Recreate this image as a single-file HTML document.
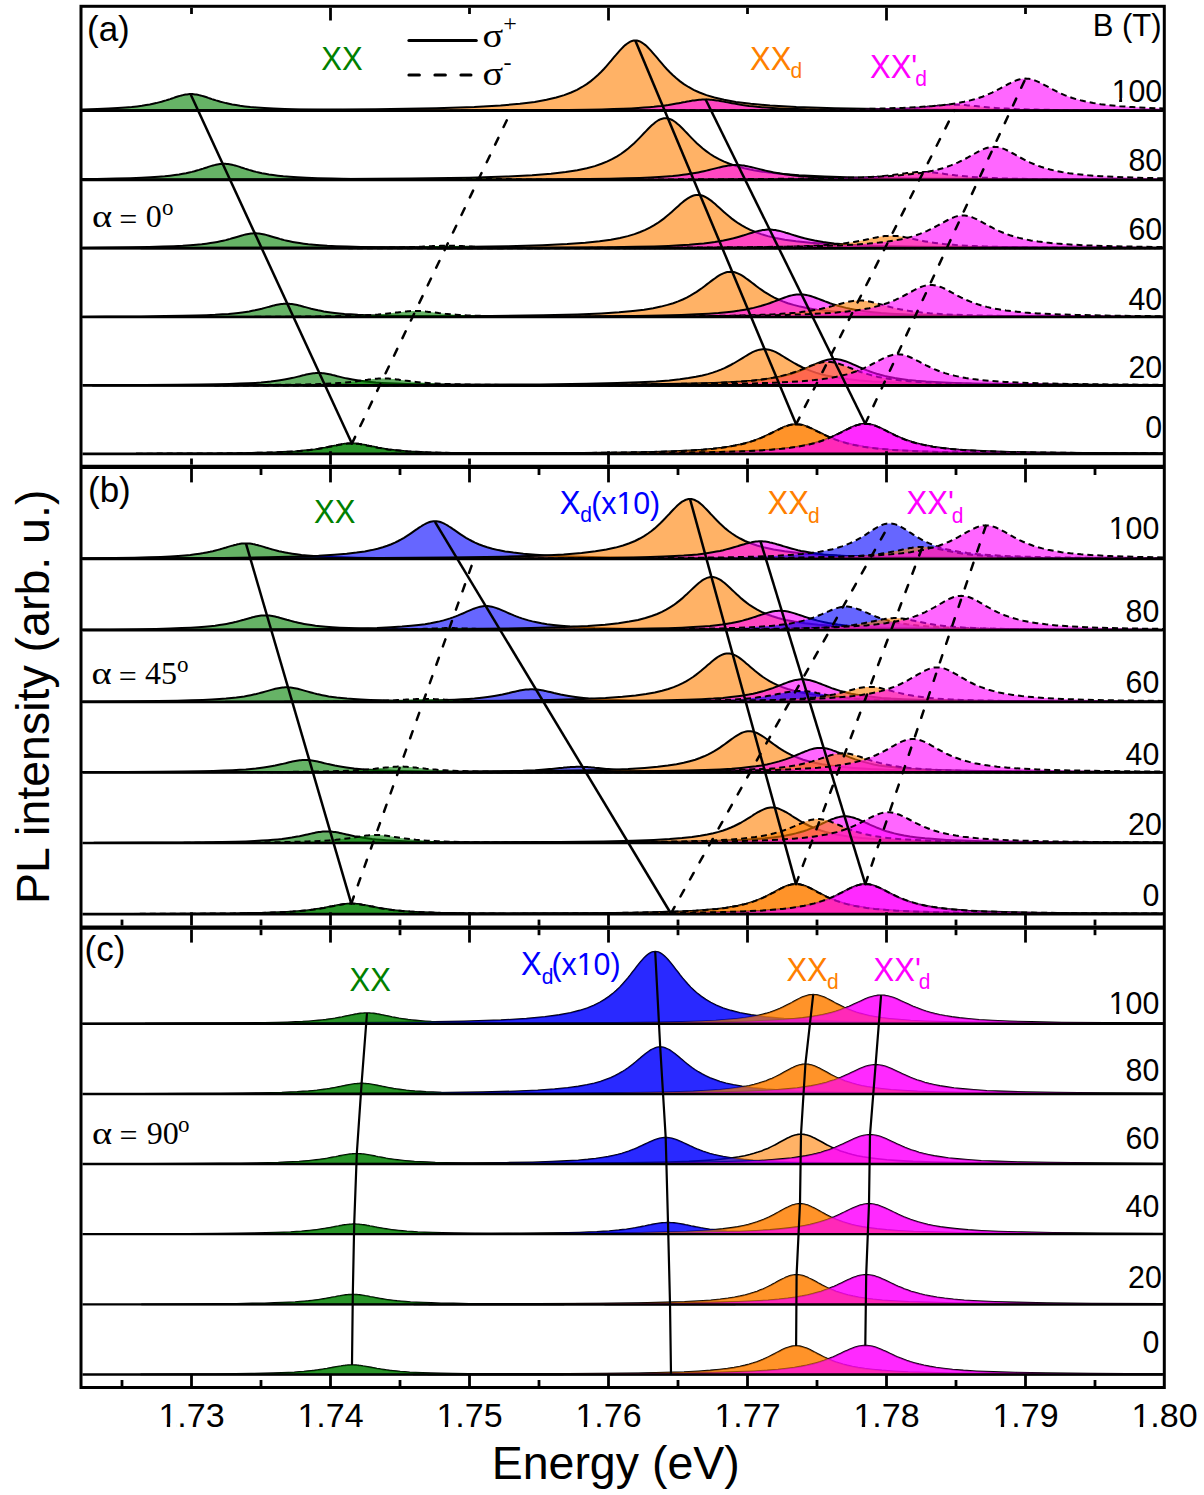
<!DOCTYPE html>
<html><head><meta charset="utf-8"><style>html,body{margin:0;padding:0;background:#fff;width:1204px;height:1495px;overflow:hidden}</style></head><body>
<svg width="1204" height="1495" viewBox="0 0 1204 1495" style="position:absolute;left:0;top:0">
<rect width="1204" height="1495" fill="#fff"/>
<path d="M82.5,110.7L82.5,109.4 82.8,109.4 97.3,109.0 108.6,108.5 117.7,108.0 125.3,107.5 131.7,107.0 137.1,106.4 141.9,105.8 146.1,105.1 149.8,104.5 153.1,103.8 156.2,103.1 158.9,102.4 161.5,101.7 163.8,101.0 166.0,100.4 168.1,99.7 170.1,99.1 171.9,98.5 173.7,97.9 175.3,97.3 176.9,96.8 178.5,96.3 180.0,95.9 181.5,95.5 182.9,95.1 184.3,94.8 185.7,94.6 187.0,94.4 188.3,94.2 189.7,94.1 191.0,94.1 192.3,94.1 193.7,94.2 195.0,94.4 196.3,94.6 197.7,94.8 199.1,95.1 200.5,95.5 202.0,95.9 203.5,96.3 205.1,96.8 206.7,97.3 208.3,97.9 210.1,98.5 211.9,99.1 213.9,99.7 216.0,100.4 218.2,101.0 220.5,101.7 223.1,102.4 225.8,103.1 228.9,103.8 232.2,104.5 235.9,105.1 240.1,105.8 244.9,106.4 250.3,107.0 256.7,107.5 264.3,108.0 273.4,108.5 284.7,109.0 299.2,109.4 318.3,109.7 345.0,110.0 385.0,110.3 451.8,110.5 451.8,110.7Z" fill="#008000" fill-opacity="0.6" stroke="#000" stroke-width="2.0"/>
<path d="M82.5,110.7L82.5,110.4 264.6,110.0 375.7,109.2 436.1,108.2 474.3,107.0 500.6,105.5 519.9,103.8 534.7,101.9 546.5,99.8 556.2,97.5 564.2,95.1 571.1,92.5 577.0,89.8 582.1,87.0 586.7,84.1 590.8,81.1 594.5,78.1 597.9,75.0 601.0,72.0 603.9,69.0 606.5,66.1 609.0,63.2 611.4,60.4 613.6,57.7 615.8,55.2 617.8,52.8 619.7,50.6 621.6,48.6 623.4,46.7 625.2,45.1 627.0,43.7 628.7,42.6 630.3,41.7 632.0,41.0 633.7,40.6 635.3,40.5 636.9,40.6 638.6,41.0 640.3,41.7 641.9,42.6 643.6,43.7 645.4,45.1 647.2,46.7 649.0,48.6 650.9,50.6 652.8,52.8 654.8,55.2 657.0,57.7 659.2,60.4 661.6,63.2 664.1,66.1 666.7,69.0 669.6,72.0 672.7,75.0 676.1,78.1 679.8,81.1 683.9,84.1 688.5,87.0 693.6,89.8 699.5,92.5 706.4,95.1 714.4,97.5 724.1,99.8 735.9,101.9 750.7,103.8 770.0,105.5 796.3,107.0 834.5,108.2 894.9,109.2 1006.0,110.0 1162.8,110.3 1162.8,110.7Z" fill="#ff7f00" fill-opacity="0.6" stroke="#000" stroke-width="2.0"/>
<path d="M450.6,110.7L450.6,110.5 506.4,110.3 542.6,110.1 568.1,109.9 587.0,109.7 601.7,109.4 613.5,109.1 623.1,108.7 631.2,108.4 638.1,108.0 644.0,107.6 649.3,107.2 653.9,106.8 658.1,106.3 661.8,105.9 665.2,105.4 668.4,105.0 671.3,104.5 674.0,104.0 676.5,103.6 678.9,103.2 681.1,102.8 683.2,102.3 685.2,102.0 687.2,101.6 689.0,101.3 690.8,100.9 692.6,100.6 694.3,100.4 695.9,100.2 697.6,100.0 699.2,99.8 700.7,99.7 702.3,99.6 703.9,99.5 705.4,99.5 706.9,99.5 708.5,99.6 710.1,99.7 711.6,99.8 713.2,100.0 714.9,100.2 716.5,100.4 718.2,100.6 720.0,100.9 721.8,101.3 723.6,101.6 725.6,102.0 727.6,102.3 729.7,102.8 731.9,103.2 734.3,103.6 736.8,104.0 739.5,104.5 742.4,105.0 745.6,105.4 749.0,105.9 752.7,106.3 756.9,106.8 761.5,107.2 766.8,107.6 772.7,108.0 779.6,108.4 787.7,108.7 797.3,109.1 809.1,109.4 823.8,109.7 842.7,109.9 868.2,110.1 904.4,110.3 960.2,110.5 960.2,110.7Z" fill="#ff00ff" fill-opacity="0.6" stroke="#000" stroke-width="2.0"/>
<path d="M461.9,110.7L461.9,110.5 464.8,110.4 467.6,110.4 470.1,110.4 472.5,110.4 474.7,110.4 476.7,110.3 478.6,110.3 480.5,110.3 482.2,110.3 483.8,110.2 485.4,110.2 486.9,110.2 488.3,110.2 489.7,110.2 491.0,110.1 492.2,110.1 493.5,110.1 494.6,110.1 495.8,110.1 496.9,110.0 498.0,110.0 499.1,110.0 500.1,110.0 501.1,110.0 502.1,110.0 503.1,110.0 504.1,109.9 505.0,109.9 506.0,109.9 506.9,109.9 507.8,109.9 508.8,109.9 509.7,109.9 510.6,109.9 511.5,109.9 512.4,109.9 513.3,109.9 514.2,109.9 515.2,109.9 516.1,109.9 517.0,109.9 518.0,109.9 518.9,109.9 519.9,110.0 520.9,110.0 521.9,110.0 522.9,110.0 523.9,110.0 525.0,110.0 526.1,110.0 527.2,110.1 528.4,110.1 529.5,110.1 530.8,110.1 532.0,110.1 533.3,110.2 534.7,110.2 536.1,110.2 537.6,110.2 539.2,110.2 540.8,110.3 542.5,110.3 544.4,110.3 546.3,110.3 548.3,110.4 550.5,110.4 552.9,110.4 555.4,110.4 558.2,110.4 561.1,110.5 561.1,110.7Z" fill="#008000" fill-opacity="0.6" stroke="#000" stroke-width="2.0" stroke-dasharray="6 4"/>
<path d="M764.3,110.7L764.3,110.5 796.7,110.4 820.1,110.3 837.8,110.1 851.7,110.0 862.9,109.8 872.1,109.6 880.0,109.5 886.7,109.3 892.5,109.1 897.6,108.8 902.2,108.6 906.3,108.4 910.0,108.2 913.3,107.9 916.4,107.7 919.3,107.5 922.0,107.2 924.5,107.0 926.8,106.8 929.0,106.5 931.1,106.3 933.1,106.1 935.1,105.9 936.9,105.8 938.7,105.6 940.4,105.4 942.1,105.3 943.7,105.1 945.3,105.0 946.8,104.9 948.4,104.8 949.9,104.8 951.4,104.7 952.9,104.7 954.4,104.7 955.9,104.7 957.4,104.7 958.9,104.8 960.4,104.8 962.0,104.9 963.5,105.0 965.1,105.1 966.7,105.3 968.4,105.4 970.1,105.6 971.9,105.8 973.7,105.9 975.7,106.1 977.7,106.3 979.8,106.5 982.0,106.8 984.3,107.0 986.8,107.2 989.5,107.5 992.4,107.7 995.5,107.9 998.8,108.2 1002.5,108.4 1006.6,108.6 1011.2,108.8 1016.3,109.1 1022.1,109.3 1028.8,109.5 1036.7,109.6 1045.9,109.8 1057.1,110.0 1071.0,110.1 1088.7,110.3 1112.1,110.4 1144.5,110.5 1144.5,110.7Z" fill="#ff7f00" fill-opacity="0.6" stroke="#000" stroke-width="2.0" stroke-dasharray="6 4"/>
<path d="M589.7,110.7L589.7,110.5 733.4,110.2 806.5,109.8 850.8,109.3 880.7,108.6 902.2,107.9 918.5,107.1 931.4,106.2 941.8,105.2 950.4,104.2 957.7,103.0 964.0,101.8 969.4,100.6 974.3,99.3 978.6,98.0 982.4,96.7 985.9,95.3 989.2,93.9 992.1,92.6 994.9,91.2 997.4,89.9 999.9,88.6 1002.1,87.4 1004.3,86.2 1006.4,85.1 1008.4,84.0 1010.3,83.1 1012.1,82.2 1013.9,81.3 1015.6,80.6 1017.3,80.0 1019.0,79.5 1020.6,79.1 1022.3,78.8 1023.9,78.7 1025.5,78.6 1027.1,78.7 1028.7,78.8 1030.4,79.1 1032.0,79.5 1033.7,80.0 1035.4,80.6 1037.1,81.3 1038.9,82.2 1040.7,83.1 1042.6,84.0 1044.6,85.1 1046.7,86.2 1048.9,87.4 1051.1,88.6 1053.6,89.9 1056.1,91.2 1058.9,92.6 1061.8,93.9 1065.1,95.3 1068.6,96.7 1072.4,98.0 1076.7,99.3 1081.6,100.6 1087.0,101.8 1093.3,103.0 1100.6,104.2 1109.2,105.2 1119.6,106.2 1132.5,107.1 1148.8,107.9 1162.8,108.4 1162.8,110.7Z" fill="#ff00ff" fill-opacity="0.6" stroke="#000" stroke-width="2.0" stroke-dasharray="6 4"/>
<line x1="82.5" y1="110.7" x2="1162.8" y2="110.7" stroke="#000" stroke-width="2.7"/>
<path d="M82.5,179.9L82.5,179.1 96.7,178.9 115.8,178.6 130.3,178.2 141.6,177.8 150.7,177.3 158.3,176.8 164.7,176.3 170.1,175.7 174.9,175.1 179.1,174.5 182.8,173.8 186.1,173.2 189.2,172.5 191.9,171.9 194.5,171.2 196.8,170.5 199.0,169.9 201.1,169.2 203.1,168.6 204.9,168.0 206.7,167.5 208.3,166.9 209.9,166.4 211.5,165.9 213.0,165.5 214.5,165.1 215.9,164.8 217.3,164.5 218.7,164.2 220.0,164.0 221.3,163.9 222.7,163.8 224.0,163.8 225.3,163.8 226.7,163.9 228.0,164.0 229.3,164.2 230.7,164.5 232.1,164.8 233.5,165.1 235.0,165.5 236.5,165.9 238.1,166.4 239.7,166.9 241.3,167.5 243.1,168.0 244.9,168.6 246.9,169.2 249.0,169.9 251.2,170.5 253.5,171.2 256.1,171.9 258.8,172.5 261.9,173.2 265.2,173.8 268.9,174.5 273.1,175.1 277.9,175.7 283.3,176.3 289.7,176.8 297.3,177.3 306.4,177.8 317.7,178.2 332.2,178.6 351.3,178.9 378.0,179.2 418.0,179.5 484.8,179.7 484.8,179.9Z" fill="#008000" fill-opacity="0.6" stroke="#000" stroke-width="2.0"/>
<path d="M82.5,179.9L82.5,179.6 304.9,179.2 410.8,178.6 469.2,177.7 506.3,176.6 532.1,175.3 551.0,173.8 565.7,172.1 577.3,170.2 586.8,168.2 594.8,166.1 601.5,163.8 607.4,161.4 612.5,158.9 617.1,156.4 621.2,153.8 624.8,151.1 628.2,148.5 631.3,145.8 634.2,143.2 636.8,140.6 639.3,138.1 641.7,135.6 643.9,133.3 646.0,131.1 648.0,129.0 650.0,127.0 651.8,125.3 653.7,123.7 655.4,122.2 657.2,121.0 658.9,120.0 660.6,119.2 662.2,118.7 663.9,118.3 665.5,118.2 667.1,118.3 668.8,118.7 670.4,119.2 672.1,120.0 673.8,121.0 675.6,122.2 677.3,123.7 679.2,125.3 681.0,127.0 683.0,129.0 685.0,131.1 687.1,133.3 689.3,135.6 691.7,138.1 694.2,140.6 696.8,143.2 699.7,145.8 702.8,148.5 706.2,151.1 709.8,153.8 713.9,156.4 718.5,158.9 723.6,161.4 729.5,163.8 736.2,166.1 744.2,168.2 753.7,170.2 765.3,172.1 780.0,173.8 798.9,175.3 824.7,176.6 861.8,177.7 920.2,178.6 1026.1,179.2 1162.8,179.5 1162.8,179.9Z" fill="#ff7f00" fill-opacity="0.6" stroke="#000" stroke-width="2.0"/>
<path d="M441.1,179.9L441.1,179.7 513.8,179.5 558.2,179.2 588.3,179.0 610.0,178.7 626.6,178.3 639.6,177.9 650.1,177.5 658.9,177.0 666.3,176.5 672.7,176.0 678.2,175.4 683.1,174.8 687.4,174.2 691.4,173.6 694.9,173.0 698.2,172.4 701.2,171.8 703.9,171.2 706.5,170.6 709.0,170.0 711.3,169.4 713.4,168.9 715.5,168.4 717.5,167.9 719.4,167.4 721.2,167.0 723.0,166.6 724.7,166.2 726.4,165.9 728.1,165.6 729.7,165.4 731.3,165.2 732.9,165.1 734.4,165.0 736.0,165.0 737.6,165.0 739.1,165.1 740.7,165.2 742.3,165.4 743.9,165.6 745.6,165.9 747.3,166.2 749.0,166.6 750.8,167.0 752.6,167.4 754.5,167.9 756.5,168.4 758.6,168.9 760.7,169.4 763.0,170.0 765.5,170.6 768.1,171.2 770.8,171.8 773.8,172.4 777.1,173.0 780.6,173.6 784.6,174.2 788.9,174.8 793.8,175.4 799.3,176.0 805.7,176.5 813.1,177.0 821.9,177.5 832.4,177.9 845.4,178.3 862.0,178.7 883.7,179.0 913.8,179.2 958.2,179.5 1030.9,179.7 1030.9,179.9Z" fill="#ff00ff" fill-opacity="0.6" stroke="#000" stroke-width="2.0"/>
<path d="M406.2,179.9L406.2,179.7 412.3,179.6 417.7,179.6 422.4,179.5 426.6,179.5 430.3,179.5 433.7,179.4 436.8,179.4 439.6,179.3 442.2,179.3 444.6,179.2 446.9,179.2 449.0,179.1 450.9,179.1 452.8,179.0 454.5,179.0 456.2,178.9 457.8,178.9 459.3,178.8 460.8,178.8 462.1,178.7 463.5,178.7 464.8,178.7 466.1,178.6 467.3,178.6 468.5,178.6 469.7,178.5 470.8,178.5 471.9,178.5 473.1,178.5 474.2,178.4 475.2,178.4 476.3,178.4 477.4,178.4 478.4,178.4 479.5,178.4 480.6,178.4 481.6,178.4 482.7,178.4 483.8,178.4 484.8,178.4 485.9,178.5 487.1,178.5 488.2,178.5 489.3,178.5 490.5,178.6 491.7,178.6 492.9,178.6 494.2,178.7 495.5,178.7 496.9,178.7 498.2,178.8 499.7,178.8 501.2,178.9 502.8,178.9 504.5,179.0 506.2,179.0 508.1,179.1 510.0,179.1 512.1,179.2 514.4,179.2 516.8,179.3 519.4,179.3 522.2,179.4 525.3,179.4 528.7,179.5 532.4,179.5 536.6,179.5 541.3,179.6 546.7,179.6 552.8,179.7 552.8,179.9Z" fill="#008000" fill-opacity="0.6" stroke="#000" stroke-width="2.0" stroke-dasharray="6 4"/>
<path d="M702.7,179.9L702.7,179.7 745.3,179.5 774.5,179.4 795.8,179.2 812.1,179.1 825.0,178.8 835.5,178.6 844.3,178.4 851.7,178.1 858.0,177.8 863.6,177.6 868.5,177.3 872.8,177.0 876.8,176.7 880.4,176.3 883.6,176.0 886.6,175.7 889.4,175.4 892.0,175.1 894.5,174.8 896.7,174.5 898.9,174.2 901.0,173.9 903.0,173.6 904.9,173.4 906.7,173.1 908.4,172.9 910.1,172.7 911.8,172.5 913.4,172.4 915.0,172.2 916.6,172.1 918.2,172.0 919.7,172.0 921.2,171.9 922.7,171.9 924.3,171.9 925.8,172.0 927.3,172.0 928.9,172.1 930.4,172.2 932.0,172.4 933.7,172.5 935.3,172.7 937.0,172.9 938.8,173.1 940.6,173.4 942.5,173.6 944.5,173.9 946.6,174.2 948.7,174.5 951.0,174.8 953.5,175.1 956.1,175.4 958.9,175.7 961.9,176.0 965.1,176.3 968.7,176.7 972.6,177.0 977.0,177.3 981.9,177.6 987.5,177.8 993.8,178.1 1001.2,178.4 1009.9,178.6 1020.4,178.8 1033.3,179.1 1049.6,179.2 1071.0,179.4 1100.2,179.5 1142.8,179.7 1142.8,179.9Z" fill="#ff7f00" fill-opacity="0.6" stroke="#000" stroke-width="2.0" stroke-dasharray="6 4"/>
<path d="M558.2,179.9L558.2,179.7 701.9,179.3 775.0,178.9 819.3,178.4 849.2,177.8 870.7,177.0 887.0,176.2 899.9,175.3 910.3,174.2 918.9,173.2 926.2,172.0 932.5,170.8 937.9,169.5 942.8,168.2 947.1,166.8 950.9,165.4 954.4,164.0 957.7,162.6 960.6,161.2 963.4,159.8 965.9,158.5 968.4,157.2 970.6,155.9 972.8,154.7 974.9,153.5 976.9,152.4 978.8,151.4 980.6,150.5 982.4,149.6 984.1,148.9 985.8,148.3 987.5,147.7 989.1,147.3 990.8,147.0 992.4,146.9 994.0,146.8 995.6,146.9 997.2,147.0 998.9,147.3 1000.5,147.7 1002.2,148.3 1003.9,148.9 1005.6,149.6 1007.4,150.5 1009.2,151.4 1011.1,152.4 1013.1,153.5 1015.2,154.7 1017.4,155.9 1019.6,157.2 1022.1,158.5 1024.6,159.8 1027.4,161.2 1030.3,162.6 1033.6,164.0 1037.1,165.4 1040.9,166.8 1045.2,168.2 1050.1,169.5 1055.5,170.8 1061.8,172.0 1069.1,173.2 1077.7,174.2 1088.1,175.3 1101.0,176.2 1117.3,177.0 1138.8,177.8 1162.8,178.3 1162.8,179.9Z" fill="#ff00ff" fill-opacity="0.6" stroke="#000" stroke-width="2.0" stroke-dasharray="6 4"/>
<line x1="82.5" y1="179.9" x2="1162.8" y2="179.9" stroke="#000" stroke-width="2.7"/>
<path d="M82.5,248.2L82.5,247.7 105.3,247.5 130.6,247.3 148.9,247.0 162.8,246.6 173.8,246.2 182.7,245.8 190.1,245.3 196.3,244.8 201.7,244.3 206.3,243.7 210.4,243.1 214.1,242.5 217.4,241.9 220.4,241.3 223.1,240.7 225.7,240.1 228.0,239.5 230.2,238.9 232.2,238.3 234.2,237.7 236.0,237.2 237.7,236.7 239.4,236.2 241.0,235.7 242.6,235.3 244.0,234.9 245.5,234.5 246.9,234.2 248.3,233.9 249.7,233.7 251.0,233.5 252.4,233.4 253.7,233.3 255.0,233.3 256.3,233.3 257.6,233.4 259.0,233.5 260.3,233.7 261.7,233.9 263.1,234.2 264.5,234.5 266.0,234.9 267.4,235.3 269.0,235.7 270.6,236.2 272.3,236.7 274.0,237.2 275.8,237.7 277.8,238.3 279.8,238.9 282.0,239.5 284.3,240.1 286.9,240.7 289.6,241.3 292.6,241.9 295.9,242.5 299.6,243.1 303.7,243.7 308.3,244.3 313.7,244.8 319.9,245.3 327.3,245.8 336.2,246.2 347.2,246.6 361.1,247.0 379.4,247.3 404.7,247.5 442.1,247.8 503.4,248.0 503.4,248.2Z" fill="#008000" fill-opacity="0.6" stroke="#000" stroke-width="2.0"/>
<path d="M141.6,248.2L141.6,248.0 357.3,247.5 453.1,246.9 507.4,246.2 542.5,245.2 567.1,244.0 585.3,242.7 599.5,241.3 610.8,239.7 620.0,237.9 627.8,236.1 634.5,234.1 640.2,232.0 645.3,229.9 649.8,227.7 653.8,225.4 657.4,223.2 660.7,220.9 663.8,218.6 666.6,216.3 669.3,214.1 671.7,211.9 674.1,209.8 676.3,207.8 678.4,205.9 680.4,204.1 682.3,202.5 684.2,200.9 686.0,199.6 687.8,198.4 689.5,197.3 691.2,196.5 692.9,195.8 694.5,195.3 696.2,195.0 697.8,194.9 699.4,195.0 701.1,195.3 702.7,195.8 704.4,196.5 706.1,197.3 707.8,198.4 709.6,199.6 711.4,200.9 713.3,202.5 715.2,204.1 717.2,205.9 719.3,207.8 721.5,209.8 723.9,211.9 726.3,214.1 729.0,216.3 731.8,218.6 734.9,220.9 738.2,223.2 741.8,225.4 745.8,227.7 750.3,229.9 755.4,232.0 761.1,234.1 767.8,236.1 775.6,237.9 784.8,239.7 796.1,241.3 810.3,242.7 828.5,244.0 853.1,245.2 888.2,246.2 942.5,246.9 1038.3,247.5 1162.8,247.8 1162.8,248.2Z" fill="#ff7f00" fill-opacity="0.6" stroke="#000" stroke-width="2.0"/>
<path d="M427.6,248.2L427.6,248.0 521.8,247.8 575.9,247.5 611.0,247.2 635.7,246.8 654.1,246.4 668.4,245.9 679.8,245.3 689.2,244.8 697.1,244.1 703.8,243.5 709.7,242.8 714.8,242.1 719.3,241.3 723.4,240.6 727.1,239.8 730.5,239.0 733.5,238.3 736.4,237.5 739.1,236.7 741.5,236.0 743.9,235.3 746.1,234.6 748.2,233.9 750.2,233.2 752.2,232.7 754.0,232.1 755.8,231.6 757.6,231.1 759.3,230.7 761.0,230.4 762.6,230.1 764.2,229.9 765.8,229.7 767.4,229.6 769.0,229.6 770.6,229.6 772.2,229.7 773.8,229.9 775.4,230.1 777.0,230.4 778.7,230.7 780.4,231.1 782.2,231.6 784.0,232.1 785.8,232.7 787.8,233.2 789.8,233.9 791.9,234.6 794.1,235.3 796.5,236.0 798.9,236.7 801.6,237.5 804.5,238.3 807.5,239.0 810.9,239.8 814.6,240.6 818.7,241.3 823.2,242.1 828.3,242.8 834.2,243.5 840.9,244.1 848.8,244.8 858.2,245.3 869.6,245.9 883.9,246.4 902.3,246.8 927.0,247.2 962.1,247.5 1016.2,247.8 1110.4,248.0 1110.4,248.2Z" fill="#ff00ff" fill-opacity="0.6" stroke="#000" stroke-width="2.0"/>
<path d="M349.2,248.2L349.2,248.0 360.0,247.9 368.9,247.8 376.3,247.8 382.6,247.7 388.1,247.6 392.9,247.6 397.1,247.5 400.9,247.4 404.3,247.3 407.4,247.2 410.2,247.1 412.8,247.0 415.2,247.0 417.5,246.9 419.6,246.8 421.5,246.7 423.4,246.6 425.1,246.5 426.8,246.4 428.4,246.4 429.9,246.3 431.4,246.2 432.8,246.1 434.2,246.1 435.5,246.0 436.8,246.0 438.1,245.9 439.3,245.9 440.5,245.8 441.7,245.8 442.9,245.8 444.0,245.7 445.2,245.7 446.4,245.7 447.5,245.7 448.6,245.7 449.8,245.7 451.0,245.7 452.1,245.8 453.3,245.8 454.5,245.8 455.7,245.9 456.9,245.9 458.2,246.0 459.5,246.0 460.8,246.1 462.2,246.1 463.6,246.2 465.1,246.3 466.6,246.4 468.2,246.4 469.9,246.5 471.6,246.6 473.5,246.7 475.4,246.8 477.5,246.9 479.8,247.0 482.2,247.0 484.8,247.1 487.6,247.2 490.7,247.3 494.1,247.4 497.9,247.5 502.1,247.6 506.9,247.6 512.4,247.7 518.7,247.8 526.1,247.8 535.0,247.9 545.8,248.0 545.8,248.2Z" fill="#008000" fill-opacity="0.6" stroke="#000" stroke-width="2.0" stroke-dasharray="6 4"/>
<path d="M623.6,248.2L623.6,248.0 684.5,247.8 723.4,247.6 750.3,247.4 770.2,247.1 785.5,246.8 797.6,246.4 807.6,246.1 815.9,245.7 822.9,245.3 829.0,244.8 834.4,244.4 839.1,243.9 843.3,243.4 847.1,242.9 850.6,242.4 853.8,241.9 856.7,241.4 859.4,240.9 862.0,240.4 864.4,239.9 866.6,239.4 868.8,239.0 870.8,238.5 872.8,238.1 874.6,237.8 876.4,237.4 878.2,237.1 879.9,236.8 881.6,236.5 883.2,236.3 884.8,236.1 886.4,236.0 888.0,235.9 889.5,235.8 891.1,235.8 892.6,235.8 894.2,235.9 895.8,236.0 897.3,236.1 899.0,236.3 900.6,236.5 902.3,236.8 904.0,237.1 905.7,237.4 907.5,237.8 909.4,238.1 911.4,238.5 913.4,239.0 915.5,239.4 917.8,239.9 920.2,240.4 922.7,240.9 925.4,241.4 928.4,241.9 931.6,242.4 935.0,242.9 938.8,243.4 943.1,243.9 947.8,244.4 953.1,244.8 959.2,245.3 966.3,245.7 974.6,246.1 984.5,246.4 996.7,246.8 1012.0,247.1 1031.9,247.4 1058.8,247.6 1097.6,247.8 1158.6,248.0 1158.6,248.2Z" fill="#ff7f00" fill-opacity="0.6" stroke="#000" stroke-width="2.0" stroke-dasharray="6 4"/>
<path d="M527.2,248.2L527.2,248.0 670.9,247.7 744.0,247.2 788.3,246.7 818.2,246.1 839.7,245.4 856.0,244.5 868.9,243.6 879.3,242.6 887.9,241.5 895.2,240.4 901.5,239.2 906.9,237.9 911.8,236.6 916.1,235.3 919.9,233.9 923.4,232.5 926.7,231.1 929.6,229.7 932.4,228.4 934.9,227.0 937.4,225.7 939.6,224.5 941.8,223.3 943.9,222.1 945.9,221.0 947.8,220.0 949.6,219.1 951.4,218.3 953.1,217.6 954.8,216.9 956.5,216.4 958.1,216.0 959.8,215.7 961.4,215.6 963.0,215.5 964.6,215.6 966.2,215.7 967.9,216.0 969.5,216.4 971.2,216.9 972.9,217.6 974.6,218.3 976.4,219.1 978.2,220.0 980.1,221.0 982.1,222.1 984.2,223.3 986.4,224.5 988.6,225.7 991.1,227.0 993.6,228.4 996.4,229.7 999.3,231.1 1002.6,232.5 1006.1,233.9 1009.9,235.3 1014.2,236.6 1019.1,237.9 1024.5,239.2 1030.8,240.4 1038.1,241.5 1046.7,242.6 1057.1,243.6 1070.0,244.5 1086.3,245.4 1107.8,246.1 1137.7,246.7 1162.8,247.1 1162.8,248.2Z" fill="#ff00ff" fill-opacity="0.6" stroke="#000" stroke-width="2.0" stroke-dasharray="6 4"/>
<line x1="82.5" y1="248.2" x2="1162.8" y2="248.2" stroke="#000" stroke-width="2.7"/>
<path d="M82.5,317.0L82.5,316.7 106.0,316.6 141.0,316.4 165.0,316.1 182.5,315.8 195.9,315.5 206.5,315.2 215.2,314.8 222.4,314.3 228.5,313.9 233.7,313.4 238.3,312.9 242.3,312.4 245.9,311.9 249.2,311.4 252.2,310.8 254.9,310.3 257.4,309.7 259.7,309.2 261.8,308.7 263.9,308.1 265.8,307.6 267.6,307.1 269.3,306.7 271.0,306.2 272.6,305.8 274.1,305.4 275.6,305.1 277.0,304.8 278.5,304.5 279.8,304.3 281.2,304.1 282.5,303.9 283.9,303.8 285.2,303.7 286.5,303.7 287.8,303.7 289.1,303.8 290.5,303.9 291.8,304.1 293.2,304.3 294.5,304.5 296.0,304.8 297.4,305.1 298.9,305.4 300.4,305.8 302.0,306.2 303.7,306.7 305.4,307.1 307.2,307.6 309.1,308.1 311.2,308.7 313.3,309.2 315.6,309.7 318.1,310.3 320.8,310.8 323.8,311.4 327.1,311.9 330.7,312.4 334.7,312.9 339.3,313.4 344.5,313.9 350.6,314.3 357.8,314.8 366.5,315.2 377.1,315.5 390.5,315.8 408.0,316.1 432.0,316.4 467.0,316.6 523.0,316.8 523.0,317.0Z" fill="#008000" fill-opacity="0.6" stroke="#000" stroke-width="2.0"/>
<path d="M200.8,317.0L200.8,316.8 399.9,316.4 490.9,315.9 543.2,315.2 577.2,314.4 601.2,313.4 619.1,312.3 632.9,311.0 644.1,309.7 653.2,308.2 660.9,306.6 667.5,304.9 673.2,303.2 678.2,301.4 682.7,299.5 686.7,297.6 690.3,295.7 693.6,293.7 696.6,291.8 699.4,289.9 702.1,288.0 704.5,286.2 706.8,284.4 709.0,282.7 711.1,281.1 713.1,279.6 715.1,278.2 716.9,276.9 718.8,275.7 720.5,274.7 722.2,273.8 723.9,273.1 725.6,272.5 727.2,272.1 728.9,271.9 730.5,271.8 732.1,271.9 733.8,272.1 735.4,272.5 737.1,273.1 738.8,273.8 740.5,274.7 742.2,275.7 744.1,276.9 745.9,278.2 747.9,279.6 749.9,281.1 752.0,282.7 754.2,284.4 756.5,286.2 758.9,288.0 761.6,289.9 764.4,291.8 767.4,293.7 770.7,295.7 774.3,297.6 778.3,299.5 782.8,301.4 787.8,303.2 793.5,304.9 800.1,306.6 807.8,308.2 816.9,309.7 828.1,311.0 841.9,312.3 859.8,313.4 883.8,314.4 917.8,315.2 970.1,315.9 1061.1,316.4 1162.8,316.7 1162.8,317.0Z" fill="#ff7f00" fill-opacity="0.6" stroke="#000" stroke-width="2.0"/>
<path d="M423.4,317.0L423.4,316.8 535.2,316.5 596.3,316.2 635.0,315.9 661.8,315.4 681.4,314.9 696.5,314.3 708.6,313.7 718.4,313.0 726.6,312.2 733.5,311.4 739.5,310.6 744.8,309.7 749.5,308.8 753.6,307.9 757.4,306.9 760.8,306.0 764.0,305.0 766.9,304.1 769.6,303.2 772.1,302.2 774.5,301.4 776.7,300.5 778.8,299.7 780.9,298.9 782.8,298.2 784.7,297.5 786.5,296.9 788.3,296.3 790.0,295.8 791.7,295.4 793.4,295.0 795.0,294.8 796.6,294.6 798.2,294.4 799.8,294.4 801.4,294.4 803.0,294.6 804.6,294.8 806.2,295.0 807.9,295.4 809.6,295.8 811.3,296.3 813.1,296.9 814.9,297.5 816.8,298.2 818.7,298.9 820.8,299.7 822.9,300.5 825.1,301.4 827.5,302.2 830.0,303.2 832.7,304.1 835.6,305.0 838.8,306.0 842.2,306.9 846.0,307.9 850.1,308.8 854.8,309.7 860.1,310.6 866.1,311.4 873.0,312.2 881.2,313.0 891.0,313.7 903.1,314.3 918.2,314.9 937.8,315.4 964.6,315.9 1003.3,316.2 1064.4,316.5 1162.8,316.8 1162.8,317.0Z" fill="#ff00ff" fill-opacity="0.6" stroke="#000" stroke-width="2.0"/>
<path d="M255.4,317.0L255.4,316.8 282.7,316.7 302.4,316.6 317.3,316.4 329.0,316.3 338.4,316.1 346.2,315.9 352.8,315.8 358.5,315.6 363.4,315.4 367.7,315.1 371.5,314.9 375.0,314.7 378.1,314.5 380.9,314.2 383.5,314.0 385.9,313.8 388.2,313.5 390.3,313.3 392.3,313.1 394.1,312.8 395.9,312.6 397.6,312.4 399.2,312.2 400.8,312.1 402.3,311.9 403.7,311.7 405.1,311.6 406.5,311.4 407.8,311.3 409.1,311.2 410.4,311.1 411.7,311.1 413.0,311.0 414.2,311.0 415.5,311.0 416.8,311.0 418.0,311.0 419.3,311.1 420.6,311.1 421.9,311.2 423.2,311.3 424.5,311.4 425.9,311.6 427.3,311.7 428.7,311.9 430.2,312.1 431.8,312.2 433.4,312.4 435.1,312.6 436.9,312.8 438.7,313.1 440.7,313.3 442.8,313.5 445.1,313.8 447.5,314.0 450.1,314.2 452.9,314.5 456.0,314.7 459.5,314.9 463.3,315.1 467.6,315.4 472.5,315.6 478.2,315.8 484.8,315.9 492.6,316.1 502.0,316.3 513.7,316.4 528.6,316.6 548.3,316.7 575.6,316.8 575.6,317.0Z" fill="#008000" fill-opacity="0.6" stroke="#000" stroke-width="2.0" stroke-dasharray="6 4"/>
<path d="M549.7,317.0L549.7,316.8 629.1,316.6 676.5,316.3 708.2,316.0 731.0,315.7 748.1,315.3 761.6,314.8 772.4,314.4 781.4,313.8 789.0,313.3 795.4,312.7 801.1,312.1 806.1,311.4 810.5,310.8 814.4,310.1 818.1,309.4 821.3,308.8 824.4,308.1 827.2,307.4 829.8,306.7 832.2,306.1 834.6,305.4 836.7,304.8 838.8,304.2 840.8,303.7 842.7,303.2 844.6,302.7 846.4,302.2 848.1,301.8 849.8,301.5 851.4,301.2 853.1,300.9 854.7,300.8 856.3,300.6 857.8,300.5 859.4,300.5 861.0,300.5 862.6,300.6 864.2,300.8 865.8,300.9 867.4,301.2 869.1,301.5 870.7,301.8 872.5,302.2 874.3,302.7 876.1,303.2 878.0,303.7 880.0,304.2 882.1,304.8 884.3,305.4 886.6,306.1 889.1,306.7 891.7,307.4 894.5,308.1 897.5,308.8 900.8,309.4 904.4,310.1 908.4,310.8 912.8,311.4 917.8,312.1 923.4,312.7 929.9,313.3 937.4,313.8 946.4,314.4 957.3,314.8 970.7,315.3 987.9,315.7 1010.6,316.0 1042.3,316.3 1089.8,316.6 1162.8,316.7 1162.8,317.0Z" fill="#ff7f00" fill-opacity="0.6" stroke="#000" stroke-width="2.0" stroke-dasharray="6 4"/>
<path d="M495.0,317.0L495.0,316.8 638.7,316.5 711.8,316.1 756.1,315.6 786.0,314.9 807.5,314.2 823.8,313.4 836.7,312.5 847.1,311.5 855.7,310.5 863.0,309.3 869.3,308.2 874.7,306.9 879.6,305.6 883.9,304.3 887.7,303.0 891.2,301.6 894.5,300.3 897.4,298.9 900.2,297.6 902.7,296.3 905.2,295.0 907.4,293.8 909.6,292.6 911.7,291.5 913.7,290.4 915.6,289.4 917.4,288.5 919.2,287.7 920.9,287.0 922.6,286.4 924.3,285.9 925.9,285.5 927.6,285.2 929.2,285.1 930.8,285.0 932.4,285.1 934.0,285.2 935.7,285.5 937.3,285.9 939.0,286.4 940.7,287.0 942.4,287.7 944.2,288.5 946.0,289.4 947.9,290.4 949.9,291.5 952.0,292.6 954.2,293.8 956.4,295.0 958.9,296.3 961.4,297.6 964.2,298.9 967.1,300.3 970.4,301.6 973.9,303.0 977.7,304.3 982.0,305.6 986.9,306.9 992.3,308.2 998.6,309.3 1005.9,310.5 1014.5,311.5 1024.9,312.5 1037.8,313.4 1054.1,314.2 1075.6,314.9 1105.5,315.6 1149.8,316.1 1162.8,316.2 1162.8,317.0Z" fill="#ff00ff" fill-opacity="0.6" stroke="#000" stroke-width="2.0" stroke-dasharray="6 4"/>
<line x1="82.5" y1="317.0" x2="1162.8" y2="317.0" stroke="#000" stroke-width="2.7"/>
<path d="M93.2,385.4L93.2,385.2 144.6,385.0 177.3,384.8 200.0,384.6 216.7,384.3 229.6,384.0 239.8,383.6 248.2,383.3 255.2,382.9 261.1,382.5 266.3,382.0 270.8,381.6 274.7,381.1 278.3,380.6 281.5,380.1 284.4,379.6 287.1,379.1 289.6,378.6 291.9,378.1 294.0,377.6 296.0,377.1 297.9,376.6 299.7,376.2 301.4,375.7 303.1,375.3 304.6,375.0 306.2,374.6 307.7,374.3 309.1,374.0 310.5,373.7 311.9,373.5 313.2,373.3 314.6,373.2 315.9,373.1 317.2,373.0 318.5,373.0 319.8,373.0 321.1,373.1 322.4,373.2 323.8,373.3 325.1,373.5 326.5,373.7 327.9,374.0 329.3,374.3 330.8,374.6 332.4,375.0 333.9,375.3 335.6,375.7 337.3,376.2 339.1,376.6 341.0,377.1 343.0,377.6 345.1,378.1 347.4,378.6 349.9,379.1 352.6,379.6 355.5,380.1 358.7,380.6 362.3,381.1 366.2,381.6 370.7,382.0 375.9,382.5 381.8,382.9 388.8,383.3 397.2,383.6 407.4,384.0 420.3,384.3 437.0,384.6 459.7,384.8 492.4,385.0 543.8,385.2 543.8,385.4Z" fill="#008000" fill-opacity="0.6" stroke="#000" stroke-width="2.0"/>
<path d="M306.7,385.4L306.7,385.2 462.7,384.8 540.0,384.4 586.3,383.8 617.2,383.1 639.3,382.3 656.1,381.4 669.2,380.4 679.8,379.3 688.5,378.1 695.9,376.8 702.3,375.5 707.8,374.1 712.7,372.6 717.0,371.1 720.9,369.6 724.5,368.1 727.7,366.5 730.7,365.0 733.5,363.5 736.0,362.0 738.5,360.5 740.8,359.1 742.9,357.8 745.0,356.5 747.0,355.3 748.9,354.2 750.8,353.1 752.5,352.2 754.3,351.4 756.0,350.7 757.7,350.1 759.3,349.7 761.0,349.4 762.6,349.2 764.2,349.1 765.8,349.2 767.4,349.4 769.1,349.7 770.7,350.1 772.4,350.7 774.1,351.4 775.9,352.2 777.6,353.1 779.5,354.2 781.4,355.3 783.4,356.5 785.5,357.8 787.6,359.1 789.9,360.5 792.4,362.0 794.9,363.5 797.7,365.0 800.7,366.5 803.9,368.1 807.5,369.6 811.4,371.1 815.7,372.6 820.6,374.1 826.1,375.5 832.5,376.8 839.9,378.1 848.6,379.3 859.2,380.4 872.3,381.4 889.1,382.3 911.2,383.1 942.1,383.8 988.4,384.4 1065.7,384.8 1162.8,385.1 1162.8,385.4Z" fill="#ff7f00" fill-opacity="0.6" stroke="#000" stroke-width="2.0"/>
<path d="M438.8,385.4L438.8,385.2 560.4,384.9 625.3,384.6 665.9,384.1 693.7,383.6 713.9,383.0 729.5,382.3 741.8,381.6 751.8,380.8 760.1,379.9 767.2,378.9 773.3,378.0 778.6,376.9 783.4,375.9 787.6,374.8 791.4,373.7 794.8,372.6 798.0,371.5 800.9,370.4 803.6,369.3 806.2,368.2 808.6,367.2 810.8,366.2 813.0,365.2 815.0,364.3 817.0,363.4 818.9,362.6 820.7,361.9 822.5,361.2 824.2,360.7 825.9,360.2 827.5,359.7 829.2,359.4 830.8,359.2 832.4,359.0 834.0,359.0 835.6,359.0 837.2,359.2 838.8,359.4 840.5,359.7 842.1,360.2 843.8,360.7 845.5,361.2 847.3,361.9 849.1,362.6 851.0,363.4 853.0,364.3 855.0,365.2 857.2,366.2 859.4,367.2 861.8,368.2 864.4,369.3 867.1,370.4 870.0,371.5 873.2,372.6 876.6,373.7 880.4,374.8 884.6,375.9 889.4,376.9 894.7,378.0 900.8,378.9 907.9,379.9 916.2,380.8 926.2,381.6 938.5,382.3 954.1,383.0 974.3,383.6 1002.1,384.1 1042.7,384.6 1107.6,384.9 1162.8,385.1 1162.8,385.4Z" fill="#ff00ff" fill-opacity="0.6" stroke="#000" stroke-width="2.0"/>
<path d="M215.4,385.4L215.4,385.2 245.3,385.0 266.6,384.9 282.4,384.8 294.8,384.6 304.7,384.4 312.8,384.2 319.7,384.0 325.5,383.8 330.6,383.5 335.0,383.3 338.9,383.0 342.5,382.8 345.6,382.5 348.5,382.2 351.2,381.9 353.7,381.7 355.9,381.4 358.1,381.1 360.1,380.8 362.0,380.6 363.7,380.3 365.5,380.1 367.1,379.9 368.6,379.6 370.2,379.4 371.6,379.2 373.0,379.1 374.4,378.9 375.8,378.8 377.1,378.7 378.4,378.6 379.7,378.5 381.0,378.4 382.2,378.4 383.5,378.4 384.8,378.4 386.0,378.4 387.3,378.5 388.6,378.6 389.9,378.7 391.2,378.8 392.6,378.9 394.0,379.1 395.4,379.2 396.8,379.4 398.4,379.6 399.9,379.9 401.5,380.1 403.3,380.3 405.0,380.6 406.9,380.8 408.9,381.1 411.1,381.4 413.3,381.7 415.8,381.9 418.5,382.2 421.4,382.5 424.5,382.8 428.1,383.0 432.0,383.3 436.4,383.5 441.5,383.8 447.3,384.0 454.2,384.2 462.3,384.4 472.2,384.6 484.6,384.8 500.4,384.9 521.7,385.0 551.6,385.2 551.6,385.4Z" fill="#008000" fill-opacity="0.6" stroke="#000" stroke-width="2.0" stroke-dasharray="6 4"/>
<path d="M451.3,385.4L451.3,385.2 563.1,384.9 624.3,384.6 663.0,384.2 689.7,383.7 709.4,383.2 724.5,382.6 736.5,381.9 746.3,381.2 754.5,380.4 761.5,379.6 767.5,378.7 772.8,377.8 777.4,376.9 781.6,375.9 785.4,374.9 788.8,373.9 791.9,373.0 794.8,372.0 797.5,371.0 800.0,370.1 802.4,369.1 804.7,368.2 806.8,367.4 808.8,366.6 810.8,365.8 812.7,365.1 814.5,364.5 816.3,363.9 818.0,363.4 819.7,362.9 821.3,362.6 822.9,362.3 824.6,362.1 826.2,361.9 827.8,361.9 829.4,361.9 831.0,362.1 832.6,362.3 834.2,362.6 835.9,362.9 837.5,363.4 839.3,363.9 841.0,364.5 842.9,365.1 844.7,365.8 846.7,366.6 848.7,367.4 850.9,368.2 853.1,369.1 855.5,370.1 858.0,371.0 860.7,372.0 863.6,373.0 866.7,373.9 870.2,374.9 873.9,375.9 878.1,376.9 882.8,377.8 888.0,378.7 894.0,379.6 901.0,380.4 909.2,381.2 919.0,381.9 931.0,382.6 946.1,383.2 965.8,383.7 992.6,384.2 1031.2,384.6 1092.4,384.9 1162.8,385.1 1162.8,385.4Z" fill="#ff7f00" fill-opacity="0.6" stroke="#000" stroke-width="2.0" stroke-dasharray="6 4"/>
<path d="M462.2,385.4L462.2,385.2 605.9,384.9 679.0,384.5 723.3,384.0 753.2,383.4 774.7,382.7 791.0,381.9 803.9,381.0 814.3,380.1 822.9,379.1 830.2,378.0 836.5,376.8 841.9,375.6 846.8,374.4 851.1,373.1 854.9,371.8 858.4,370.5 861.7,369.2 864.6,367.8 867.4,366.5 869.9,365.3 872.4,364.0 874.6,362.8 876.8,361.7 878.9,360.6 880.9,359.6 882.8,358.6 884.6,357.7 886.4,357.0 888.1,356.3 889.8,355.7 891.5,355.2 893.1,354.8 894.8,354.5 896.4,354.4 898.0,354.3 899.6,354.4 901.2,354.5 902.9,354.8 904.5,355.2 906.2,355.7 907.9,356.3 909.6,357.0 911.4,357.7 913.2,358.6 915.1,359.6 917.1,360.6 919.2,361.7 921.4,362.8 923.6,364.0 926.1,365.3 928.6,366.5 931.4,367.8 934.3,369.2 937.6,370.5 941.1,371.8 944.9,373.1 949.2,374.4 954.1,375.6 959.5,376.8 965.8,378.0 973.1,379.1 981.7,380.1 992.1,381.0 1005.0,381.9 1021.3,382.7 1042.8,383.4 1072.7,384.0 1117.0,384.5 1162.8,384.8 1162.8,385.4Z" fill="#ff00ff" fill-opacity="0.6" stroke="#000" stroke-width="2.0" stroke-dasharray="6 4"/>
<line x1="82.5" y1="385.4" x2="1162.8" y2="385.4" stroke="#000" stroke-width="2.7"/>
<path d="M136.9,453.9L136.9,453.7 183.9,453.5 214.4,453.4 235.9,453.2 251.8,452.9 264.2,452.7 274.1,452.4 282.2,452.1 289.0,451.7 294.8,451.4 299.8,451.0 304.2,450.6 308.1,450.2 311.6,449.8 314.8,449.4 317.7,448.9 320.3,448.5 322.8,448.1 325.0,447.7 327.2,447.2 329.1,446.8 331.0,446.4 332.8,446.1 334.5,445.7 336.2,445.4 337.7,445.0 339.2,444.7 340.7,444.5 342.1,444.2 343.5,444.0 344.9,443.8 346.3,443.7 347.6,443.6 348.9,443.5 350.2,443.4 351.5,443.4 352.8,443.4 354.1,443.5 355.4,443.6 356.7,443.7 358.1,443.8 359.5,444.0 360.9,444.2 362.3,444.5 363.8,444.7 365.3,445.0 366.8,445.4 368.5,445.7 370.2,446.1 372.0,446.4 373.9,446.8 375.8,447.2 378.0,447.7 380.2,448.1 382.7,448.5 385.3,448.9 388.2,449.4 391.4,449.8 394.9,450.2 398.8,450.6 403.2,451.0 408.2,451.4 414.0,451.7 420.8,452.1 428.9,452.4 438.8,452.7 451.2,452.9 467.1,453.2 488.6,453.4 519.1,453.5 566.1,453.7 566.1,453.9Z" fill="#008000" fill-opacity="0.6" stroke="#000" stroke-width="2.0"/>
<path d="M381.1,453.9L381.1,453.7 513.3,453.4 582.2,453.0 624.7,452.5 653.5,451.9 674.4,451.3 690.3,450.5 702.9,449.7 713.1,448.8 721.6,447.8 728.8,446.7 735.0,445.6 740.4,444.5 745.2,443.3 749.4,442.1 753.2,440.9 756.7,439.6 759.9,438.4 762.9,437.1 765.6,435.9 768.2,434.7 770.6,433.5 772.8,432.4 775.0,431.3 777.0,430.3 779.0,429.3 780.9,428.4 782.7,427.6 784.5,426.8 786.3,426.2 787.9,425.6 789.6,425.1 791.3,424.8 792.9,424.5 794.5,424.4 796.1,424.3 797.7,424.4 799.3,424.5 800.9,424.8 802.6,425.1 804.3,425.6 805.9,426.2 807.7,426.8 809.5,427.6 811.3,428.4 813.2,429.3 815.2,430.3 817.2,431.3 819.4,432.4 821.6,433.5 824.0,434.7 826.6,435.9 829.3,437.1 832.3,438.4 835.5,439.6 839.0,440.9 842.8,442.1 847.0,443.3 851.8,444.5 857.2,445.6 863.4,446.7 870.6,447.8 879.1,448.8 889.3,449.7 901.9,450.5 917.8,451.3 938.7,451.9 967.5,452.5 1010.0,453.0 1078.9,453.4 1162.8,453.6 1162.8,453.9Z" fill="#ff7f00" fill-opacity="0.6" stroke="#000" stroke-width="2.0"/>
<path d="M429.4,453.9L429.4,453.7 573.1,453.4 646.2,453.0 690.5,452.5 720.4,452.0 741.9,451.3 758.2,450.5 771.1,449.7 781.5,448.8 790.1,447.8 797.4,446.7 803.7,445.6 809.1,444.4 814.0,443.2 818.3,442.0 822.1,440.7 825.6,439.5 828.9,438.2 831.8,436.9 834.6,435.7 837.1,434.4 839.6,433.2 841.8,432.1 844.0,430.9 846.1,429.9 848.1,428.9 850.0,428.0 851.8,427.1 853.6,426.4 855.3,425.7 857.0,425.1 858.7,424.7 860.3,424.3 862.0,424.0 863.6,423.9 865.2,423.8 866.8,423.9 868.4,424.0 870.1,424.3 871.7,424.7 873.4,425.1 875.1,425.7 876.8,426.4 878.6,427.1 880.4,428.0 882.3,428.9 884.3,429.9 886.4,430.9 888.6,432.1 890.8,433.2 893.3,434.4 895.8,435.7 898.6,436.9 901.5,438.2 904.8,439.5 908.3,440.7 912.1,442.0 916.4,443.2 921.3,444.4 926.7,445.6 933.0,446.7 940.3,447.8 948.9,448.8 959.3,449.7 972.2,450.5 988.5,451.3 1010.0,452.0 1039.9,452.5 1084.2,453.0 1157.3,453.4 1162.8,453.4 1162.8,453.9Z" fill="#ff00ff" fill-opacity="0.6" stroke="#000" stroke-width="2.0"/>
<path d="M136.9,453.9L136.9,453.7 183.9,453.5 214.4,453.4 235.9,453.2 251.8,452.9 264.2,452.7 274.1,452.4 282.2,452.1 289.0,451.7 294.8,451.4 299.8,451.0 304.2,450.6 308.1,450.2 311.6,449.8 314.8,449.4 317.7,448.9 320.3,448.5 322.8,448.1 325.0,447.7 327.2,447.2 329.1,446.8 331.0,446.4 332.8,446.1 334.5,445.7 336.2,445.4 337.7,445.0 339.2,444.7 340.7,444.5 342.1,444.2 343.5,444.0 344.9,443.8 346.3,443.7 347.6,443.6 348.9,443.5 350.2,443.4 351.5,443.4 352.8,443.4 354.1,443.5 355.4,443.6 356.7,443.7 358.1,443.8 359.5,444.0 360.9,444.2 362.3,444.5 363.8,444.7 365.3,445.0 366.8,445.4 368.5,445.7 370.2,446.1 372.0,446.4 373.9,446.8 375.8,447.2 378.0,447.7 380.2,448.1 382.7,448.5 385.3,448.9 388.2,449.4 391.4,449.8 394.9,450.2 398.8,450.6 403.2,451.0 408.2,451.4 414.0,451.7 420.8,452.1 428.9,452.4 438.8,452.7 451.2,452.9 467.1,453.2 488.6,453.4 519.1,453.5 566.1,453.7 566.1,453.9Z" fill="#008000" fill-opacity="0.6" stroke="#000" stroke-width="2.0" stroke-dasharray="6 4"/>
<path d="M381.1,453.9L381.1,453.7 513.3,453.4 582.2,453.0 624.7,452.5 653.5,451.9 674.4,451.3 690.3,450.5 702.9,449.7 713.1,448.8 721.6,447.8 728.8,446.7 735.0,445.6 740.4,444.5 745.2,443.3 749.4,442.1 753.2,440.9 756.7,439.6 759.9,438.4 762.9,437.1 765.6,435.9 768.2,434.7 770.6,433.5 772.8,432.4 775.0,431.3 777.0,430.3 779.0,429.3 780.9,428.4 782.7,427.6 784.5,426.8 786.3,426.2 787.9,425.6 789.6,425.1 791.3,424.8 792.9,424.5 794.5,424.4 796.1,424.3 797.7,424.4 799.3,424.5 800.9,424.8 802.6,425.1 804.3,425.6 805.9,426.2 807.7,426.8 809.5,427.6 811.3,428.4 813.2,429.3 815.2,430.3 817.2,431.3 819.4,432.4 821.6,433.5 824.0,434.7 826.6,435.9 829.3,437.1 832.3,438.4 835.5,439.6 839.0,440.9 842.8,442.1 847.0,443.3 851.8,444.5 857.2,445.6 863.4,446.7 870.6,447.8 879.1,448.8 889.3,449.7 901.9,450.5 917.8,451.3 938.7,451.9 967.5,452.5 1010.0,453.0 1078.9,453.4 1162.8,453.6 1162.8,453.9Z" fill="#ff7f00" fill-opacity="0.6" stroke="#000" stroke-width="2.0" stroke-dasharray="6 4"/>
<path d="M429.4,453.9L429.4,453.7 573.1,453.4 646.2,453.0 690.5,452.5 720.4,452.0 741.9,451.3 758.2,450.5 771.1,449.7 781.5,448.8 790.1,447.8 797.4,446.7 803.7,445.6 809.1,444.4 814.0,443.2 818.3,442.0 822.1,440.7 825.6,439.5 828.9,438.2 831.8,436.9 834.6,435.7 837.1,434.4 839.6,433.2 841.8,432.1 844.0,430.9 846.1,429.9 848.1,428.9 850.0,428.0 851.8,427.1 853.6,426.4 855.3,425.7 857.0,425.1 858.7,424.7 860.3,424.3 862.0,424.0 863.6,423.9 865.2,423.8 866.8,423.9 868.4,424.0 870.1,424.3 871.7,424.7 873.4,425.1 875.1,425.7 876.8,426.4 878.6,427.1 880.4,428.0 882.3,428.9 884.3,429.9 886.4,430.9 888.6,432.1 890.8,433.2 893.3,434.4 895.8,435.7 898.6,436.9 901.5,438.2 904.8,439.5 908.3,440.7 912.1,442.0 916.4,443.2 921.3,444.4 926.7,445.6 933.0,446.7 940.3,447.8 948.9,448.8 959.3,449.7 972.2,450.5 988.5,451.3 1010.0,452.0 1039.9,452.5 1084.2,453.0 1157.3,453.4 1162.8,453.4 1162.8,453.9Z" fill="#ff00ff" fill-opacity="0.6" stroke="#000" stroke-width="2.0" stroke-dasharray="6 4"/>
<line x1="82.5" y1="453.9" x2="1162.8" y2="453.9" stroke="#000" stroke-width="2.7"/>
<path d="M82.5,558.9L82.5,558.3 87.1,558.3 114.6,558.0 134.4,557.7 149.3,557.3 160.9,556.9 170.4,556.4 178.1,555.9 184.7,555.4 190.3,554.9 195.2,554.3 199.6,553.7 203.4,553.1 206.8,552.4 210.0,551.8 212.8,551.2 215.5,550.5 217.9,549.9 220.2,549.3 222.3,548.6 224.3,548.0 226.2,547.5 228.0,546.9 229.7,546.4 231.4,545.9 233.0,545.5 234.6,545.0 236.1,544.7 237.5,544.3 239.0,544.1 240.4,543.8 241.8,543.6 243.2,543.5 244.5,543.4 245.9,543.4 247.3,543.4 248.6,543.5 250.0,543.6 251.4,543.8 252.8,544.1 254.3,544.3 255.7,544.7 257.2,545.0 258.8,545.5 260.4,545.9 262.1,546.4 263.8,546.9 265.6,547.5 267.5,548.0 269.5,548.6 271.6,549.3 273.9,549.9 276.3,550.5 279.0,551.2 281.8,551.8 285.0,552.4 288.4,553.1 292.2,553.7 296.6,554.3 301.5,554.9 307.1,555.4 313.7,555.9 321.4,556.4 330.9,556.9 342.5,557.3 357.4,557.7 377.2,558.0 404.7,558.3 446.0,558.5 514.8,558.7 514.8,558.9Z" fill="#008000" fill-opacity="0.6" stroke="#000" stroke-width="2.0"/>
<path d="M82.5,558.9L82.5,558.5 148.5,558.3 223.7,557.9 268.2,557.3 297.6,556.6 318.6,555.8 334.4,554.8 346.7,553.8 356.6,552.6 364.8,551.4 371.7,550.1 377.6,548.7 382.8,547.2 387.3,545.7 391.3,544.2 395.0,542.6 398.2,541.0 401.2,539.4 404.0,537.8 406.6,536.2 409.0,534.6 411.2,533.1 413.3,531.6 415.4,530.2 417.3,528.9 419.1,527.6 420.9,526.5 422.6,525.4 424.2,524.5 425.8,523.6 427.4,522.9 429.0,522.3 430.5,521.8 432.0,521.5 433.5,521.3 435.0,521.2 436.5,521.3 438.0,521.5 439.5,521.8 441.0,522.3 442.6,522.9 444.2,523.6 445.8,524.5 447.4,525.4 449.1,526.5 450.9,527.6 452.7,528.9 454.6,530.2 456.7,531.6 458.8,533.1 461.0,534.6 463.4,536.2 466.0,537.8 468.8,539.4 471.8,541.0 475.0,542.6 478.7,544.2 482.7,545.7 487.2,547.2 492.4,548.7 498.3,550.1 505.2,551.4 513.4,552.6 523.3,553.8 535.6,554.8 551.4,555.8 572.4,556.6 601.8,557.3 646.3,557.9 721.5,558.3 877.5,558.7 877.5,558.9Z" fill="#0000ff" fill-opacity="0.6" stroke="#000" stroke-width="2.0"/>
<path d="M109.1,558.9L109.1,558.7 348.4,558.2 448.7,557.6 504.0,556.7 539.2,555.7 563.6,554.4 581.6,553.0 595.4,551.3 606.4,549.5 615.5,547.6 623.0,545.5 629.4,543.3 635.0,541.0 639.8,538.5 644.1,536.1 648.0,533.5 651.5,531.0 654.7,528.4 657.6,525.8 660.3,523.3 662.8,520.7 665.2,518.3 667.4,515.9 669.5,513.7 671.5,511.5 673.4,509.5 675.3,507.6 677.1,505.8 678.8,504.3 680.5,502.9 682.1,501.7 683.7,500.8 685.3,500.0 686.9,499.4 688.4,499.1 690.0,499.0 691.6,499.1 693.1,499.4 694.7,500.0 696.3,500.8 697.9,501.7 699.5,502.9 701.2,504.3 702.9,505.8 704.7,507.6 706.6,509.5 708.5,511.5 710.5,513.7 712.6,515.9 714.8,518.3 717.2,520.7 719.7,523.3 722.4,525.8 725.3,528.4 728.5,531.0 732.0,533.5 735.9,536.1 740.2,538.5 745.0,541.0 750.6,543.3 757.0,545.5 764.5,547.6 773.6,549.5 784.6,551.3 798.4,553.0 816.4,554.4 840.8,555.7 876.0,556.7 931.3,557.6 1031.6,558.2 1162.8,558.6 1162.8,558.9Z" fill="#ff7f00" fill-opacity="0.6" stroke="#000" stroke-width="2.0"/>
<path d="M443.9,558.9L443.9,558.7 528.1,558.5 577.5,558.2 610.0,557.9 633.1,557.5 650.4,557.1 663.9,556.6 674.7,556.1 683.7,555.6 691.2,555.0 697.6,554.4 703.2,553.7 708.1,553.0 712.5,552.3 716.4,551.6 720.0,550.9 723.2,550.2 726.2,549.4 728.9,548.7 731.5,548.0 733.9,547.3 736.2,546.6 738.3,546.0 740.4,545.3 742.3,544.7 744.2,544.2 746.0,543.6 747.7,543.2 749.4,542.7 751.1,542.4 752.7,542.0 754.3,541.8 755.9,541.6 757.4,541.4 759.0,541.3 760.5,541.3 762.0,541.3 763.6,541.4 765.1,541.6 766.7,541.8 768.3,542.0 769.9,542.4 771.6,542.7 773.3,543.2 775.0,543.6 776.8,544.2 778.7,544.7 780.6,545.3 782.7,546.0 784.8,546.6 787.1,547.3 789.5,548.0 792.1,548.7 794.8,549.4 797.8,550.2 801.0,550.9 804.6,551.6 808.5,552.3 812.9,553.0 817.8,553.7 823.4,554.4 829.8,555.0 837.3,555.6 846.3,556.1 857.1,556.6 870.6,557.1 887.9,557.5 911.0,557.9 943.5,558.2 992.9,558.5 1077.1,558.7 1077.1,558.9Z" fill="#ff00ff" fill-opacity="0.6" stroke="#000" stroke-width="2.0"/>
<path d="M414.7,558.9L414.7,558.7 418.8,558.6 422.4,558.6 425.7,558.6 428.7,558.6 431.5,558.5 434.0,558.5 436.4,558.5 438.6,558.4 440.7,558.4 442.7,558.4 444.5,558.3 446.3,558.3 448.0,558.3 449.6,558.3 451.1,558.2 452.5,558.2 453.9,558.2 455.3,558.1 456.6,558.1 457.8,558.1 459.1,558.1 460.3,558.0 461.4,558.0 462.5,558.0 463.7,558.0 464.8,558.0 465.8,558.0 466.9,557.9 467.9,557.9 469.0,557.9 470.0,557.9 471.0,557.9 472.0,557.9 473.0,557.9 474.0,557.9 475.0,557.9 476.0,557.9 477.0,557.9 478.0,557.9 479.0,557.9 480.1,557.9 481.1,557.9 482.2,558.0 483.2,558.0 484.3,558.0 485.5,558.0 486.6,558.0 487.7,558.0 488.9,558.1 490.2,558.1 491.4,558.1 492.7,558.1 494.1,558.2 495.5,558.2 496.9,558.2 498.4,558.3 500.0,558.3 501.7,558.3 503.5,558.3 505.3,558.4 507.3,558.4 509.4,558.4 511.6,558.5 514.0,558.5 516.5,558.5 519.3,558.6 522.3,558.6 525.6,558.6 529.2,558.6 533.3,558.7 533.3,558.9Z" fill="#008000" fill-opacity="0.6" stroke="#000" stroke-width="2.0" stroke-dasharray="6 4"/>
<path d="M468.1,558.9L468.1,558.7 611.8,558.3 683.0,557.9 725.6,557.4 754.1,556.7 774.5,555.9 789.9,555.0 802.0,554.0 811.7,552.9 819.8,551.7 826.6,550.5 832.5,549.2 837.6,547.8 842.0,546.4 846.0,544.9 849.6,543.4 852.9,541.9 855.9,540.4 858.6,538.9 861.2,537.4 863.6,536.0 865.8,534.6 867.9,533.2 869.9,531.9 871.8,530.6 873.7,529.4 875.4,528.3 877.1,527.4 878.8,526.5 880.4,525.7 881.9,525.0 883.5,524.4 885.0,524.0 886.5,523.7 888.0,523.5 889.5,523.4 891.0,523.5 892.5,523.7 894.0,524.0 895.5,524.4 897.1,525.0 898.6,525.7 900.2,526.5 901.9,527.4 903.6,528.3 905.3,529.4 907.2,530.6 909.1,531.9 911.1,533.2 913.2,534.6 915.4,536.0 917.8,537.4 920.4,538.9 923.1,540.4 926.1,541.9 929.4,543.4 933.0,544.9 937.0,546.4 941.4,547.8 946.5,549.2 952.4,550.5 959.2,551.7 967.3,552.9 977.0,554.0 989.1,555.0 1004.5,555.9 1024.9,556.7 1053.4,557.4 1096.0,557.9 1162.8,558.3 1162.8,558.9Z" fill="#0000ff" fill-opacity="0.6" stroke="#000" stroke-width="2.0" stroke-dasharray="6 4"/>
<path d="M668.6,558.9L668.6,558.7 726.3,558.5 763.1,558.3 788.6,558.1 807.4,557.8 821.9,557.5 833.5,557.2 842.9,556.8 850.8,556.5 857.4,556.1 863.2,555.6 868.3,555.2 872.8,554.7 876.8,554.2 880.4,553.8 883.7,553.3 886.7,552.8 889.4,552.3 892.0,551.8 894.4,551.3 896.7,550.9 898.8,550.4 900.9,550.0 902.8,549.6 904.6,549.2 906.4,548.8 908.1,548.5 909.8,548.1 911.4,547.9 913.0,547.6 914.5,547.4 916.1,547.2 917.6,547.1 919.1,547.0 920.5,546.9 922.0,546.9 923.5,546.9 924.9,547.0 926.4,547.1 927.9,547.2 929.5,547.4 931.0,547.6 932.6,547.9 934.2,548.1 935.9,548.5 937.6,548.8 939.4,549.2 941.2,549.6 943.1,550.0 945.2,550.4 947.3,550.9 949.6,551.3 952.0,551.8 954.6,552.3 957.3,552.8 960.3,553.3 963.6,553.8 967.2,554.2 971.2,554.7 975.7,555.2 980.8,555.6 986.6,556.1 993.2,556.5 1001.1,556.8 1010.5,557.2 1022.1,557.5 1036.6,557.8 1055.4,558.1 1080.9,558.3 1117.7,558.5 1162.8,558.6 1162.8,558.9Z" fill="#ff7f00" fill-opacity="0.6" stroke="#000" stroke-width="2.0" stroke-dasharray="6 4"/>
<path d="M528.5,558.9L528.5,558.7 684.5,558.4 761.8,558.0 808.1,557.4 839.0,556.8 861.1,556.1 877.9,555.2 891.0,554.3 901.6,553.3 910.3,552.2 917.7,551.0 924.1,549.7 929.6,548.4 934.5,547.1 938.8,545.7 942.7,544.3 946.3,542.9 949.5,541.5 952.5,540.1 955.3,538.7 957.8,537.3 960.3,535.9 962.6,534.6 964.7,533.4 966.8,532.2 968.8,531.1 970.7,530.1 972.6,529.1 974.3,528.3 976.1,527.5 977.8,526.9 979.5,526.4 981.1,525.9 982.8,525.6 984.4,525.5 986.0,525.4 987.6,525.5 989.2,525.6 990.9,525.9 992.5,526.4 994.2,526.9 995.9,527.5 997.7,528.3 999.4,529.1 1001.3,530.1 1003.2,531.1 1005.2,532.2 1007.3,533.4 1009.4,534.6 1011.7,535.9 1014.2,537.3 1016.7,538.7 1019.5,540.1 1022.5,541.5 1025.7,542.9 1029.3,544.3 1033.2,545.7 1037.5,547.1 1042.4,548.4 1047.9,549.7 1054.3,551.0 1061.7,552.2 1070.4,553.3 1081.0,554.3 1094.1,555.2 1110.9,556.1 1133.0,556.8 1162.8,557.4 1162.8,558.9Z" fill="#ff00ff" fill-opacity="0.6" stroke="#000" stroke-width="2.0" stroke-dasharray="6 4"/>
<line x1="82.5" y1="558.9" x2="1162.8" y2="558.9" stroke="#000" stroke-width="2.7"/>
<path d="M82.5,630.1L82.5,629.6 110.9,629.5 137.0,629.2 155.9,628.9 170.3,628.5 181.6,628.1 190.7,627.7 198.3,627.2 204.8,626.7 210.3,626.2 215.1,625.7 219.3,625.1 223.1,624.5 226.5,623.9 229.6,623.3 232.4,622.7 235.1,622.1 237.5,621.5 239.7,620.9 241.8,620.3 243.8,619.8 245.7,619.2 247.5,618.7 249.2,618.2 250.9,617.8 252.5,617.3 254.0,616.9 255.5,616.6 257.0,616.3 258.4,616.0 259.8,615.8 261.2,615.6 262.6,615.5 263.9,615.4 265.3,615.4 266.7,615.4 268.0,615.5 269.4,615.6 270.8,615.8 272.2,616.0 273.6,616.3 275.1,616.6 276.6,616.9 278.1,617.3 279.7,617.8 281.4,618.2 283.1,618.7 284.9,619.2 286.8,619.8 288.8,620.3 290.9,620.9 293.1,621.5 295.5,622.1 298.2,622.7 301.0,623.3 304.1,623.9 307.5,624.5 311.3,625.1 315.5,625.7 320.3,626.2 325.8,626.7 332.3,627.2 339.9,627.7 349.0,628.1 360.3,628.5 374.7,628.9 393.6,629.2 419.7,629.5 458.3,629.7 521.4,629.9 521.4,630.1Z" fill="#008000" fill-opacity="0.6" stroke="#000" stroke-width="2.0"/>
<path d="M139.3,630.1L139.3,629.9 242.2,629.6 298.6,629.3 334.2,628.9 358.9,628.4 377.0,627.9 390.9,627.2 402.0,626.6 411.0,625.8 418.6,625.0 425.0,624.2 430.5,623.3 435.4,622.3 439.6,621.4 443.5,620.4 446.9,619.4 450.1,618.4 453.0,617.4 455.7,616.4 458.2,615.4 460.5,614.4 462.7,613.5 464.7,612.6 466.7,611.7 468.6,610.9 470.4,610.1 472.1,609.4 473.8,608.7 475.4,608.1 477.0,607.6 478.5,607.1 480.1,606.8 481.6,606.5 483.1,606.3 484.5,606.1 486.0,606.1 487.5,606.1 488.9,606.3 490.4,606.5 491.9,606.8 493.5,607.1 495.0,607.6 496.6,608.1 498.2,608.7 499.9,609.4 501.6,610.1 503.4,610.9 505.3,611.7 507.3,612.6 509.3,613.5 511.5,614.4 513.8,615.4 516.3,616.4 519.0,617.4 521.9,618.4 525.1,619.4 528.5,620.4 532.4,621.4 536.6,622.3 541.5,623.3 547.0,624.2 553.4,625.0 561.0,625.8 570.0,626.6 581.1,627.2 595.0,627.9 613.1,628.4 637.8,628.9 673.4,629.3 729.8,629.6 832.7,629.9 832.7,630.1Z" fill="#0000ff" fill-opacity="0.6" stroke="#000" stroke-width="2.0"/>
<path d="M184.8,630.1L184.8,629.9 389.2,629.4 479.9,628.8 531.3,628.1 564.6,627.1 587.8,626.0 605.1,624.7 618.5,623.2 629.2,621.6 638.0,619.9 645.4,618.0 651.7,616.0 657.2,614.0 661.9,611.9 666.2,609.7 670.0,607.4 673.5,605.2 676.6,602.9 679.5,600.6 682.2,598.4 684.7,596.1 687.0,594.0 689.2,591.9 691.3,589.9 693.3,588.0 695.2,586.2 697.1,584.5 698.8,583.0 700.5,581.7 702.2,580.4 703.9,579.4 705.5,578.6 707.0,577.9 708.6,577.4 710.2,577.1 711.7,577.0 713.2,577.1 714.8,577.4 716.4,577.9 717.9,578.6 719.5,579.4 721.2,580.4 722.9,581.7 724.6,583.0 726.3,584.5 728.2,586.2 730.1,588.0 732.1,589.9 734.2,591.9 736.4,594.0 738.7,596.1 741.2,598.4 743.9,600.6 746.8,602.9 749.9,605.2 753.4,607.4 757.2,609.7 761.5,611.9 766.2,614.0 771.7,616.0 778.0,618.0 785.4,619.9 794.2,621.6 804.9,623.2 818.3,624.7 835.6,626.0 858.8,627.1 892.1,628.1 943.5,628.8 1034.2,629.4 1162.8,629.8 1162.8,630.1Z" fill="#ff7f00" fill-opacity="0.6" stroke="#000" stroke-width="2.0"/>
<path d="M447.6,630.1L447.6,629.9 539.3,629.7 591.9,629.4 626.1,629.0 650.2,628.6 668.1,628.2 682.0,627.7 693.2,627.1 702.3,626.5 710.0,625.9 716.6,625.2 722.2,624.5 727.2,623.7 731.6,623.0 735.6,622.2 739.2,621.4 742.5,620.6 745.5,619.8 748.3,619.0 750.8,618.2 753.3,617.4 755.5,616.7 757.7,615.9 759.8,615.2 761.7,614.6 763.6,614.0 765.4,613.4 767.2,612.9 768.9,612.4 770.5,612.0 772.2,611.6 773.8,611.3 775.3,611.1 776.9,610.9 778.5,610.8 780.0,610.8 781.5,610.8 783.1,610.9 784.7,611.1 786.2,611.3 787.8,611.6 789.5,612.0 791.1,612.4 792.8,612.9 794.6,613.4 796.4,614.0 798.3,614.6 800.2,615.2 802.3,615.9 804.5,616.7 806.7,617.4 809.2,618.2 811.7,619.0 814.5,619.8 817.5,620.6 820.8,621.4 824.4,622.2 828.4,623.0 832.8,623.7 837.8,624.5 843.4,625.2 850.0,625.9 857.7,626.5 866.8,627.1 878.0,627.7 891.9,628.2 909.8,628.6 933.9,629.0 968.1,629.4 1020.7,629.7 1112.4,629.9 1112.4,630.1Z" fill="#ff00ff" fill-opacity="0.6" stroke="#000" stroke-width="2.0"/>
<path d="M361.9,630.1L361.9,629.9 370.3,629.8 377.4,629.8 383.5,629.7 388.9,629.6 393.6,629.6 397.7,629.5 401.5,629.5 404.9,629.4 407.9,629.3 410.8,629.3 413.4,629.2 415.8,629.1 418.0,629.1 420.2,629.0 422.1,628.9 424.0,628.8 425.8,628.8 427.5,628.7 429.1,628.7 430.6,628.6 432.1,628.5 433.5,628.5 434.9,628.4 436.3,628.4 437.6,628.3 438.8,628.3 440.1,628.2 441.3,628.2 442.5,628.2 443.7,628.2 444.9,628.1 446.0,628.1 447.2,628.1 448.3,628.1 449.5,628.1 450.6,628.1 451.7,628.1 452.9,628.1 454.1,628.1 455.2,628.2 456.4,628.2 457.6,628.2 458.8,628.2 460.1,628.3 461.3,628.3 462.7,628.4 464.0,628.4 465.4,628.5 466.8,628.5 468.3,628.6 469.8,628.7 471.5,628.7 473.1,628.8 474.9,628.8 476.8,628.9 478.8,629.0 480.9,629.1 483.1,629.1 485.5,629.2 488.1,629.3 491.0,629.3 494.1,629.4 497.4,629.5 501.2,629.5 505.4,629.6 510.0,629.6 515.4,629.7 521.5,629.8 528.6,629.8 537.0,629.9 537.0,630.1Z" fill="#008000" fill-opacity="0.6" stroke="#000" stroke-width="2.0" stroke-dasharray="6 4"/>
<path d="M499.3,630.1L499.3,629.9 602.2,629.6 658.6,629.3 694.2,628.9 718.9,628.4 737.0,627.9 750.9,627.3 762.0,626.6 771.0,625.9 778.6,625.1 785.0,624.3 790.5,623.4 795.4,622.5 799.6,621.6 803.5,620.6 806.9,619.6 810.1,618.6 813.0,617.7 815.7,616.7 818.2,615.7 820.5,614.8 822.7,613.8 824.7,612.9 826.7,612.1 828.6,611.3 830.4,610.5 832.1,609.8 833.8,609.2 835.4,608.6 837.0,608.1 838.5,607.6 840.1,607.3 841.6,607.0 843.1,606.8 844.5,606.6 846.0,606.6 847.5,606.6 848.9,606.8 850.4,607.0 851.9,607.3 853.5,607.6 855.0,608.1 856.6,608.6 858.2,609.2 859.9,609.8 861.6,610.5 863.4,611.3 865.3,612.1 867.3,612.9 869.3,613.8 871.5,614.8 873.8,615.7 876.3,616.7 879.0,617.7 881.9,618.6 885.1,619.6 888.5,620.6 892.4,621.6 896.6,622.5 901.5,623.4 907.0,624.3 913.4,625.1 921.0,625.9 930.0,626.6 941.1,627.3 955.0,627.9 973.1,628.4 997.8,628.9 1033.4,629.3 1089.8,629.6 1162.8,629.8 1162.8,630.1Z" fill="#0000ff" fill-opacity="0.6" stroke="#000" stroke-width="2.0" stroke-dasharray="6 4"/>
<path d="M641.6,630.1L641.6,629.9 699.3,629.7 736.1,629.5 761.6,629.3 780.4,629.0 794.9,628.7 806.5,628.4 815.9,628.0 823.8,627.7 830.4,627.3 836.2,626.8 841.3,626.4 845.8,625.9 849.8,625.4 853.4,625.0 856.7,624.5 859.7,624.0 862.4,623.5 865.0,623.0 867.4,622.5 869.7,622.1 871.8,621.6 873.9,621.2 875.8,620.8 877.6,620.4 879.4,620.0 881.1,619.7 882.8,619.3 884.4,619.1 886.0,618.8 887.5,618.6 889.1,618.4 890.6,618.3 892.1,618.2 893.5,618.1 895.0,618.1 896.5,618.1 897.9,618.2 899.4,618.3 900.9,618.4 902.5,618.6 904.0,618.8 905.6,619.1 907.2,619.3 908.9,619.7 910.6,620.0 912.4,620.4 914.2,620.8 916.1,621.2 918.2,621.6 920.3,622.1 922.6,622.5 925.0,623.0 927.6,623.5 930.3,624.0 933.3,624.5 936.6,625.0 940.2,625.4 944.2,625.9 948.7,626.4 953.8,626.8 959.6,627.3 966.2,627.7 974.1,628.0 983.5,628.4 995.1,628.7 1009.6,629.0 1028.4,629.3 1053.9,629.5 1090.7,629.7 1148.4,629.9 1148.4,630.1Z" fill="#ff7f00" fill-opacity="0.6" stroke="#000" stroke-width="2.0" stroke-dasharray="6 4"/>
<path d="M503.8,630.1L503.8,629.9 659.8,629.6 737.1,629.1 783.4,628.6 814.3,628.0 836.4,627.2 853.2,626.3 866.3,625.4 876.9,624.3 885.6,623.2 893.0,622.0 899.4,620.7 904.9,619.4 909.8,618.0 914.1,616.6 918.0,615.2 921.6,613.7 924.8,612.3 927.8,610.8 930.6,609.4 933.1,608.0 935.6,606.6 937.9,605.3 940.0,604.0 942.1,602.8 944.1,601.6 946.0,600.6 947.9,599.6 949.6,598.7 951.4,598.0 953.1,597.3 954.8,596.8 956.4,596.4 958.1,596.0 959.7,595.9 961.3,595.8 962.9,595.9 964.5,596.0 966.2,596.4 967.8,596.8 969.5,597.3 971.2,598.0 973.0,598.7 974.7,599.6 976.6,600.6 978.5,601.6 980.5,602.8 982.6,604.0 984.7,605.3 987.0,606.6 989.5,608.0 992.0,609.4 994.8,610.8 997.8,612.3 1001.0,613.7 1004.6,615.2 1008.5,616.6 1012.8,618.0 1017.7,619.4 1023.2,620.7 1029.6,622.0 1037.0,623.2 1045.7,624.3 1056.3,625.4 1069.4,626.3 1086.2,627.2 1108.3,628.0 1139.2,628.6 1162.8,628.9 1162.8,630.1Z" fill="#ff00ff" fill-opacity="0.6" stroke="#000" stroke-width="2.0" stroke-dasharray="6 4"/>
<line x1="82.5" y1="630.1" x2="1162.8" y2="630.1" stroke="#000" stroke-width="2.7"/>
<path d="M82.5,701.9L82.5,701.5 93.5,701.5 132.1,701.3 158.2,701.0 177.1,700.7 191.5,700.3 202.8,699.9 211.9,699.5 219.5,699.0 226.0,698.6 231.5,698.0 236.3,697.5 240.5,696.9 244.3,696.4 247.7,695.8 250.8,695.2 253.6,694.6 256.3,694.0 258.7,693.4 260.9,692.8 263.0,692.2 265.0,691.6 266.9,691.1 268.7,690.6 270.4,690.1 272.1,689.6 273.7,689.2 275.2,688.8 276.7,688.5 278.2,688.2 279.6,687.9 281.0,687.7 282.4,687.5 283.8,687.4 285.1,687.3 286.5,687.3 287.9,687.3 289.2,687.4 290.6,687.5 292.0,687.7 293.4,687.9 294.8,688.2 296.3,688.5 297.8,688.8 299.3,689.2 300.9,689.6 302.6,690.1 304.3,690.6 306.1,691.1 308.0,691.6 310.0,692.2 312.1,692.8 314.3,693.4 316.7,694.0 319.4,694.6 322.2,695.2 325.3,695.8 328.7,696.4 332.5,696.9 336.7,697.5 341.5,698.0 347.0,698.6 353.5,699.0 361.1,699.5 370.2,699.9 381.5,700.3 395.9,700.7 414.8,701.0 440.9,701.3 479.5,701.5 542.6,701.7 542.6,701.9Z" fill="#008000" fill-opacity="0.6" stroke="#000" stroke-width="2.0"/>
<path d="M285.1,701.9L285.1,701.7 341.3,701.5 377.0,701.3 401.8,701.0 420.1,700.8 434.2,700.5 445.4,700.1 454.6,699.7 462.2,699.3 468.7,698.9 474.4,698.5 479.3,698.0 483.6,697.5 487.5,697.0 491.0,696.5 494.2,696.0 497.1,695.5 499.8,695.0 502.4,694.5 504.7,694.0 506.9,693.5 509.0,693.0 510.9,692.5 512.8,692.1 514.6,691.7 516.4,691.3 518.0,690.9 519.6,690.6 521.2,690.3 522.7,690.0 524.3,689.8 525.7,689.6 527.2,689.5 528.6,689.4 530.1,689.3 531.5,689.3 532.9,689.3 534.4,689.4 535.8,689.5 537.3,689.6 538.7,689.8 540.3,690.0 541.8,690.3 543.4,690.6 545.0,690.9 546.6,691.3 548.4,691.7 550.2,692.1 552.1,692.5 554.0,693.0 556.1,693.5 558.3,694.0 560.6,694.5 563.2,695.0 565.9,695.5 568.8,696.0 572.0,696.5 575.5,697.0 579.4,697.5 583.7,698.0 588.6,698.5 594.3,698.9 600.8,699.3 608.4,699.7 617.6,700.1 628.8,700.5 642.9,700.8 661.2,701.0 686.0,701.3 721.7,701.5 777.9,701.7 777.9,701.9Z" fill="#0000ff" fill-opacity="0.6" stroke="#000" stroke-width="2.0"/>
<path d="M226.2,701.9L226.2,701.7 414.8,701.3 501.0,700.7 550.5,700.0 582.8,699.1 605.5,698.0 622.4,696.8 635.6,695.5 646.1,694.0 654.8,692.5 662.1,690.8 668.3,689.0 673.7,687.1 678.5,685.1 682.7,683.1 686.5,681.1 689.9,679.0 693.0,677.0 695.9,674.9 698.6,672.8 701.1,670.8 703.4,668.8 705.6,666.9 707.7,665.1 709.7,663.4 711.6,661.8 713.4,660.3 715.2,658.9 716.9,657.6 718.5,656.5 720.2,655.6 721.8,654.8 723.3,654.2 724.9,653.8 726.5,653.5 728.0,653.4 729.5,653.5 731.1,653.8 732.7,654.2 734.2,654.8 735.8,655.6 737.5,656.5 739.1,657.6 740.8,658.9 742.6,660.3 744.4,661.8 746.3,663.4 748.3,665.1 750.4,666.9 752.6,668.8 754.9,670.8 757.4,672.8 760.1,674.9 763.0,677.0 766.1,679.0 769.5,681.1 773.3,683.1 777.5,685.1 782.3,687.1 787.7,689.0 793.9,690.8 801.2,692.5 809.9,694.0 820.4,695.5 833.6,696.8 850.5,698.0 873.2,699.1 905.5,700.0 955.0,700.7 1041.2,701.3 1162.8,701.6 1162.8,701.9Z" fill="#ff7f00" fill-opacity="0.6" stroke="#000" stroke-width="2.0"/>
<path d="M435.7,701.9L435.7,701.7 544.5,701.4 604.1,701.1 641.7,700.8 667.8,700.3 686.9,699.8 701.7,699.2 713.4,698.6 722.9,697.9 730.9,697.1 737.7,696.3 743.5,695.5 748.7,694.6 753.2,693.7 757.2,692.8 760.9,691.8 764.2,690.9 767.3,689.9 770.1,689.0 772.8,688.1 775.2,687.1 777.5,686.3 779.7,685.4 781.8,684.6 783.8,683.8 785.7,683.1 787.5,682.4 789.3,681.8 791.0,681.2 792.7,680.7 794.3,680.3 795.9,679.9 797.5,679.7 799.1,679.5 800.6,679.3 802.2,679.3 803.8,679.3 805.3,679.5 806.9,679.7 808.5,679.9 810.1,680.3 811.7,680.7 813.4,681.2 815.1,681.8 816.9,682.4 818.7,683.1 820.6,683.8 822.6,684.6 824.7,685.4 826.9,686.3 829.2,687.1 831.6,688.1 834.3,689.0 837.1,689.9 840.2,690.9 843.5,691.8 847.2,692.8 851.2,693.7 855.7,694.6 860.9,695.5 866.7,696.3 873.5,697.1 881.5,697.9 891.0,698.6 902.7,699.2 917.5,699.8 936.6,700.3 962.7,700.8 1000.3,701.1 1059.9,701.4 1162.8,701.7 1162.8,701.9Z" fill="#ff00ff" fill-opacity="0.6" stroke="#000" stroke-width="2.0"/>
<path d="M313.2,701.9L313.2,701.7 326.6,701.6 337.4,701.5 346.2,701.5 353.7,701.4 360.0,701.3 365.5,701.2 370.3,701.1 374.6,701.0 378.4,700.9 381.9,700.8 385.0,700.7 387.8,700.6 390.5,700.5 392.9,700.4 395.2,700.2 397.3,700.1 399.3,700.0 401.2,699.9 403.0,699.8 404.7,699.7 406.3,699.6 407.9,699.5 409.4,699.4 410.8,699.4 412.2,699.3 413.6,699.2 414.9,699.2 416.3,699.1 417.5,699.0 418.8,699.0 420.0,699.0 421.3,698.9 422.5,698.9 423.7,698.9 424.9,698.9 426.1,698.9 427.3,698.9 428.6,698.9 429.8,699.0 431.0,699.0 432.3,699.0 433.6,699.1 434.9,699.2 436.2,699.2 437.6,699.3 439.0,699.4 440.5,699.4 442.0,699.5 443.5,699.6 445.2,699.7 446.9,699.8 448.7,699.9 450.5,700.0 452.5,700.1 454.7,700.2 456.9,700.4 459.4,700.5 462.0,700.6 464.9,700.7 468.0,700.8 471.4,700.9 475.2,701.0 479.5,701.1 484.3,701.2 489.8,701.3 496.2,701.4 503.6,701.5 512.5,701.5 523.2,701.6 536.7,701.7 536.7,701.9Z" fill="#008000" fill-opacity="0.6" stroke="#000" stroke-width="2.0" stroke-dasharray="6 4"/>
<path d="M565.3,701.9L565.3,701.7 616.7,701.5 650.1,701.3 673.5,701.1 691.0,700.9 704.5,700.6 715.3,700.3 724.2,700.0 731.6,699.6 738.0,699.2 743.5,698.9 748.3,698.4 752.6,698.0 756.4,697.6 759.9,697.1 763.0,696.7 765.9,696.3 768.6,695.8 771.1,695.4 773.4,694.9 775.6,694.5 777.6,694.1 779.6,693.7 781.4,693.3 783.2,693.0 784.9,692.6 786.6,692.3 788.2,692.0 789.8,691.8 791.3,691.5 792.8,691.3 794.3,691.2 795.7,691.1 797.1,691.0 798.6,690.9 800.0,690.9 801.4,690.9 802.9,691.0 804.3,691.1 805.7,691.2 807.2,691.3 808.7,691.5 810.2,691.8 811.8,692.0 813.4,692.3 815.1,692.6 816.8,693.0 818.6,693.3 820.4,693.7 822.4,694.1 824.4,694.5 826.6,694.9 828.9,695.4 831.4,695.8 834.1,696.3 837.0,696.7 840.1,697.1 843.6,697.6 847.4,698.0 851.7,698.4 856.5,698.9 862.0,699.2 868.4,699.6 875.8,700.0 884.7,700.3 895.5,700.6 909.0,700.9 926.5,701.1 949.9,701.3 983.3,701.5 1034.7,701.7 1034.7,701.9Z" fill="#0000ff" fill-opacity="0.6" stroke="#000" stroke-width="2.0" stroke-dasharray="6 4"/>
<path d="M590.3,701.9L590.3,701.7 659.2,701.5 701.3,701.2 729.8,701.0 750.4,700.6 766.0,700.3 778.4,699.9 788.4,699.4 796.7,699.0 803.7,698.5 809.7,697.9 814.9,697.4 819.6,696.8 823.7,696.2 827.4,695.6 830.8,695.0 833.9,694.4 836.7,693.7 839.3,693.1 841.8,692.5 844.1,691.9 846.3,691.4 848.3,690.8 850.3,690.3 852.2,689.8 854.0,689.3 855.7,688.9 857.4,688.5 859.0,688.1 860.6,687.8 862.2,687.5 863.7,687.3 865.2,687.1 866.7,687.0 868.2,686.9 869.7,686.9 871.2,686.9 872.7,687.0 874.2,687.1 875.7,687.3 877.2,687.5 878.8,687.8 880.4,688.1 882.0,688.5 883.7,688.9 885.4,689.3 887.2,689.8 889.1,690.3 891.1,690.8 893.1,691.4 895.3,691.9 897.6,692.5 900.1,693.1 902.7,693.7 905.5,694.4 908.6,695.0 912.0,695.6 915.7,696.2 919.8,696.8 924.5,697.4 929.7,697.9 935.7,698.5 942.7,699.0 951.0,699.4 961.0,699.9 973.4,700.3 989.0,700.6 1009.6,701.0 1038.1,701.2 1080.2,701.5 1149.1,701.7 1149.1,701.9Z" fill="#ff7f00" fill-opacity="0.6" stroke="#000" stroke-width="2.0" stroke-dasharray="6 4"/>
<path d="M479.7,701.9L479.7,701.7 635.7,701.4 713.0,700.9 759.3,700.4 790.2,699.7 812.3,699.0 829.1,698.1 842.2,697.1 852.8,696.1 861.5,694.9 868.9,693.7 875.3,692.5 880.8,691.1 885.7,689.7 890.0,688.3 893.9,686.9 897.5,685.4 900.7,684.0 903.7,682.5 906.5,681.0 909.0,679.6 911.5,678.2 913.8,676.9 915.9,675.6 918.0,674.4 920.0,673.3 921.9,672.2 923.8,671.2 925.5,670.4 927.3,669.6 929.0,668.9 930.7,668.4 932.3,668.0 934.0,667.6 935.6,667.5 937.2,667.4 938.8,667.5 940.4,667.6 942.1,668.0 943.7,668.4 945.4,668.9 947.1,669.6 948.9,670.4 950.6,671.2 952.5,672.2 954.4,673.3 956.4,674.4 958.5,675.6 960.6,676.9 962.9,678.2 965.4,679.6 967.9,681.0 970.7,682.5 973.7,684.0 976.9,685.4 980.5,686.9 984.4,688.3 988.7,689.7 993.6,691.1 999.1,692.5 1005.5,693.7 1012.9,694.9 1021.6,696.1 1032.2,697.1 1045.3,698.1 1062.1,699.0 1084.2,699.7 1115.1,700.4 1161.4,700.9 1162.8,700.9 1162.8,701.9Z" fill="#ff00ff" fill-opacity="0.6" stroke="#000" stroke-width="2.0" stroke-dasharray="6 4"/>
<line x1="82.5" y1="701.9" x2="1162.8" y2="701.9" stroke="#000" stroke-width="2.7"/>
<path d="M82.5,772.3L82.5,772.0 125.6,771.9 159.3,771.7 182.7,771.5 200.0,771.2 213.3,770.9 223.8,770.6 232.5,770.2 239.7,769.8 245.8,769.4 251.1,768.9 255.8,768.5 259.9,768.0 263.5,767.5 266.8,767.0 269.8,766.5 272.6,766.0 275.2,765.5 277.5,765.0 279.7,764.5 281.8,764.1 283.8,763.6 285.6,763.2 287.4,762.7 289.1,762.3 290.7,761.9 292.3,761.6 293.8,761.3 295.3,761.0 296.7,760.7 298.2,760.5 299.6,760.3 300.9,760.2 302.3,760.1 303.7,760.0 305.0,760.0 306.3,760.0 307.7,760.1 309.1,760.2 310.4,760.3 311.8,760.5 313.3,760.7 314.7,761.0 316.2,761.3 317.7,761.6 319.3,761.9 320.9,762.3 322.6,762.7 324.4,763.2 326.2,763.6 328.2,764.1 330.3,764.5 332.5,765.0 334.8,765.5 337.4,766.0 340.2,766.5 343.2,767.0 346.5,767.5 350.1,768.0 354.2,768.5 358.9,768.9 364.2,769.4 370.3,769.8 377.5,770.2 386.2,770.6 396.7,770.9 410.0,771.2 427.3,771.5 450.7,771.7 484.4,771.9 537.3,772.1 537.3,772.3Z" fill="#008000" fill-opacity="0.6" stroke="#000" stroke-width="2.0"/>
<path d="M412.2,772.3L412.2,772.1 439.5,772.0 459.4,771.9 474.7,771.7 486.8,771.6 496.6,771.5 504.8,771.3 511.7,771.1 517.7,770.9 522.9,770.8 527.5,770.6 531.5,770.4 535.2,770.2 538.6,769.9 541.6,769.7 544.4,769.5 547.0,769.3 549.4,769.1 551.7,768.9 553.8,768.7 555.8,768.5 557.8,768.3 559.6,768.1 561.3,767.9 563.0,767.8 564.6,767.6 566.2,767.4 567.7,767.3 569.2,767.2 570.7,767.1 572.1,767.0 573.5,766.9 574.9,766.9 576.3,766.8 577.6,766.8 579.0,766.8 580.4,766.8 581.7,766.8 583.1,766.9 584.5,766.9 585.9,767.0 587.3,767.1 588.8,767.2 590.3,767.3 591.8,767.4 593.4,767.6 595.0,767.8 596.7,767.9 598.4,768.1 600.2,768.3 602.2,768.5 604.2,768.7 606.3,768.9 608.6,769.1 611.0,769.3 613.6,769.5 616.4,769.7 619.4,769.9 622.8,770.2 626.5,770.4 630.5,770.6 635.1,770.8 640.3,770.9 646.3,771.1 653.2,771.3 661.4,771.5 671.2,771.6 683.3,771.7 698.6,771.9 718.5,772.0 745.8,772.1 745.8,772.3Z" fill="#0000ff" fill-opacity="0.6" stroke="#000" stroke-width="2.0"/>
<path d="M271.3,772.3L271.3,772.1 445.3,771.7 527.0,771.2 574.6,770.6 605.9,769.9 628.1,769.0 644.6,767.9 657.6,766.8 667.9,765.6 676.5,764.2 683.7,762.8 689.8,761.2 695.2,759.7 699.9,758.0 704.1,756.3 707.8,754.6 711.2,752.8 714.3,751.1 717.2,749.3 719.9,747.6 722.3,745.9 724.7,744.2 726.9,742.6 728.9,741.1 730.9,739.6 732.8,738.3 734.6,737.0 736.4,735.8 738.1,734.8 739.8,733.8 741.4,733.0 743.0,732.4 744.6,731.9 746.1,731.5 747.7,731.3 749.2,731.2 750.7,731.3 752.3,731.5 753.8,731.9 755.4,732.4 757.0,733.0 758.6,733.8 760.3,734.8 762.0,735.8 763.8,737.0 765.6,738.3 767.5,739.6 769.5,741.1 771.5,742.6 773.7,744.2 776.1,745.9 778.5,747.6 781.2,749.3 784.1,751.1 787.2,752.8 790.6,754.6 794.3,756.3 798.5,758.0 803.2,759.7 808.6,761.2 814.7,762.8 821.9,764.2 830.5,765.6 840.8,766.8 853.8,767.9 870.3,769.0 892.5,769.9 923.8,770.6 971.4,771.2 1053.1,771.7 1162.8,772.0 1162.8,772.3Z" fill="#ff7f00" fill-opacity="0.6" stroke="#000" stroke-width="2.0"/>
<path d="M453.9,772.3L453.9,772.1 562.7,771.8 622.3,771.5 659.9,771.1 686.0,770.6 705.1,770.0 719.9,769.4 731.6,768.7 741.1,767.9 749.1,767.1 755.9,766.3 761.7,765.4 766.9,764.4 771.4,763.4 775.4,762.4 779.1,761.4 782.4,760.4 785.5,759.4 788.3,758.4 791.0,757.4 793.4,756.4 795.7,755.4 797.9,754.5 800.0,753.6 802.0,752.7 803.9,752.0 805.7,751.2 807.5,750.6 809.2,749.9 810.9,749.4 812.5,749.0 814.1,748.6 815.7,748.3 817.3,748.1 818.8,747.9 820.4,747.9 822.0,747.9 823.5,748.1 825.1,748.3 826.7,748.6 828.3,749.0 829.9,749.4 831.6,749.9 833.3,750.6 835.1,751.2 836.9,752.0 838.8,752.7 840.8,753.6 842.9,754.5 845.1,755.4 847.4,756.4 849.8,757.4 852.5,758.4 855.3,759.4 858.4,760.4 861.7,761.4 865.4,762.4 869.4,763.4 873.9,764.4 879.1,765.4 884.9,766.3 891.7,767.1 899.7,767.9 909.2,768.7 920.9,769.4 935.7,770.0 954.8,770.6 980.9,771.1 1018.5,771.5 1078.1,771.8 1162.8,772.0 1162.8,772.3Z" fill="#ff00ff" fill-opacity="0.6" stroke="#000" stroke-width="2.0"/>
<path d="M243.1,772.3L243.1,772.1 268.9,772.0 287.7,771.9 302.0,771.7 313.4,771.6 322.7,771.4 330.4,771.3 336.9,771.1 342.6,770.9 347.5,770.7 351.8,770.5 355.6,770.3 359.1,770.1 362.3,769.9 365.1,769.6 367.8,769.4 370.2,769.2 372.5,769.0 374.6,768.8 376.6,768.5 378.5,768.3 380.3,768.1 382.1,767.9 383.7,767.8 385.3,767.6 386.8,767.4 388.3,767.3 389.7,767.1 391.1,767.0 392.5,766.9 393.9,766.8 395.2,766.7 396.5,766.7 397.8,766.6 399.1,766.6 400.4,766.6 401.7,766.6 403.0,766.6 404.3,766.7 405.6,766.7 406.9,766.8 408.2,766.9 409.6,767.0 411.0,767.1 412.5,767.3 413.9,767.4 415.5,767.6 417.0,767.8 418.7,767.9 420.4,768.1 422.2,768.3 424.1,768.5 426.1,768.8 428.3,769.0 430.5,769.2 433.0,769.4 435.6,769.6 438.5,769.9 441.7,770.1 445.1,770.3 449.0,770.5 453.3,770.7 458.2,770.9 463.8,771.1 470.4,771.3 478.1,771.4 487.3,771.6 498.7,771.7 513.1,771.9 531.9,772.0 557.6,772.1 557.6,772.3Z" fill="#008000" fill-opacity="0.6" stroke="#000" stroke-width="2.0" stroke-dasharray="6 4"/>
<path d="M639.5,772.3L639.5,772.1 653.7,772.0 665.2,771.9 674.6,771.9 682.5,771.8 689.2,771.7 695.0,771.6 700.1,771.5 704.6,771.4 708.7,771.3 712.3,771.2 715.6,771.1 718.7,771.0 721.5,770.9 724.0,770.8 726.5,770.6 728.7,770.5 730.8,770.4 732.8,770.3 734.7,770.2 736.5,770.1 738.3,770.0 739.9,769.9 741.5,769.8 743.1,769.8 744.6,769.7 746.0,769.6 747.4,769.6 748.8,769.5 750.2,769.4 751.5,769.4 752.8,769.4 754.1,769.3 755.4,769.3 756.7,769.3 758.0,769.3 759.3,769.3 760.6,769.3 761.9,769.3 763.2,769.4 764.5,769.4 765.8,769.4 767.2,769.5 768.6,769.6 770.0,769.6 771.4,769.7 772.9,769.8 774.5,769.8 776.1,769.9 777.7,770.0 779.5,770.1 781.3,770.2 783.2,770.3 785.2,770.4 787.3,770.5 789.5,770.6 792.0,770.8 794.5,770.9 797.3,771.0 800.4,771.1 803.7,771.2 807.3,771.3 811.4,771.4 815.9,771.5 821.0,771.6 826.8,771.7 833.5,771.8 841.4,771.9 850.8,771.9 862.3,772.0 876.5,772.1 876.5,772.3Z" fill="#0000ff" fill-opacity="0.6" stroke="#000" stroke-width="2.0" stroke-dasharray="6 4"/>
<path d="M519.5,772.3L519.5,772.1 608.9,771.9 660.0,771.6 693.3,771.3 716.7,770.9 734.1,770.4 747.7,769.9 758.5,769.4 767.4,768.8 774.9,768.2 781.3,767.5 786.8,766.8 791.6,766.0 795.9,765.3 799.8,764.5 803.3,763.7 806.5,762.9 809.4,762.1 812.1,761.4 814.6,760.6 817.0,759.8 819.2,759.1 821.3,758.4 823.3,757.7 825.2,757.0 827.0,756.4 828.8,755.9 830.5,755.3 832.2,754.9 833.8,754.5 835.4,754.1 836.9,753.8 838.5,753.6 840.0,753.4 841.5,753.3 843.0,753.3 844.5,753.3 846.0,753.4 847.5,753.6 849.1,753.8 850.6,754.1 852.2,754.5 853.8,754.9 855.5,755.3 857.2,755.9 859.0,756.4 860.8,757.0 862.7,757.7 864.7,758.4 866.8,759.1 869.0,759.8 871.4,760.6 873.9,761.4 876.6,762.1 879.5,762.9 882.7,763.7 886.2,764.5 890.1,765.3 894.4,766.0 899.2,766.8 904.7,767.5 911.1,768.2 918.6,768.8 927.5,769.4 938.3,769.9 951.9,770.4 969.3,770.9 992.7,771.3 1026.0,771.6 1077.1,771.9 1162.8,772.1 1162.8,772.3Z" fill="#ff7f00" fill-opacity="0.6" stroke="#000" stroke-width="2.0" stroke-dasharray="6 4"/>
<path d="M455.3,772.3L455.3,772.1 611.3,771.8 688.6,771.4 734.9,770.8 765.8,770.2 787.9,769.5 804.7,768.6 817.8,767.7 828.4,766.7 837.1,765.6 844.5,764.4 850.9,763.2 856.4,761.9 861.3,760.6 865.6,759.2 869.5,757.8 873.1,756.4 876.3,755.0 879.3,753.6 882.1,752.2 884.6,750.8 887.1,749.5 889.4,748.2 891.5,746.9 893.6,745.8 895.6,744.7 897.5,743.6 899.4,742.7 901.1,741.9 902.9,741.1 904.6,740.5 906.3,740.0 907.9,739.5 909.6,739.2 911.2,739.1 912.8,739.0 914.4,739.1 916.0,739.2 917.7,739.5 919.3,740.0 921.0,740.5 922.7,741.1 924.5,741.9 926.2,742.7 928.1,743.6 930.0,744.7 932.0,745.8 934.1,746.9 936.2,748.2 938.5,749.5 941.0,750.8 943.5,752.2 946.3,753.6 949.3,755.0 952.5,756.4 956.1,757.8 960.0,759.2 964.3,760.6 969.2,761.9 974.7,763.2 981.1,764.4 988.5,765.6 997.2,766.7 1007.8,767.7 1020.9,768.6 1037.7,769.5 1059.8,770.2 1090.7,770.8 1137.0,771.4 1162.8,771.5 1162.8,772.3Z" fill="#ff00ff" fill-opacity="0.6" stroke="#000" stroke-width="2.0" stroke-dasharray="6 4"/>
<line x1="82.5" y1="772.3" x2="1162.8" y2="772.3" stroke="#000" stroke-width="2.7"/>
<path d="M94.7,843.0L94.7,842.8 147.6,842.6 181.3,842.4 204.7,842.2 222.0,842.0 235.3,841.7 245.8,841.4 254.5,841.0 261.7,840.6 267.8,840.2 273.1,839.8 277.8,839.4 281.9,839.0 285.5,838.5 288.8,838.0 291.8,837.6 294.6,837.1 297.2,836.6 299.5,836.2 301.7,835.7 303.8,835.2 305.8,834.8 307.6,834.4 309.4,834.0 311.1,833.6 312.7,833.2 314.3,832.9 315.8,832.6 317.3,832.3 318.7,832.1 320.2,831.9 321.6,831.7 322.9,831.6 324.3,831.5 325.7,831.4 327.0,831.4 328.3,831.4 329.7,831.5 331.1,831.6 332.4,831.7 333.8,831.9 335.3,832.1 336.7,832.3 338.2,832.6 339.7,832.9 341.3,833.2 342.9,833.6 344.6,834.0 346.4,834.4 348.2,834.8 350.2,835.2 352.3,835.7 354.5,836.2 356.8,836.6 359.4,837.1 362.2,837.6 365.2,838.0 368.5,838.5 372.1,839.0 376.2,839.4 380.9,839.8 386.2,840.2 392.3,840.6 399.5,841.0 408.2,841.4 418.7,841.7 432.0,842.0 449.3,842.2 472.7,842.4 506.4,842.6 559.3,842.8 559.3,843.0Z" fill="#008000" fill-opacity="0.6" stroke="#000" stroke-width="2.0"/>
<path d="M561.1,843.0L561.1,842.8 565.4,842.7 569.3,842.7 572.7,842.7 575.9,842.7 578.9,842.6 581.6,842.6 584.1,842.6 586.5,842.5 588.7,842.5 590.8,842.5 592.8,842.4 594.6,842.4 596.4,842.4 598.1,842.4 599.7,842.3 601.2,842.3 602.7,842.3 604.1,842.2 605.5,842.2 606.9,842.2 608.2,842.2 609.4,842.1 610.7,842.1 611.9,842.1 613.0,842.1 614.2,842.1 615.3,842.1 616.4,842.0 617.6,842.0 618.6,842.0 619.7,842.0 620.8,842.0 621.9,842.0 622.9,842.0 624.0,842.0 625.1,842.0 626.1,842.0 627.2,842.0 628.3,842.0 629.4,842.0 630.4,842.0 631.6,842.0 632.7,842.1 633.8,842.1 635.0,842.1 636.1,842.1 637.3,842.1 638.6,842.1 639.8,842.2 641.1,842.2 642.5,842.2 643.9,842.2 645.3,842.3 646.8,842.3 648.3,842.3 649.9,842.4 651.6,842.4 653.4,842.4 655.2,842.4 657.2,842.5 659.3,842.5 661.5,842.5 663.9,842.6 666.4,842.6 669.1,842.6 672.1,842.7 675.3,842.7 678.7,842.7 682.6,842.7 686.9,842.8 686.9,843.0Z" fill="#0000ff" fill-opacity="0.6" stroke="#000" stroke-width="2.0"/>
<path d="M338.5,843.0L338.5,842.8 486.4,842.4 559.6,842.0 603.4,841.5 632.7,840.8 653.7,840.0 669.6,839.1 682.0,838.1 692.0,837.0 700.3,835.8 707.3,834.6 713.3,833.3 718.6,831.9 723.2,830.5 727.3,829.0 731.0,827.5 734.4,826.0 737.4,824.5 740.3,823.0 742.9,821.5 745.3,820.1 747.6,818.7 749.8,817.3 751.9,816.0 753.8,814.7 755.7,813.5 757.5,812.4 759.3,811.5 761.0,810.6 762.6,809.8 764.2,809.1 765.8,808.5 767.4,808.1 768.9,807.8 770.5,807.6 772.0,807.5 773.5,807.6 775.1,807.8 776.6,808.1 778.2,808.5 779.8,809.1 781.4,809.8 783.0,810.6 784.7,811.5 786.5,812.4 788.3,813.5 790.2,814.7 792.1,816.0 794.2,817.3 796.4,818.7 798.7,820.1 801.1,821.5 803.7,823.0 806.6,824.5 809.6,826.0 813.0,827.5 816.7,829.0 820.8,830.5 825.4,831.9 830.7,833.3 836.7,834.6 843.7,835.8 852.0,837.0 862.0,838.1 874.4,839.1 890.3,840.0 911.3,840.8 940.6,841.5 984.4,842.0 1057.6,842.4 1162.8,842.7 1162.8,843.0Z" fill="#ff7f00" fill-opacity="0.6" stroke="#000" stroke-width="2.0"/>
<path d="M460.2,843.0L460.2,842.8 578.6,842.5 641.8,842.1 681.3,841.7 708.3,841.2 728.1,840.6 743.2,839.9 755.2,839.1 765.0,838.3 773.1,837.4 780.0,836.5 785.9,835.5 791.1,834.4 795.7,833.4 799.8,832.3 803.5,831.2 806.9,830.1 809.9,828.9 812.8,827.8 815.4,826.7 817.9,825.6 820.2,824.6 822.4,823.5 824.5,822.6 826.5,821.6 828.4,820.8 830.3,820.0 832.0,819.2 833.8,818.6 835.4,818.0 837.1,817.5 838.7,817.1 840.3,816.7 841.9,816.5 843.4,816.3 845.0,816.3 846.6,816.3 848.1,816.5 849.7,816.7 851.3,817.1 852.9,817.5 854.6,818.0 856.2,818.6 858.0,819.2 859.7,820.0 861.6,820.8 863.5,821.6 865.5,822.6 867.6,823.5 869.8,824.6 872.1,825.6 874.6,826.7 877.2,827.8 880.1,828.9 883.1,830.1 886.5,831.2 890.2,832.3 894.3,833.4 898.9,834.4 904.1,835.5 910.0,836.5 916.9,837.4 925.0,838.3 934.8,839.1 946.8,839.9 961.9,840.6 981.7,841.2 1008.7,841.7 1048.2,842.1 1111.4,842.5 1162.8,842.6 1162.8,843.0Z" fill="#ff00ff" fill-opacity="0.6" stroke="#000" stroke-width="2.0"/>
<path d="M184.7,843.0L184.7,842.8 221.7,842.6 247.1,842.5 265.6,842.3 279.8,842.2 291.0,841.9 300.1,841.7 307.7,841.5 314.1,841.2 319.6,840.9 324.5,840.7 328.7,840.4 332.5,840.1 335.9,839.8 339.0,839.4 341.9,839.1 344.5,838.8 346.9,838.5 349.2,838.2 351.3,837.9 353.3,837.6 355.2,837.3 356.9,837.0 358.7,836.7 360.3,836.5 361.9,836.2 363.4,836.0 364.9,835.8 366.4,835.6 367.8,835.5 369.2,835.3 370.5,835.2 371.9,835.1 373.2,835.1 374.5,835.0 375.8,835.0 377.2,835.0 378.5,835.1 379.8,835.1 381.2,835.2 382.5,835.3 383.9,835.5 385.3,835.6 386.8,835.8 388.3,836.0 389.8,836.2 391.4,836.5 393.0,836.7 394.7,837.0 396.5,837.3 398.4,837.6 400.4,837.9 402.5,838.2 404.8,838.5 407.2,838.8 409.8,839.1 412.6,839.4 415.7,839.8 419.2,840.1 423.0,840.4 427.2,840.7 432.0,840.9 437.6,841.2 444.0,841.5 451.6,841.7 460.7,841.9 471.9,842.2 486.0,842.3 504.6,842.5 529.9,842.6 567.0,842.8 567.0,843.0Z" fill="#008000" fill-opacity="0.6" stroke="#000" stroke-width="2.0" stroke-dasharray="6 4"/>
<path d="M651.1,843.0L651.1,842.8 655.4,842.7 659.3,842.7 662.7,842.7 665.9,842.7 668.9,842.6 671.6,842.6 674.1,842.6 676.5,842.5 678.7,842.5 680.8,842.5 682.8,842.4 684.6,842.4 686.4,842.4 688.1,842.4 689.7,842.3 691.2,842.3 692.7,842.3 694.1,842.2 695.5,842.2 696.9,842.2 698.2,842.2 699.4,842.1 700.7,842.1 701.9,842.1 703.0,842.1 704.2,842.1 705.3,842.1 706.4,842.0 707.6,842.0 708.6,842.0 709.7,842.0 710.8,842.0 711.9,842.0 712.9,842.0 714.0,842.0 715.1,842.0 716.1,842.0 717.2,842.0 718.3,842.0 719.4,842.0 720.4,842.0 721.6,842.0 722.7,842.1 723.8,842.1 725.0,842.1 726.1,842.1 727.3,842.1 728.6,842.1 729.8,842.2 731.1,842.2 732.5,842.2 733.9,842.2 735.3,842.3 736.8,842.3 738.3,842.3 739.9,842.4 741.6,842.4 743.4,842.4 745.2,842.4 747.2,842.5 749.3,842.5 751.5,842.5 753.9,842.6 756.4,842.6 759.1,842.6 762.1,842.7 765.3,842.7 768.7,842.7 772.6,842.7 776.9,842.8 776.9,843.0Z" fill="#0000ff" fill-opacity="0.6" stroke="#000" stroke-width="2.0" stroke-dasharray="6 4"/>
<path d="M461.4,843.0L461.4,842.8 567.3,842.5 625.2,842.2 661.9,841.8 687.2,841.3 705.9,840.8 720.2,840.1 731.6,839.5 740.9,838.7 748.6,837.9 755.2,837.1 760.9,836.2 765.9,835.2 770.3,834.3 774.3,833.3 777.8,832.3 781.1,831.3 784.1,830.3 786.8,829.3 789.4,828.3 791.7,827.3 794.0,826.4 796.1,825.5 798.1,824.6 800.1,823.8 801.9,823.0 803.7,822.3 805.4,821.6 807.1,821.0 808.7,820.5 810.3,820.0 811.9,819.7 813.4,819.4 815.0,819.2 816.5,819.0 818.0,819.0 819.5,819.0 821.0,819.2 822.6,819.4 824.1,819.7 825.7,820.0 827.3,820.5 828.9,821.0 830.6,821.6 832.3,822.3 834.1,823.0 835.9,823.8 837.9,824.6 839.9,825.5 842.0,826.4 844.3,827.3 846.6,828.3 849.2,829.3 851.9,830.3 854.9,831.3 858.2,832.3 861.7,833.3 865.7,834.3 870.1,835.2 875.1,836.2 880.8,837.1 887.4,837.9 895.1,838.7 904.4,839.5 915.8,840.1 930.1,840.8 948.8,841.3 974.1,841.8 1010.8,842.2 1068.7,842.5 1162.8,842.7 1162.8,843.0Z" fill="#ff7f00" fill-opacity="0.6" stroke="#000" stroke-width="2.0" stroke-dasharray="6 4"/>
<path d="M452.2,843.0L452.2,842.8 595.9,842.5 669.0,842.1 713.3,841.6 743.2,841.0 764.7,840.3 781.0,839.5 793.9,838.7 804.3,837.7 812.9,836.7 820.2,835.6 826.5,834.5 831.9,833.3 836.8,832.1 841.1,830.8 844.9,829.5 848.4,828.2 851.7,826.9 854.6,825.6 857.4,824.3 859.9,823.1 862.4,821.8 864.6,820.6 866.8,819.5 868.9,818.4 870.9,817.4 872.8,816.5 874.6,815.6 876.4,814.8 878.1,814.2 879.8,813.6 881.5,813.1 883.1,812.7 884.8,812.4 886.4,812.3 888.0,812.2 889.6,812.3 891.2,812.4 892.9,812.7 894.5,813.1 896.2,813.6 897.9,814.2 899.6,814.8 901.4,815.6 903.2,816.5 905.1,817.4 907.1,818.4 909.2,819.5 911.4,820.6 913.6,821.8 916.1,823.1 918.6,824.3 921.4,825.6 924.3,826.9 927.6,828.2 931.1,829.5 934.9,830.8 939.2,832.1 944.1,833.3 949.5,834.5 955.8,835.6 963.1,836.7 971.7,837.7 982.1,838.7 995.0,839.5 1011.3,840.3 1032.8,841.0 1062.7,841.6 1107.0,842.1 1162.8,842.4 1162.8,843.0Z" fill="#ff00ff" fill-opacity="0.6" stroke="#000" stroke-width="2.0" stroke-dasharray="6 4"/>
<line x1="82.5" y1="843.0" x2="1162.8" y2="843.0" stroke="#000" stroke-width="2.7"/>
<path d="M130.0,914.1L130.0,913.9 178.5,913.7 210.0,913.6 232.1,913.4 248.5,913.1 261.3,912.9 271.5,912.6 279.8,912.3 286.9,911.9 292.8,911.6 298.0,911.2 302.6,910.8 306.6,910.4 310.2,910.0 313.5,909.6 316.4,909.1 319.2,908.7 321.7,908.3 324.0,907.9 326.2,907.4 328.2,907.0 330.2,906.6 332.0,906.3 333.8,905.9 335.5,905.6 337.1,905.2 338.7,904.9 340.2,904.7 341.6,904.4 343.1,904.2 344.5,904.0 345.9,903.9 347.3,903.8 348.6,903.7 350.0,903.6 351.3,903.6 352.6,903.6 354.0,903.7 355.3,903.8 356.7,903.9 358.1,904.0 359.5,904.2 361.0,904.4 362.4,904.7 363.9,904.9 365.5,905.2 367.1,905.6 368.8,905.9 370.6,906.3 372.4,906.6 374.4,907.0 376.4,907.4 378.6,907.9 380.9,908.3 383.4,908.7 386.2,909.1 389.1,909.6 392.4,910.0 396.0,910.4 400.0,910.8 404.6,911.2 409.8,911.6 415.7,911.9 422.8,912.3 431.1,912.6 441.3,912.9 454.1,913.1 470.5,913.4 492.6,913.6 524.1,913.7 572.6,913.9 572.6,914.1Z" fill="#008000" fill-opacity="0.6" stroke="#000" stroke-width="2.0"/>
<path d="M402.7,914.1L402.7,913.9 528.0,913.6 593.3,913.2 633.5,912.7 660.8,912.1 680.6,911.4 695.7,910.7 707.6,909.8 717.3,908.9 725.3,907.9 732.1,906.8 738.0,905.7 743.1,904.6 747.6,903.4 751.7,902.1 755.3,900.9 758.6,899.6 761.6,898.4 764.4,897.1 767.0,895.9 769.4,894.6 771.7,893.4 773.9,892.3 775.9,891.2 777.8,890.1 779.7,889.1 781.5,888.2 783.2,887.4 784.9,886.7 786.6,886.0 788.2,885.4 789.8,884.9 791.3,884.6 792.8,884.3 794.4,884.2 795.9,884.1 797.4,884.2 799.0,884.3 800.5,884.6 802.0,884.9 803.6,885.4 805.2,886.0 806.9,886.7 808.6,887.4 810.3,888.2 812.1,889.1 814.0,890.1 815.9,891.2 817.9,892.3 820.1,893.4 822.4,894.6 824.8,895.9 827.4,897.1 830.2,898.4 833.2,899.6 836.5,900.9 840.1,902.1 844.2,903.4 848.7,904.6 853.8,905.7 859.7,906.8 866.5,907.9 874.5,908.9 884.2,909.8 896.1,910.7 911.2,911.4 931.0,912.1 958.3,912.7 998.5,913.2 1063.8,913.6 1162.8,913.8 1162.8,914.1Z" fill="#ff7f00" fill-opacity="0.6" stroke="#000" stroke-width="2.0"/>
<path d="M461.2,914.1L461.2,913.9 590.0,913.6 657.1,913.2 698.4,912.7 726.4,912.1 746.8,911.4 762.3,910.7 774.6,909.8 784.5,908.9 792.8,907.9 799.8,906.8 805.8,905.7 811.1,904.6 815.7,903.4 819.8,902.1 823.6,900.9 827.0,899.6 830.1,898.4 832.9,897.1 835.6,895.9 838.1,894.6 840.4,893.4 842.6,892.3 844.7,891.2 846.7,890.1 848.7,889.1 850.5,888.2 852.3,887.4 854.0,886.7 855.7,886.0 857.4,885.4 859.0,884.9 860.6,884.6 862.2,884.3 863.7,884.2 865.3,884.1 866.9,884.2 868.4,884.3 870.0,884.6 871.6,884.9 873.2,885.4 874.9,886.0 876.6,886.7 878.3,887.4 880.1,888.2 881.9,889.1 883.9,890.1 885.9,891.2 888.0,892.3 890.2,893.4 892.5,894.6 895.0,895.9 897.7,897.1 900.5,898.4 903.6,899.6 907.0,900.9 910.8,902.1 914.9,903.4 919.5,904.6 924.8,905.7 930.8,906.8 937.8,907.9 946.1,908.9 956.0,909.8 968.3,910.7 983.8,911.4 1004.2,912.1 1032.2,912.7 1073.5,913.2 1140.6,913.6 1162.8,913.6 1162.8,914.1Z" fill="#ff00ff" fill-opacity="0.6" stroke="#000" stroke-width="2.0"/>
<path d="M130.0,914.1L130.0,913.9 178.5,913.7 210.0,913.6 232.1,913.4 248.5,913.1 261.3,912.9 271.5,912.6 279.8,912.3 286.9,911.9 292.8,911.6 298.0,911.2 302.6,910.8 306.6,910.4 310.2,910.0 313.5,909.6 316.4,909.1 319.2,908.7 321.7,908.3 324.0,907.9 326.2,907.4 328.2,907.0 330.2,906.6 332.0,906.3 333.8,905.9 335.5,905.6 337.1,905.2 338.7,904.9 340.2,904.7 341.6,904.4 343.1,904.2 344.5,904.0 345.9,903.9 347.3,903.8 348.6,903.7 350.0,903.6 351.3,903.6 352.6,903.6 354.0,903.7 355.3,903.8 356.7,903.9 358.1,904.0 359.5,904.2 361.0,904.4 362.4,904.7 363.9,904.9 365.5,905.2 367.1,905.6 368.8,905.9 370.6,906.3 372.4,906.6 374.4,907.0 376.4,907.4 378.6,907.9 380.9,908.3 383.4,908.7 386.2,909.1 389.1,909.6 392.4,910.0 396.0,910.4 400.0,910.8 404.6,911.2 409.8,911.6 415.7,911.9 422.8,912.3 431.1,912.6 441.3,912.9 454.1,913.1 470.5,913.4 492.6,913.6 524.1,913.7 572.6,913.9 572.6,914.1Z" fill="#008000" fill-opacity="0.6" stroke="#000" stroke-width="2.0" stroke-dasharray="6 4"/>
<path d="M402.7,914.1L402.7,913.9 528.0,913.6 593.3,913.2 633.5,912.7 660.8,912.1 680.6,911.4 695.7,910.7 707.6,909.8 717.3,908.9 725.3,907.9 732.1,906.8 738.0,905.7 743.1,904.6 747.6,903.4 751.7,902.1 755.3,900.9 758.6,899.6 761.6,898.4 764.4,897.1 767.0,895.9 769.4,894.6 771.7,893.4 773.9,892.3 775.9,891.2 777.8,890.1 779.7,889.1 781.5,888.2 783.2,887.4 784.9,886.7 786.6,886.0 788.2,885.4 789.8,884.9 791.3,884.6 792.8,884.3 794.4,884.2 795.9,884.1 797.4,884.2 799.0,884.3 800.5,884.6 802.0,884.9 803.6,885.4 805.2,886.0 806.9,886.7 808.6,887.4 810.3,888.2 812.1,889.1 814.0,890.1 815.9,891.2 817.9,892.3 820.1,893.4 822.4,894.6 824.8,895.9 827.4,897.1 830.2,898.4 833.2,899.6 836.5,900.9 840.1,902.1 844.2,903.4 848.7,904.6 853.8,905.7 859.7,906.8 866.5,907.9 874.5,908.9 884.2,909.8 896.1,910.7 911.2,911.4 931.0,912.1 958.3,912.7 998.5,913.2 1063.8,913.6 1162.8,913.8 1162.8,914.1Z" fill="#ff7f00" fill-opacity="0.6" stroke="#000" stroke-width="2.0" stroke-dasharray="6 4"/>
<path d="M450.3,914.1L450.3,913.9 582.5,913.6 651.4,913.2 693.9,912.7 722.7,912.1 743.6,911.4 759.5,910.7 772.1,909.8 782.3,908.9 790.8,907.9 798.0,906.8 804.2,905.7 809.6,904.6 814.4,903.4 818.6,902.1 822.4,900.9 825.9,899.6 829.1,898.4 832.1,897.1 834.8,895.9 837.4,894.6 839.8,893.4 842.0,892.3 844.2,891.2 846.2,890.1 848.2,889.1 850.1,888.2 851.9,887.4 853.7,886.7 855.5,886.0 857.1,885.4 858.8,884.9 860.5,884.6 862.1,884.3 863.7,884.2 865.3,884.1 866.9,884.2 868.5,884.3 870.1,884.6 871.8,884.9 873.5,885.4 875.1,886.0 876.9,886.7 878.7,887.4 880.5,888.2 882.4,889.1 884.4,890.1 886.4,891.2 888.6,892.3 890.8,893.4 893.2,894.6 895.8,895.9 898.5,897.1 901.5,898.4 904.7,899.6 908.2,900.9 912.0,902.1 916.2,903.4 921.0,904.6 926.4,905.7 932.6,906.8 939.8,907.9 948.3,908.9 958.5,909.8 971.1,910.7 987.0,911.4 1007.9,912.1 1036.7,912.7 1079.2,913.2 1148.1,913.6 1162.8,913.6 1162.8,914.1Z" fill="#ff00ff" fill-opacity="0.6" stroke="#000" stroke-width="2.0" stroke-dasharray="6 4"/>
<line x1="82.5" y1="914.1" x2="1162.8" y2="914.1" stroke="#000" stroke-width="2.7"/>
<path d="M145.7,1023.8L145.7,1023.6 194.2,1023.4 225.7,1023.2 247.8,1023.0 264.2,1022.8 277.0,1022.5 287.2,1022.2 295.5,1021.9 302.6,1021.6 308.5,1021.2 313.7,1020.8 318.3,1020.4 322.3,1020.0 325.9,1019.6 329.2,1019.1 332.1,1018.7 334.9,1018.3 337.4,1017.8 339.7,1017.4 341.9,1017.0 343.9,1016.5 345.9,1016.1 347.7,1015.7 349.5,1015.4 351.2,1015.0 352.8,1014.7 354.4,1014.4 355.9,1014.1 357.3,1013.9 358.8,1013.6 360.2,1013.4 361.6,1013.3 363.0,1013.2 364.3,1013.1 365.7,1013.0 367.0,1013.0 368.3,1013.0 369.7,1013.1 371.0,1013.2 372.4,1013.3 373.8,1013.4 375.2,1013.6 376.7,1013.9 378.1,1014.1 379.6,1014.4 381.2,1014.7 382.8,1015.0 384.5,1015.4 386.3,1015.7 388.1,1016.1 390.1,1016.5 392.1,1017.0 394.3,1017.4 396.6,1017.8 399.1,1018.3 401.9,1018.7 404.8,1019.1 408.1,1019.6 411.7,1020.0 415.7,1020.4 420.3,1020.8 425.5,1021.2 431.4,1021.6 438.5,1021.9 446.8,1022.2 457.0,1022.5 469.8,1022.8 486.2,1023.0 508.3,1023.2 539.8,1023.4 588.3,1023.6 588.3,1023.8Z" fill="#008000" fill-opacity="0.6" stroke="#000" stroke-width="1.6"/>
<path d="M82.5,1023.8L82.5,1023.5 294.3,1023.1 404.6,1022.3 463.9,1021.3 500.9,1020.1 526.4,1018.6 545.0,1016.8 559.3,1014.9 570.6,1012.7 579.8,1010.4 587.5,1007.9 594.1,1005.2 599.7,1002.4 604.6,999.5 609.0,996.5 612.9,993.5 616.4,990.4 619.7,987.2 622.6,984.1 625.3,981.0 627.9,978.0 630.3,975.0 632.5,972.1 634.6,969.4 636.6,966.8 638.6,964.3 640.4,962.0 642.2,959.9 643.9,958.0 645.6,956.4 647.3,954.9 648.9,953.7 650.5,952.8 652.1,952.1 653.6,951.7 655.2,951.6 656.8,951.7 658.3,952.1 659.9,952.8 661.5,953.7 663.1,954.9 664.8,956.4 666.5,958.0 668.2,959.9 670.0,962.0 671.8,964.3 673.8,966.8 675.8,969.4 677.9,972.1 680.1,975.0 682.5,978.0 685.1,981.0 687.8,984.1 690.7,987.2 694.0,990.4 697.5,993.5 701.4,996.5 705.8,999.5 710.7,1002.4 716.3,1005.2 722.9,1007.9 730.6,1010.4 739.8,1012.7 751.1,1014.9 765.4,1016.8 784.0,1018.6 809.5,1020.1 846.5,1021.3 905.8,1022.3 1016.1,1023.1 1162.8,1023.4 1162.8,1023.8Z" fill="#0000ff" fill-opacity="0.6" stroke="#000" stroke-width="1.6"/>
<path d="M431.0,1023.8L431.0,1023.6 552.7,1023.3 616.2,1022.9 655.3,1022.4 681.8,1021.9 701.1,1021.2 715.8,1020.5 727.4,1019.6 736.8,1018.7 744.6,1017.8 751.2,1016.7 756.9,1015.7 761.9,1014.5 766.3,1013.4 770.2,1012.2 773.7,1010.9 776.9,1009.7 779.9,1008.5 782.6,1007.3 785.1,1006.0 787.5,1004.8 789.7,1003.7 791.8,1002.6 793.7,1001.5 795.6,1000.5 797.5,999.5 799.2,998.6 800.9,997.8 802.5,997.1 804.1,996.4 805.7,995.9 807.2,995.4 808.7,995.1 810.2,994.8 811.7,994.7 813.2,994.6 814.7,994.7 816.2,994.8 817.7,995.1 819.2,995.4 820.7,995.9 822.3,996.4 823.9,997.1 825.5,997.8 827.2,998.6 828.9,999.5 830.8,1000.5 832.7,1001.5 834.6,1002.6 836.7,1003.7 838.9,1004.8 841.3,1006.0 843.8,1007.3 846.5,1008.5 849.5,1009.7 852.7,1010.9 856.2,1012.2 860.1,1013.4 864.5,1014.5 869.5,1015.7 875.2,1016.7 881.8,1017.8 889.6,1018.7 899.0,1019.6 910.6,1020.5 925.3,1021.2 944.6,1021.9 971.1,1022.4 1010.2,1022.9 1073.7,1023.3 1162.8,1023.5 1162.8,1023.8Z" fill="#ff7f00" fill-opacity="0.6" stroke="#000" stroke-width="1.6"/>
<path d="M444.2,1023.8L444.2,1023.6 583.4,1023.3 656.0,1022.9 700.6,1022.5 731.0,1021.9 753.0,1021.3 769.8,1020.5 783.0,1019.7 793.8,1018.8 802.7,1017.9 810.3,1016.9 816.8,1015.8 822.5,1014.7 827.5,1013.6 831.9,1012.4 836.0,1011.2 839.7,1010.0 843.0,1008.8 846.1,1007.6 849.0,1006.4 851.7,1005.2 854.2,1004.1 856.6,1003.0 858.9,1001.9 861.0,1001.0 863.1,1000.0 865.1,999.1 867.0,998.3 868.9,997.6 870.7,997.0 872.5,996.5 874.3,996.0 876.0,995.7 877.7,995.4 879.4,995.3 881.1,995.2 882.8,995.3 884.5,995.4 886.2,995.7 887.9,996.0 889.7,996.5 891.5,997.0 893.3,997.6 895.2,998.3 897.1,999.1 899.1,1000.0 901.2,1001.0 903.3,1001.9 905.6,1003.0 908.0,1004.1 910.5,1005.2 913.2,1006.4 916.1,1007.6 919.2,1008.8 922.5,1010.0 926.2,1011.2 930.3,1012.4 934.7,1013.6 939.7,1014.7 945.4,1015.8 951.9,1016.9 959.5,1017.9 968.4,1018.8 979.2,1019.7 992.4,1020.5 1009.2,1021.3 1031.2,1021.9 1061.6,1022.5 1106.2,1022.9 1162.8,1023.2 1162.8,1023.8Z" fill="#ff00ff" fill-opacity="0.6" stroke="#000" stroke-width="1.6"/>
<path d="M145.7,1023.8L145.7,1023.6 194.2,1023.4 225.7,1023.2 247.8,1023.0 264.2,1022.8 277.0,1022.5 287.2,1022.2 295.5,1021.9 302.6,1021.6 308.5,1021.2 313.7,1020.8 318.3,1020.4 322.3,1020.0 325.9,1019.6 329.2,1019.1 332.1,1018.7 334.9,1018.3 337.4,1017.8 339.7,1017.4 341.9,1017.0 343.9,1016.5 345.9,1016.1 347.7,1015.7 349.5,1015.4 351.2,1015.0 352.8,1014.7 354.4,1014.4 355.9,1014.1 357.3,1013.9 358.8,1013.6 360.2,1013.4 361.6,1013.3 363.0,1013.2 364.3,1013.1 365.7,1013.0 367.0,1013.0 368.3,1013.0 369.7,1013.1 371.0,1013.2 372.4,1013.3 373.8,1013.4 375.2,1013.6 376.7,1013.9 378.1,1014.1 379.6,1014.4 381.2,1014.7 382.8,1015.0 384.5,1015.4 386.3,1015.7 388.1,1016.1 390.1,1016.5 392.1,1017.0 394.3,1017.4 396.6,1017.8 399.1,1018.3 401.9,1018.7 404.8,1019.1 408.1,1019.6 411.7,1020.0 415.7,1020.4 420.3,1020.8 425.5,1021.2 431.4,1021.6 438.5,1021.9 446.8,1022.2 457.0,1022.5 469.8,1022.8 486.2,1023.0 508.3,1023.2 539.8,1023.4 588.3,1023.6 588.3,1023.8Z" fill="#008000" fill-opacity="0.6"/>
<path d="M82.5,1023.8L82.5,1023.5 294.3,1023.1 404.6,1022.3 463.9,1021.3 500.9,1020.1 526.4,1018.6 545.0,1016.8 559.3,1014.9 570.6,1012.7 579.8,1010.4 587.5,1007.9 594.1,1005.2 599.7,1002.4 604.6,999.5 609.0,996.5 612.9,993.5 616.4,990.4 619.7,987.2 622.6,984.1 625.3,981.0 627.9,978.0 630.3,975.0 632.5,972.1 634.6,969.4 636.6,966.8 638.6,964.3 640.4,962.0 642.2,959.9 643.9,958.0 645.6,956.4 647.3,954.9 648.9,953.7 650.5,952.8 652.1,952.1 653.6,951.7 655.2,951.6 656.8,951.7 658.3,952.1 659.9,952.8 661.5,953.7 663.1,954.9 664.8,956.4 666.5,958.0 668.2,959.9 670.0,962.0 671.8,964.3 673.8,966.8 675.8,969.4 677.9,972.1 680.1,975.0 682.5,978.0 685.1,981.0 687.8,984.1 690.7,987.2 694.0,990.4 697.5,993.5 701.4,996.5 705.8,999.5 710.7,1002.4 716.3,1005.2 722.9,1007.9 730.6,1010.4 739.8,1012.7 751.1,1014.9 765.4,1016.8 784.0,1018.6 809.5,1020.1 846.5,1021.3 905.8,1022.3 1016.1,1023.1 1162.8,1023.4 1162.8,1023.8Z" fill="#0000ff" fill-opacity="0.6"/>
<path d="M431.0,1023.8L431.0,1023.6 552.7,1023.3 616.2,1022.9 655.3,1022.4 681.8,1021.9 701.1,1021.2 715.8,1020.5 727.4,1019.6 736.8,1018.7 744.6,1017.8 751.2,1016.7 756.9,1015.7 761.9,1014.5 766.3,1013.4 770.2,1012.2 773.7,1010.9 776.9,1009.7 779.9,1008.5 782.6,1007.3 785.1,1006.0 787.5,1004.8 789.7,1003.7 791.8,1002.6 793.7,1001.5 795.6,1000.5 797.5,999.5 799.2,998.6 800.9,997.8 802.5,997.1 804.1,996.4 805.7,995.9 807.2,995.4 808.7,995.1 810.2,994.8 811.7,994.7 813.2,994.6 814.7,994.7 816.2,994.8 817.7,995.1 819.2,995.4 820.7,995.9 822.3,996.4 823.9,997.1 825.5,997.8 827.2,998.6 828.9,999.5 830.8,1000.5 832.7,1001.5 834.6,1002.6 836.7,1003.7 838.9,1004.8 841.3,1006.0 843.8,1007.3 846.5,1008.5 849.5,1009.7 852.7,1010.9 856.2,1012.2 860.1,1013.4 864.5,1014.5 869.5,1015.7 875.2,1016.7 881.8,1017.8 889.6,1018.7 899.0,1019.6 910.6,1020.5 925.3,1021.2 944.6,1021.9 971.1,1022.4 1010.2,1022.9 1073.7,1023.3 1162.8,1023.5 1162.8,1023.8Z" fill="#ff7f00" fill-opacity="0.6"/>
<path d="M444.2,1023.8L444.2,1023.6 583.4,1023.3 656.0,1022.9 700.6,1022.5 731.0,1021.9 753.0,1021.3 769.8,1020.5 783.0,1019.7 793.8,1018.8 802.7,1017.9 810.3,1016.9 816.8,1015.8 822.5,1014.7 827.5,1013.6 831.9,1012.4 836.0,1011.2 839.7,1010.0 843.0,1008.8 846.1,1007.6 849.0,1006.4 851.7,1005.2 854.2,1004.1 856.6,1003.0 858.9,1001.9 861.0,1001.0 863.1,1000.0 865.1,999.1 867.0,998.3 868.9,997.6 870.7,997.0 872.5,996.5 874.3,996.0 876.0,995.7 877.7,995.4 879.4,995.3 881.1,995.2 882.8,995.3 884.5,995.4 886.2,995.7 887.9,996.0 889.7,996.5 891.5,997.0 893.3,997.6 895.2,998.3 897.1,999.1 899.1,1000.0 901.2,1001.0 903.3,1001.9 905.6,1003.0 908.0,1004.1 910.5,1005.2 913.2,1006.4 916.1,1007.6 919.2,1008.8 922.5,1010.0 926.2,1011.2 930.3,1012.4 934.7,1013.6 939.7,1014.7 945.4,1015.8 951.9,1016.9 959.5,1017.9 968.4,1018.8 979.2,1019.7 992.4,1020.5 1009.2,1021.3 1031.2,1021.9 1061.6,1022.5 1106.2,1022.9 1162.8,1023.2 1162.8,1023.8Z" fill="#ff00ff" fill-opacity="0.6"/>
<line x1="82.5" y1="1023.8" x2="1162.8" y2="1023.8" stroke="#000" stroke-width="2.4"/>
<path d="M140.3,1094.0L140.3,1093.8 188.8,1093.6 220.3,1093.5 242.4,1093.2 258.8,1093.0 271.6,1092.7 281.8,1092.5 290.1,1092.1 297.2,1091.8 303.1,1091.4 308.3,1091.1 312.9,1090.7 316.9,1090.3 320.5,1089.8 323.8,1089.4 326.7,1089.0 329.5,1088.6 332.0,1088.1 334.3,1087.7 336.5,1087.3 338.5,1086.9 340.5,1086.5 342.3,1086.1 344.1,1085.7 345.8,1085.4 347.4,1085.1 349.0,1084.8 350.5,1084.5 351.9,1084.2 353.4,1084.0 354.8,1083.8 356.2,1083.7 357.6,1083.6 358.9,1083.5 360.3,1083.4 361.6,1083.4 362.9,1083.4 364.3,1083.5 365.6,1083.6 367.0,1083.7 368.4,1083.8 369.8,1084.0 371.3,1084.2 372.7,1084.5 374.2,1084.8 375.8,1085.1 377.4,1085.4 379.1,1085.7 380.9,1086.1 382.7,1086.5 384.7,1086.9 386.7,1087.3 388.9,1087.7 391.2,1088.1 393.7,1088.6 396.5,1089.0 399.4,1089.4 402.7,1089.8 406.3,1090.3 410.3,1090.7 414.9,1091.1 420.1,1091.4 426.0,1091.8 433.1,1092.1 441.4,1092.5 451.6,1092.7 464.4,1093.0 480.8,1093.2 502.9,1093.5 534.4,1093.6 582.9,1093.8 582.9,1094.0Z" fill="#008000" fill-opacity="0.6" stroke="#000" stroke-width="1.6"/>
<path d="M158.4,1094.0L158.4,1093.8 347.0,1093.4 433.2,1092.8 482.7,1092.1 515.0,1091.3 537.7,1090.3 554.6,1089.1 567.8,1087.8 578.3,1086.4 587.0,1084.8 594.3,1083.2 600.5,1081.5 605.9,1079.6 610.7,1077.8 614.9,1075.8 618.7,1073.8 622.1,1071.8 625.2,1069.8 628.1,1067.8 630.8,1065.8 633.3,1063.9 635.6,1062.0 637.8,1060.1 639.9,1058.4 641.9,1056.7 643.8,1055.1 645.6,1053.6 647.4,1052.3 649.1,1051.1 650.7,1050.0 652.4,1049.1 654.0,1048.4 655.5,1047.8 657.1,1047.3 658.7,1047.1 660.2,1047.0 661.7,1047.1 663.3,1047.3 664.9,1047.8 666.4,1048.4 668.0,1049.1 669.7,1050.0 671.3,1051.1 673.0,1052.3 674.8,1053.6 676.6,1055.1 678.5,1056.7 680.5,1058.4 682.6,1060.1 684.8,1062.0 687.1,1063.9 689.6,1065.8 692.3,1067.8 695.2,1069.8 698.3,1071.8 701.7,1073.8 705.5,1075.8 709.7,1077.8 714.5,1079.6 719.9,1081.5 726.1,1083.2 733.4,1084.8 742.1,1086.4 752.6,1087.8 765.8,1089.1 782.7,1090.3 805.4,1091.3 837.7,1092.1 887.2,1092.8 973.4,1093.4 1162.0,1093.8 1162.0,1094.0Z" fill="#0000ff" fill-opacity="0.6" stroke="#000" stroke-width="1.6"/>
<path d="M423.2,1094.0L423.2,1093.8 544.9,1093.5 608.4,1093.1 647.5,1092.6 674.0,1092.0 693.3,1091.4 708.0,1090.6 719.6,1089.8 729.0,1088.8 736.8,1087.8 743.4,1086.8 749.1,1085.7 754.1,1084.5 758.5,1083.3 762.4,1082.1 765.9,1080.9 769.1,1079.6 772.1,1078.4 774.8,1077.1 777.3,1075.9 779.7,1074.7 781.9,1073.5 784.0,1072.3 785.9,1071.2 787.8,1070.2 789.7,1069.2 791.4,1068.3 793.1,1067.5 794.7,1066.7 796.3,1066.1 797.9,1065.5 799.4,1065.0 800.9,1064.7 802.4,1064.4 803.9,1064.3 805.4,1064.2 806.9,1064.3 808.4,1064.4 809.9,1064.7 811.4,1065.0 812.9,1065.5 814.5,1066.1 816.1,1066.7 817.7,1067.5 819.4,1068.3 821.1,1069.2 823.0,1070.2 824.9,1071.2 826.8,1072.3 828.9,1073.5 831.1,1074.7 833.5,1075.9 836.0,1077.1 838.7,1078.4 841.7,1079.6 844.9,1080.9 848.4,1082.1 852.3,1083.3 856.7,1084.5 861.7,1085.7 867.4,1086.8 874.0,1087.8 881.8,1088.8 891.2,1089.8 902.8,1090.6 917.5,1091.4 936.8,1092.0 963.3,1092.6 1002.4,1093.1 1065.9,1093.5 1162.8,1093.7 1162.8,1094.0Z" fill="#ff7f00" fill-opacity="0.6" stroke="#000" stroke-width="1.6"/>
<path d="M438.7,1094.0L438.7,1093.8 577.9,1093.5 650.5,1093.1 695.1,1092.6 725.5,1092.1 747.5,1091.4 764.3,1090.7 777.5,1089.8 788.3,1088.9 797.2,1088.0 804.8,1086.9 811.3,1085.9 817.0,1084.7 822.0,1083.6 826.4,1082.4 830.5,1081.1 834.2,1079.9 837.5,1078.7 840.6,1077.5 843.5,1076.2 846.2,1075.0 848.7,1073.9 851.1,1072.8 853.4,1071.7 855.5,1070.7 857.6,1069.7 859.6,1068.8 861.5,1068.0 863.4,1067.3 865.2,1066.6 867.0,1066.1 868.8,1065.6 870.5,1065.3 872.2,1065.0 873.9,1064.9 875.6,1064.8 877.3,1064.9 879.0,1065.0 880.7,1065.3 882.4,1065.6 884.2,1066.1 886.0,1066.6 887.8,1067.3 889.7,1068.0 891.6,1068.8 893.6,1069.7 895.7,1070.7 897.8,1071.7 900.1,1072.8 902.5,1073.9 905.0,1075.0 907.7,1076.2 910.6,1077.5 913.7,1078.7 917.0,1079.9 920.7,1081.1 924.8,1082.4 929.2,1083.6 934.2,1084.7 939.9,1085.9 946.4,1086.9 954.0,1088.0 962.9,1088.9 973.7,1089.8 986.9,1090.7 1003.7,1091.4 1025.7,1092.1 1056.1,1092.6 1100.7,1093.1 1162.8,1093.4 1162.8,1094.0Z" fill="#ff00ff" fill-opacity="0.6" stroke="#000" stroke-width="1.6"/>
<path d="M140.3,1094.0L140.3,1093.8 188.8,1093.6 220.3,1093.5 242.4,1093.2 258.8,1093.0 271.6,1092.7 281.8,1092.5 290.1,1092.1 297.2,1091.8 303.1,1091.4 308.3,1091.1 312.9,1090.7 316.9,1090.3 320.5,1089.8 323.8,1089.4 326.7,1089.0 329.5,1088.6 332.0,1088.1 334.3,1087.7 336.5,1087.3 338.5,1086.9 340.5,1086.5 342.3,1086.1 344.1,1085.7 345.8,1085.4 347.4,1085.1 349.0,1084.8 350.5,1084.5 351.9,1084.2 353.4,1084.0 354.8,1083.8 356.2,1083.7 357.6,1083.6 358.9,1083.5 360.3,1083.4 361.6,1083.4 362.9,1083.4 364.3,1083.5 365.6,1083.6 367.0,1083.7 368.4,1083.8 369.8,1084.0 371.3,1084.2 372.7,1084.5 374.2,1084.8 375.8,1085.1 377.4,1085.4 379.1,1085.7 380.9,1086.1 382.7,1086.5 384.7,1086.9 386.7,1087.3 388.9,1087.7 391.2,1088.1 393.7,1088.6 396.5,1089.0 399.4,1089.4 402.7,1089.8 406.3,1090.3 410.3,1090.7 414.9,1091.1 420.1,1091.4 426.0,1091.8 433.1,1092.1 441.4,1092.5 451.6,1092.7 464.4,1093.0 480.8,1093.2 502.9,1093.5 534.4,1093.6 582.9,1093.8 582.9,1094.0Z" fill="#008000" fill-opacity="0.6"/>
<path d="M158.4,1094.0L158.4,1093.8 347.0,1093.4 433.2,1092.8 482.7,1092.1 515.0,1091.3 537.7,1090.3 554.6,1089.1 567.8,1087.8 578.3,1086.4 587.0,1084.8 594.3,1083.2 600.5,1081.5 605.9,1079.6 610.7,1077.8 614.9,1075.8 618.7,1073.8 622.1,1071.8 625.2,1069.8 628.1,1067.8 630.8,1065.8 633.3,1063.9 635.6,1062.0 637.8,1060.1 639.9,1058.4 641.9,1056.7 643.8,1055.1 645.6,1053.6 647.4,1052.3 649.1,1051.1 650.7,1050.0 652.4,1049.1 654.0,1048.4 655.5,1047.8 657.1,1047.3 658.7,1047.1 660.2,1047.0 661.7,1047.1 663.3,1047.3 664.9,1047.8 666.4,1048.4 668.0,1049.1 669.7,1050.0 671.3,1051.1 673.0,1052.3 674.8,1053.6 676.6,1055.1 678.5,1056.7 680.5,1058.4 682.6,1060.1 684.8,1062.0 687.1,1063.9 689.6,1065.8 692.3,1067.8 695.2,1069.8 698.3,1071.8 701.7,1073.8 705.5,1075.8 709.7,1077.8 714.5,1079.6 719.9,1081.5 726.1,1083.2 733.4,1084.8 742.1,1086.4 752.6,1087.8 765.8,1089.1 782.7,1090.3 805.4,1091.3 837.7,1092.1 887.2,1092.8 973.4,1093.4 1162.0,1093.8 1162.0,1094.0Z" fill="#0000ff" fill-opacity="0.6"/>
<path d="M423.2,1094.0L423.2,1093.8 544.9,1093.5 608.4,1093.1 647.5,1092.6 674.0,1092.0 693.3,1091.4 708.0,1090.6 719.6,1089.8 729.0,1088.8 736.8,1087.8 743.4,1086.8 749.1,1085.7 754.1,1084.5 758.5,1083.3 762.4,1082.1 765.9,1080.9 769.1,1079.6 772.1,1078.4 774.8,1077.1 777.3,1075.9 779.7,1074.7 781.9,1073.5 784.0,1072.3 785.9,1071.2 787.8,1070.2 789.7,1069.2 791.4,1068.3 793.1,1067.5 794.7,1066.7 796.3,1066.1 797.9,1065.5 799.4,1065.0 800.9,1064.7 802.4,1064.4 803.9,1064.3 805.4,1064.2 806.9,1064.3 808.4,1064.4 809.9,1064.7 811.4,1065.0 812.9,1065.5 814.5,1066.1 816.1,1066.7 817.7,1067.5 819.4,1068.3 821.1,1069.2 823.0,1070.2 824.9,1071.2 826.8,1072.3 828.9,1073.5 831.1,1074.7 833.5,1075.9 836.0,1077.1 838.7,1078.4 841.7,1079.6 844.9,1080.9 848.4,1082.1 852.3,1083.3 856.7,1084.5 861.7,1085.7 867.4,1086.8 874.0,1087.8 881.8,1088.8 891.2,1089.8 902.8,1090.6 917.5,1091.4 936.8,1092.0 963.3,1092.6 1002.4,1093.1 1065.9,1093.5 1162.8,1093.7 1162.8,1094.0Z" fill="#ff7f00" fill-opacity="0.6"/>
<path d="M438.7,1094.0L438.7,1093.8 577.9,1093.5 650.5,1093.1 695.1,1092.6 725.5,1092.1 747.5,1091.4 764.3,1090.7 777.5,1089.8 788.3,1088.9 797.2,1088.0 804.8,1086.9 811.3,1085.9 817.0,1084.7 822.0,1083.6 826.4,1082.4 830.5,1081.1 834.2,1079.9 837.5,1078.7 840.6,1077.5 843.5,1076.2 846.2,1075.0 848.7,1073.9 851.1,1072.8 853.4,1071.7 855.5,1070.7 857.6,1069.7 859.6,1068.8 861.5,1068.0 863.4,1067.3 865.2,1066.6 867.0,1066.1 868.8,1065.6 870.5,1065.3 872.2,1065.0 873.9,1064.9 875.6,1064.8 877.3,1064.9 879.0,1065.0 880.7,1065.3 882.4,1065.6 884.2,1066.1 886.0,1066.6 887.8,1067.3 889.7,1068.0 891.6,1068.8 893.6,1069.7 895.7,1070.7 897.8,1071.7 900.1,1072.8 902.5,1073.9 905.0,1075.0 907.7,1076.2 910.6,1077.5 913.7,1078.7 917.0,1079.9 920.7,1081.1 924.8,1082.4 929.2,1083.6 934.2,1084.7 939.9,1085.9 946.4,1086.9 954.0,1088.0 962.9,1088.9 973.7,1089.8 986.9,1090.7 1003.7,1091.4 1025.7,1092.1 1056.1,1092.6 1100.7,1093.1 1162.8,1093.4 1162.8,1094.0Z" fill="#ff00ff" fill-opacity="0.6"/>
<line x1="82.5" y1="1094.0" x2="1162.8" y2="1094.0" stroke="#000" stroke-width="2.4"/>
<path d="M146.1,1164.0L146.1,1163.8 190.4,1163.6 219.7,1163.4 240.6,1163.2 256.2,1163.0 268.5,1162.7 278.3,1162.5 286.4,1162.1 293.2,1161.8 299.1,1161.5 304.1,1161.1 308.6,1160.7 312.5,1160.3 316.1,1159.9 319.3,1159.5 322.2,1159.1 324.9,1158.7 327.4,1158.3 329.7,1157.8 331.9,1157.4 333.9,1157.0 335.8,1156.7 337.7,1156.3 339.4,1155.9 341.1,1155.6 342.7,1155.3 344.2,1155.0 345.7,1154.7 347.2,1154.5 348.6,1154.3 350.0,1154.1 351.4,1154.0 352.8,1153.9 354.1,1153.8 355.5,1153.7 356.8,1153.7 358.1,1153.7 359.5,1153.8 360.8,1153.9 362.2,1154.0 363.6,1154.1 365.0,1154.3 366.4,1154.5 367.9,1154.7 369.4,1155.0 370.9,1155.3 372.5,1155.6 374.2,1155.9 375.9,1156.3 377.8,1156.7 379.7,1157.0 381.7,1157.4 383.9,1157.8 386.2,1158.3 388.7,1158.7 391.4,1159.1 394.3,1159.5 397.5,1159.9 401.1,1160.3 405.0,1160.7 409.5,1161.1 414.5,1161.5 420.4,1161.8 427.2,1162.1 435.3,1162.5 445.1,1162.7 457.4,1163.0 473.0,1163.2 493.9,1163.4 523.2,1163.6 567.5,1163.8 567.5,1164.0Z" fill="#008000" fill-opacity="0.6" stroke="#000" stroke-width="1.6"/>
<path d="M291.3,1164.0L291.3,1163.8 406.5,1163.5 468.0,1163.2 506.4,1162.7 532.7,1162.2 552.0,1161.6 566.7,1160.9 578.3,1160.2 587.8,1159.4 595.7,1158.5 602.4,1157.5 608.2,1156.6 613.3,1155.5 617.7,1154.5 621.7,1153.4 625.3,1152.3 628.6,1151.2 631.6,1150.1 634.4,1149.0 636.9,1147.9 639.3,1146.8 641.6,1145.8 643.7,1144.8 645.8,1143.8 647.7,1142.9 649.6,1142.0 651.4,1141.2 653.1,1140.5 654.8,1139.8 656.4,1139.3 658.0,1138.8 659.6,1138.3 661.1,1138.0 662.7,1137.8 664.2,1137.6 665.7,1137.6 667.2,1137.6 668.7,1137.8 670.3,1138.0 671.8,1138.3 673.4,1138.8 675.0,1139.3 676.6,1139.8 678.3,1140.5 680.0,1141.2 681.8,1142.0 683.7,1142.9 685.6,1143.8 687.7,1144.8 689.8,1145.8 692.1,1146.8 694.5,1147.9 697.0,1149.0 699.8,1150.1 702.8,1151.2 706.1,1152.3 709.7,1153.4 713.7,1154.5 718.1,1155.5 723.2,1156.6 729.0,1157.5 735.7,1158.5 743.6,1159.4 753.1,1160.2 764.7,1160.9 779.4,1161.6 798.7,1162.2 825.0,1162.7 863.4,1163.2 924.9,1163.5 1040.1,1163.8 1040.1,1164.0Z" fill="#0000ff" fill-opacity="0.6" stroke="#000" stroke-width="1.6"/>
<path d="M418.8,1164.0L418.8,1163.8 540.5,1163.5 604.0,1163.1 643.1,1162.6 669.6,1162.0 688.9,1161.4 703.6,1160.6 715.2,1159.8 724.6,1158.8 732.4,1157.8 739.0,1156.8 744.7,1155.7 749.7,1154.5 754.1,1153.3 758.0,1152.1 761.5,1150.9 764.7,1149.6 767.7,1148.4 770.4,1147.1 772.9,1145.9 775.3,1144.7 777.5,1143.5 779.6,1142.3 781.5,1141.2 783.4,1140.2 785.3,1139.2 787.0,1138.3 788.7,1137.5 790.3,1136.7 791.9,1136.1 793.5,1135.5 795.0,1135.0 796.5,1134.7 798.0,1134.4 799.5,1134.3 801.0,1134.2 802.5,1134.3 804.0,1134.4 805.5,1134.7 807.0,1135.0 808.5,1135.5 810.1,1136.1 811.7,1136.7 813.3,1137.5 815.0,1138.3 816.7,1139.2 818.6,1140.2 820.5,1141.2 822.4,1142.3 824.5,1143.5 826.7,1144.7 829.1,1145.9 831.6,1147.1 834.3,1148.4 837.3,1149.6 840.5,1150.9 844.0,1152.1 847.9,1153.3 852.3,1154.5 857.3,1155.7 863.0,1156.8 869.6,1157.8 877.4,1158.8 886.8,1159.8 898.4,1160.6 913.1,1161.4 932.4,1162.0 958.9,1162.6 998.0,1163.1 1061.5,1163.5 1162.8,1163.7 1162.8,1164.0Z" fill="#ff7f00" fill-opacity="0.6" stroke="#000" stroke-width="1.6"/>
<path d="M433.1,1164.0L433.1,1163.8 572.3,1163.5 644.9,1163.1 689.5,1162.6 719.9,1162.1 741.9,1161.4 758.7,1160.7 771.9,1159.8 782.7,1158.9 791.6,1158.0 799.2,1156.9 805.7,1155.9 811.4,1154.7 816.4,1153.6 820.8,1152.4 824.9,1151.1 828.6,1149.9 831.9,1148.7 835.0,1147.5 837.9,1146.2 840.6,1145.0 843.1,1143.9 845.5,1142.8 847.8,1141.7 849.9,1140.7 852.0,1139.7 854.0,1138.8 855.9,1138.0 857.8,1137.3 859.6,1136.6 861.4,1136.1 863.2,1135.6 864.9,1135.3 866.6,1135.0 868.3,1134.9 870.0,1134.8 871.7,1134.9 873.4,1135.0 875.1,1135.3 876.8,1135.6 878.6,1136.1 880.4,1136.6 882.2,1137.3 884.1,1138.0 886.0,1138.8 888.0,1139.7 890.1,1140.7 892.2,1141.7 894.5,1142.8 896.9,1143.9 899.4,1145.0 902.1,1146.2 905.0,1147.5 908.1,1148.7 911.4,1149.9 915.1,1151.1 919.2,1152.4 923.6,1153.6 928.6,1154.7 934.3,1155.9 940.8,1156.9 948.4,1158.0 957.3,1158.9 968.1,1159.8 981.3,1160.7 998.1,1161.4 1020.1,1162.1 1050.5,1162.6 1095.1,1163.1 1162.8,1163.5 1162.8,1164.0Z" fill="#ff00ff" fill-opacity="0.6" stroke="#000" stroke-width="1.6"/>
<path d="M146.1,1164.0L146.1,1163.8 190.4,1163.6 219.7,1163.4 240.6,1163.2 256.2,1163.0 268.5,1162.7 278.3,1162.5 286.4,1162.1 293.2,1161.8 299.1,1161.5 304.1,1161.1 308.6,1160.7 312.5,1160.3 316.1,1159.9 319.3,1159.5 322.2,1159.1 324.9,1158.7 327.4,1158.3 329.7,1157.8 331.9,1157.4 333.9,1157.0 335.8,1156.7 337.7,1156.3 339.4,1155.9 341.1,1155.6 342.7,1155.3 344.2,1155.0 345.7,1154.7 347.2,1154.5 348.6,1154.3 350.0,1154.1 351.4,1154.0 352.8,1153.9 354.1,1153.8 355.5,1153.7 356.8,1153.7 358.1,1153.7 359.5,1153.8 360.8,1153.9 362.2,1154.0 363.6,1154.1 365.0,1154.3 366.4,1154.5 367.9,1154.7 369.4,1155.0 370.9,1155.3 372.5,1155.6 374.2,1155.9 375.9,1156.3 377.8,1156.7 379.7,1157.0 381.7,1157.4 383.9,1157.8 386.2,1158.3 388.7,1158.7 391.4,1159.1 394.3,1159.5 397.5,1159.9 401.1,1160.3 405.0,1160.7 409.5,1161.1 414.5,1161.5 420.4,1161.8 427.2,1162.1 435.3,1162.5 445.1,1162.7 457.4,1163.0 473.0,1163.2 493.9,1163.4 523.2,1163.6 567.5,1163.8 567.5,1164.0Z" fill="#008000" fill-opacity="0.6"/>
<path d="M291.3,1164.0L291.3,1163.8 406.5,1163.5 468.0,1163.2 506.4,1162.7 532.7,1162.2 552.0,1161.6 566.7,1160.9 578.3,1160.2 587.8,1159.4 595.7,1158.5 602.4,1157.5 608.2,1156.6 613.3,1155.5 617.7,1154.5 621.7,1153.4 625.3,1152.3 628.6,1151.2 631.6,1150.1 634.4,1149.0 636.9,1147.9 639.3,1146.8 641.6,1145.8 643.7,1144.8 645.8,1143.8 647.7,1142.9 649.6,1142.0 651.4,1141.2 653.1,1140.5 654.8,1139.8 656.4,1139.3 658.0,1138.8 659.6,1138.3 661.1,1138.0 662.7,1137.8 664.2,1137.6 665.7,1137.6 667.2,1137.6 668.7,1137.8 670.3,1138.0 671.8,1138.3 673.4,1138.8 675.0,1139.3 676.6,1139.8 678.3,1140.5 680.0,1141.2 681.8,1142.0 683.7,1142.9 685.6,1143.8 687.7,1144.8 689.8,1145.8 692.1,1146.8 694.5,1147.9 697.0,1149.0 699.8,1150.1 702.8,1151.2 706.1,1152.3 709.7,1153.4 713.7,1154.5 718.1,1155.5 723.2,1156.6 729.0,1157.5 735.7,1158.5 743.6,1159.4 753.1,1160.2 764.7,1160.9 779.4,1161.6 798.7,1162.2 825.0,1162.7 863.4,1163.2 924.9,1163.5 1040.1,1163.8 1040.1,1164.0Z" fill="#0000ff" fill-opacity="0.6"/>
<path d="M433.1,1164.0L433.1,1163.8 572.3,1163.5 644.9,1163.1 689.5,1162.6 719.9,1162.1 741.9,1161.4 758.7,1160.7 771.9,1159.8 782.7,1158.9 791.6,1158.0 799.2,1156.9 805.7,1155.9 811.4,1154.7 816.4,1153.6 820.8,1152.4 824.9,1151.1 828.6,1149.9 831.9,1148.7 835.0,1147.5 837.9,1146.2 840.6,1145.0 843.1,1143.9 845.5,1142.8 847.8,1141.7 849.9,1140.7 852.0,1139.7 854.0,1138.8 855.9,1138.0 857.8,1137.3 859.6,1136.6 861.4,1136.1 863.2,1135.6 864.9,1135.3 866.6,1135.0 868.3,1134.9 870.0,1134.8 871.7,1134.9 873.4,1135.0 875.1,1135.3 876.8,1135.6 878.6,1136.1 880.4,1136.6 882.2,1137.3 884.1,1138.0 886.0,1138.8 888.0,1139.7 890.1,1140.7 892.2,1141.7 894.5,1142.8 896.9,1143.9 899.4,1145.0 902.1,1146.2 905.0,1147.5 908.1,1148.7 911.4,1149.9 915.1,1151.1 919.2,1152.4 923.6,1153.6 928.6,1154.7 934.3,1155.9 940.8,1156.9 948.4,1158.0 957.3,1158.9 968.1,1159.8 981.3,1160.7 998.1,1161.4 1020.1,1162.1 1050.5,1162.6 1095.1,1163.1 1162.8,1163.5 1162.8,1164.0Z" fill="#ff00ff" fill-opacity="0.6"/>
<line x1="82.5" y1="1164.0" x2="1162.8" y2="1164.0" stroke="#000" stroke-width="2.4"/>
<path d="M143.5,1234.1L143.5,1233.9 187.8,1233.7 217.1,1233.6 238.0,1233.4 253.6,1233.1 265.9,1232.9 275.7,1232.6 283.8,1232.3 290.6,1232.0 296.5,1231.6 301.5,1231.3 306.0,1230.9 309.9,1230.5 313.5,1230.1 316.7,1229.7 319.6,1229.3 322.3,1228.9 324.8,1228.5 327.1,1228.1 329.3,1227.7 331.3,1227.4 333.2,1227.0 335.1,1226.6 336.8,1226.3 338.5,1226.0 340.1,1225.6 341.6,1225.4 343.1,1225.1 344.6,1224.9 346.0,1224.7 347.4,1224.5 348.8,1224.4 350.2,1224.2 351.5,1224.2 352.9,1224.1 354.2,1224.1 355.5,1224.1 356.9,1224.2 358.2,1224.2 359.6,1224.4 361.0,1224.5 362.4,1224.7 363.8,1224.9 365.3,1225.1 366.8,1225.4 368.3,1225.6 369.9,1226.0 371.6,1226.3 373.3,1226.6 375.2,1227.0 377.1,1227.4 379.1,1227.7 381.3,1228.1 383.6,1228.5 386.1,1228.9 388.8,1229.3 391.7,1229.7 394.9,1230.1 398.5,1230.5 402.4,1230.9 406.9,1231.3 411.9,1231.6 417.8,1232.0 424.6,1232.3 432.7,1232.6 442.5,1232.9 454.8,1233.1 470.4,1233.4 491.3,1233.6 520.6,1233.7 564.9,1233.9 564.9,1234.1Z" fill="#008000" fill-opacity="0.6" stroke="#000" stroke-width="1.6"/>
<path d="M414.6,1234.1L414.6,1233.9 472.3,1233.7 509.1,1233.5 534.6,1233.3 553.4,1233.1 567.9,1232.8 579.5,1232.5 588.9,1232.1 596.8,1231.8 603.4,1231.4 609.2,1231.0 614.3,1230.5 618.8,1230.1 622.8,1229.6 626.4,1229.2 629.7,1228.7 632.7,1228.2 635.4,1227.8 638.0,1227.3 640.4,1226.9 642.7,1226.4 644.8,1226.0 646.9,1225.5 648.8,1225.1 650.6,1224.8 652.4,1224.4 654.1,1224.1 655.8,1223.8 657.4,1223.5 659.0,1223.3 660.5,1223.1 662.1,1222.9 663.6,1222.8 665.1,1222.7 666.5,1222.6 668.0,1222.6 669.5,1222.6 670.9,1222.7 672.4,1222.8 673.9,1222.9 675.5,1223.1 677.0,1223.3 678.6,1223.5 680.2,1223.8 681.9,1224.1 683.6,1224.4 685.4,1224.8 687.2,1225.1 689.1,1225.5 691.2,1226.0 693.3,1226.4 695.6,1226.9 698.0,1227.3 700.6,1227.8 703.3,1228.2 706.3,1228.7 709.6,1229.2 713.2,1229.6 717.2,1230.1 721.7,1230.5 726.8,1231.0 732.6,1231.4 739.2,1231.8 747.1,1232.1 756.5,1232.5 768.1,1232.8 782.6,1233.1 801.4,1233.3 826.9,1233.5 863.7,1233.7 921.4,1233.9 921.4,1234.1Z" fill="#0000ff" fill-opacity="0.6" stroke="#000" stroke-width="1.6"/>
<path d="M398.6,1234.1L398.6,1233.9 531.0,1233.6 598.3,1233.2 639.1,1232.7 666.6,1232.1 686.4,1231.5 701.5,1230.7 713.3,1229.9 722.9,1228.9 730.8,1227.9 737.6,1226.9 743.3,1225.7 748.4,1224.6 752.8,1223.3 756.8,1222.1 760.3,1220.8 763.6,1219.6 766.5,1218.3 769.3,1217.0 771.8,1215.7 774.2,1214.5 776.4,1213.3 778.5,1212.1 780.5,1211.0 782.4,1209.9 784.2,1208.9 786.0,1208.0 787.7,1207.2 789.3,1206.4 790.9,1205.7 792.5,1205.1 794.0,1204.7 795.5,1204.3 797.0,1204.0 798.5,1203.9 800.0,1203.8 801.5,1203.9 803.0,1204.0 804.5,1204.3 806.0,1204.7 807.5,1205.1 809.1,1205.7 810.7,1206.4 812.3,1207.2 814.0,1208.0 815.8,1208.9 817.6,1209.9 819.5,1211.0 821.5,1212.1 823.6,1213.3 825.8,1214.5 828.2,1215.7 830.7,1217.0 833.5,1218.3 836.4,1219.6 839.7,1220.8 843.2,1222.1 847.2,1223.3 851.6,1224.6 856.7,1225.7 862.4,1226.9 869.2,1227.9 877.1,1228.9 886.7,1229.9 898.5,1230.7 913.6,1231.5 933.4,1232.1 960.9,1232.7 1001.7,1233.2 1069.0,1233.6 1162.8,1233.8 1162.8,1234.1Z" fill="#ff7f00" fill-opacity="0.6" stroke="#000" stroke-width="1.6"/>
<path d="M410.3,1234.1L410.3,1233.9 561.6,1233.6 638.4,1233.2 685.1,1232.7 716.5,1232.1 739.2,1231.5 756.4,1230.7 769.9,1229.9 780.9,1228.9 790.0,1227.9 797.6,1226.9 804.2,1225.7 810.0,1224.6 815.1,1223.3 819.6,1222.1 823.7,1220.8 827.4,1219.6 830.7,1218.3 833.9,1217.0 836.8,1215.7 839.5,1214.5 842.0,1213.3 844.4,1212.1 846.7,1211.0 848.9,1209.9 850.9,1208.9 853.0,1208.0 854.9,1207.2 856.8,1206.4 858.6,1205.7 860.4,1205.1 862.2,1204.7 863.9,1204.3 865.6,1204.0 867.3,1203.9 869.0,1203.8 870.7,1203.9 872.4,1204.0 874.1,1204.3 875.8,1204.7 877.6,1205.1 879.4,1205.7 881.2,1206.4 883.1,1207.2 885.0,1208.0 887.1,1208.9 889.1,1209.9 891.3,1211.0 893.6,1212.1 896.0,1213.3 898.5,1214.5 901.2,1215.7 904.1,1217.0 907.3,1218.3 910.6,1219.6 914.3,1220.8 918.4,1222.1 922.9,1223.3 928.0,1224.6 933.8,1225.7 940.4,1226.9 948.0,1227.9 957.1,1228.9 968.1,1229.9 981.6,1230.7 998.8,1231.5 1021.5,1232.1 1052.9,1232.7 1099.6,1233.2 1162.8,1233.5 1162.8,1234.1Z" fill="#ff00ff" fill-opacity="0.6" stroke="#000" stroke-width="1.6"/>
<path d="M143.5,1234.1L143.5,1233.9 187.8,1233.7 217.1,1233.6 238.0,1233.4 253.6,1233.1 265.9,1232.9 275.7,1232.6 283.8,1232.3 290.6,1232.0 296.5,1231.6 301.5,1231.3 306.0,1230.9 309.9,1230.5 313.5,1230.1 316.7,1229.7 319.6,1229.3 322.3,1228.9 324.8,1228.5 327.1,1228.1 329.3,1227.7 331.3,1227.4 333.2,1227.0 335.1,1226.6 336.8,1226.3 338.5,1226.0 340.1,1225.6 341.6,1225.4 343.1,1225.1 344.6,1224.9 346.0,1224.7 347.4,1224.5 348.8,1224.4 350.2,1224.2 351.5,1224.2 352.9,1224.1 354.2,1224.1 355.5,1224.1 356.9,1224.2 358.2,1224.2 359.6,1224.4 361.0,1224.5 362.4,1224.7 363.8,1224.9 365.3,1225.1 366.8,1225.4 368.3,1225.6 369.9,1226.0 371.6,1226.3 373.3,1226.6 375.2,1227.0 377.1,1227.4 379.1,1227.7 381.3,1228.1 383.6,1228.5 386.1,1228.9 388.8,1229.3 391.7,1229.7 394.9,1230.1 398.5,1230.5 402.4,1230.9 406.9,1231.3 411.9,1231.6 417.8,1232.0 424.6,1232.3 432.7,1232.6 442.5,1232.9 454.8,1233.1 470.4,1233.4 491.3,1233.6 520.6,1233.7 564.9,1233.9 564.9,1234.1Z" fill="#008000" fill-opacity="0.6"/>
<path d="M414.6,1234.1L414.6,1233.9 472.3,1233.7 509.1,1233.5 534.6,1233.3 553.4,1233.1 567.9,1232.8 579.5,1232.5 588.9,1232.1 596.8,1231.8 603.4,1231.4 609.2,1231.0 614.3,1230.5 618.8,1230.1 622.8,1229.6 626.4,1229.2 629.7,1228.7 632.7,1228.2 635.4,1227.8 638.0,1227.3 640.4,1226.9 642.7,1226.4 644.8,1226.0 646.9,1225.5 648.8,1225.1 650.6,1224.8 652.4,1224.4 654.1,1224.1 655.8,1223.8 657.4,1223.5 659.0,1223.3 660.5,1223.1 662.1,1222.9 663.6,1222.8 665.1,1222.7 666.5,1222.6 668.0,1222.6 669.5,1222.6 670.9,1222.7 672.4,1222.8 673.9,1222.9 675.5,1223.1 677.0,1223.3 678.6,1223.5 680.2,1223.8 681.9,1224.1 683.6,1224.4 685.4,1224.8 687.2,1225.1 689.1,1225.5 691.2,1226.0 693.3,1226.4 695.6,1226.9 698.0,1227.3 700.6,1227.8 703.3,1228.2 706.3,1228.7 709.6,1229.2 713.2,1229.6 717.2,1230.1 721.7,1230.5 726.8,1231.0 732.6,1231.4 739.2,1231.8 747.1,1232.1 756.5,1232.5 768.1,1232.8 782.6,1233.1 801.4,1233.3 826.9,1233.5 863.7,1233.7 921.4,1233.9 921.4,1234.1Z" fill="#0000ff" fill-opacity="0.6"/>
<path d="M398.6,1234.1L398.6,1233.9 531.0,1233.6 598.3,1233.2 639.1,1232.7 666.6,1232.1 686.4,1231.5 701.5,1230.7 713.3,1229.9 722.9,1228.9 730.8,1227.9 737.6,1226.9 743.3,1225.7 748.4,1224.6 752.8,1223.3 756.8,1222.1 760.3,1220.8 763.6,1219.6 766.5,1218.3 769.3,1217.0 771.8,1215.7 774.2,1214.5 776.4,1213.3 778.5,1212.1 780.5,1211.0 782.4,1209.9 784.2,1208.9 786.0,1208.0 787.7,1207.2 789.3,1206.4 790.9,1205.7 792.5,1205.1 794.0,1204.7 795.5,1204.3 797.0,1204.0 798.5,1203.9 800.0,1203.8 801.5,1203.9 803.0,1204.0 804.5,1204.3 806.0,1204.7 807.5,1205.1 809.1,1205.7 810.7,1206.4 812.3,1207.2 814.0,1208.0 815.8,1208.9 817.6,1209.9 819.5,1211.0 821.5,1212.1 823.6,1213.3 825.8,1214.5 828.2,1215.7 830.7,1217.0 833.5,1218.3 836.4,1219.6 839.7,1220.8 843.2,1222.1 847.2,1223.3 851.6,1224.6 856.7,1225.7 862.4,1226.9 869.2,1227.9 877.1,1228.9 886.7,1229.9 898.5,1230.7 913.6,1231.5 933.4,1232.1 960.9,1232.7 1001.7,1233.2 1069.0,1233.6 1162.8,1233.8 1162.8,1234.1Z" fill="#ff7f00" fill-opacity="0.6"/>
<path d="M410.3,1234.1L410.3,1233.9 561.6,1233.6 638.4,1233.2 685.1,1232.7 716.5,1232.1 739.2,1231.5 756.4,1230.7 769.9,1229.9 780.9,1228.9 790.0,1227.9 797.6,1226.9 804.2,1225.7 810.0,1224.6 815.1,1223.3 819.6,1222.1 823.7,1220.8 827.4,1219.6 830.7,1218.3 833.9,1217.0 836.8,1215.7 839.5,1214.5 842.0,1213.3 844.4,1212.1 846.7,1211.0 848.9,1209.9 850.9,1208.9 853.0,1208.0 854.9,1207.2 856.8,1206.4 858.6,1205.7 860.4,1205.1 862.2,1204.7 863.9,1204.3 865.6,1204.0 867.3,1203.9 869.0,1203.8 870.7,1203.9 872.4,1204.0 874.1,1204.3 875.8,1204.7 877.6,1205.1 879.4,1205.7 881.2,1206.4 883.1,1207.2 885.0,1208.0 887.1,1208.9 889.1,1209.9 891.3,1211.0 893.6,1212.1 896.0,1213.3 898.5,1214.5 901.2,1215.7 904.1,1217.0 907.3,1218.3 910.6,1219.6 914.3,1220.8 918.4,1222.1 922.9,1223.3 928.0,1224.6 933.8,1225.7 940.4,1226.9 948.0,1227.9 957.1,1228.9 968.1,1229.9 981.6,1230.7 998.8,1231.5 1021.5,1232.1 1052.9,1232.7 1099.6,1233.2 1162.8,1233.5 1162.8,1234.1Z" fill="#ff00ff" fill-opacity="0.6"/>
<line x1="82.5" y1="1234.1" x2="1162.8" y2="1234.1" stroke="#000" stroke-width="2.4"/>
<path d="M142.1,1304.4L142.1,1304.2 186.4,1304.0 215.7,1303.9 236.6,1303.7 252.2,1303.4 264.5,1303.2 274.3,1302.9 282.4,1302.6 289.2,1302.3 295.1,1302.0 300.1,1301.6 304.6,1301.2 308.5,1300.9 312.1,1300.5 315.3,1300.1 318.2,1299.7 320.9,1299.3 323.4,1298.9 325.7,1298.5 327.9,1298.1 329.9,1297.7 331.8,1297.3 333.7,1297.0 335.4,1296.7 337.1,1296.3 338.7,1296.0 340.2,1295.8 341.7,1295.5 343.2,1295.3 344.6,1295.1 346.0,1294.9 347.4,1294.8 348.8,1294.6 350.1,1294.6 351.5,1294.5 352.8,1294.5 354.1,1294.5 355.5,1294.6 356.8,1294.6 358.2,1294.8 359.6,1294.9 361.0,1295.1 362.4,1295.3 363.9,1295.5 365.4,1295.8 366.9,1296.0 368.5,1296.3 370.2,1296.7 371.9,1297.0 373.8,1297.3 375.7,1297.7 377.7,1298.1 379.9,1298.5 382.2,1298.9 384.7,1299.3 387.4,1299.7 390.3,1300.1 393.5,1300.5 397.1,1300.9 401.0,1301.2 405.5,1301.6 410.5,1302.0 416.4,1302.3 423.2,1302.6 431.3,1302.9 441.1,1303.2 453.4,1303.4 469.0,1303.7 489.9,1303.9 519.2,1304.0 563.5,1304.2 563.5,1304.4Z" fill="#008000" fill-opacity="0.6" stroke="#000" stroke-width="1.6"/>
<path d="M605.3,1304.4L605.3,1304.2 609.7,1304.1 613.7,1304.1 617.3,1304.1 620.6,1304.1 623.6,1304.0 626.4,1304.0 629.0,1304.0 631.4,1303.9 633.7,1303.9 635.8,1303.9 637.9,1303.8 639.8,1303.8 641.6,1303.8 643.3,1303.8 645.0,1303.7 646.6,1303.7 648.1,1303.7 649.6,1303.6 651.0,1303.6 652.4,1303.6 653.7,1303.6 655.0,1303.5 656.3,1303.5 657.5,1303.5 658.7,1303.5 659.9,1303.5 661.1,1303.5 662.2,1303.4 663.4,1303.4 664.5,1303.4 665.6,1303.4 666.7,1303.4 667.8,1303.4 668.9,1303.4 670.0,1303.4 671.1,1303.4 672.2,1303.4 673.3,1303.4 674.4,1303.4 675.5,1303.4 676.6,1303.4 677.8,1303.4 678.9,1303.5 680.1,1303.5 681.3,1303.5 682.5,1303.5 683.7,1303.5 685.0,1303.5 686.3,1303.6 687.6,1303.6 689.0,1303.6 690.4,1303.6 691.9,1303.7 693.4,1303.7 695.0,1303.7 696.7,1303.8 698.4,1303.8 700.2,1303.8 702.1,1303.8 704.2,1303.9 706.3,1303.9 708.6,1303.9 711.0,1304.0 713.6,1304.0 716.4,1304.0 719.4,1304.1 722.7,1304.1 726.3,1304.1 730.3,1304.1 734.7,1304.2 734.7,1304.4Z" fill="#0000ff" fill-opacity="0.6" stroke="#000" stroke-width="1.6"/>
<path d="M414.4,1304.4L414.4,1304.2 536.1,1303.9 599.6,1303.5 638.7,1303.0 665.2,1302.4 684.5,1301.8 699.2,1301.0 710.8,1300.2 720.2,1299.3 728.0,1298.3 734.6,1297.2 740.3,1296.1 745.3,1295.0 749.7,1293.8 753.6,1292.6 757.1,1291.4 760.3,1290.1 763.3,1288.9 766.0,1287.6 768.5,1286.4 770.9,1285.2 773.1,1284.0 775.2,1282.9 777.1,1281.8 779.0,1280.8 780.9,1279.8 782.6,1278.9 784.3,1278.1 785.9,1277.3 787.5,1276.7 789.1,1276.1 790.6,1275.6 792.1,1275.3 793.6,1275.0 795.1,1274.9 796.6,1274.8 798.1,1274.9 799.6,1275.0 801.1,1275.3 802.6,1275.6 804.1,1276.1 805.7,1276.7 807.3,1277.3 808.9,1278.1 810.6,1278.9 812.3,1279.8 814.2,1280.8 816.1,1281.8 818.0,1282.9 820.1,1284.0 822.3,1285.2 824.7,1286.4 827.2,1287.6 829.9,1288.9 832.9,1290.1 836.1,1291.4 839.6,1292.6 843.5,1293.8 847.9,1295.0 852.9,1296.1 858.6,1297.2 865.2,1298.3 873.0,1299.3 882.4,1300.2 894.0,1301.0 908.7,1301.8 928.0,1302.4 954.5,1303.0 993.6,1303.5 1057.1,1303.9 1162.8,1304.1 1162.8,1304.4Z" fill="#ff7f00" fill-opacity="0.6" stroke="#000" stroke-width="1.6"/>
<path d="M429.3,1304.4L429.3,1304.2 568.5,1303.9 641.1,1303.5 685.7,1303.0 716.1,1302.4 738.1,1301.8 754.9,1301.0 768.1,1300.2 778.9,1299.3 787.8,1298.3 795.4,1297.2 801.9,1296.1 807.6,1295.0 812.6,1293.8 817.0,1292.6 821.1,1291.4 824.8,1290.1 828.1,1288.9 831.2,1287.6 834.1,1286.4 836.8,1285.2 839.3,1284.0 841.7,1282.9 844.0,1281.8 846.1,1280.8 848.2,1279.8 850.2,1278.9 852.1,1278.1 854.0,1277.3 855.8,1276.7 857.6,1276.1 859.4,1275.6 861.1,1275.3 862.8,1275.0 864.5,1274.9 866.2,1274.8 867.9,1274.9 869.6,1275.0 871.3,1275.3 873.0,1275.6 874.8,1276.1 876.6,1276.7 878.4,1277.3 880.3,1278.1 882.2,1278.9 884.2,1279.8 886.3,1280.8 888.4,1281.8 890.7,1282.9 893.1,1284.0 895.6,1285.2 898.3,1286.4 901.2,1287.6 904.3,1288.9 907.6,1290.1 911.3,1291.4 915.4,1292.6 919.8,1293.8 924.8,1295.0 930.5,1296.1 937.0,1297.2 944.6,1298.3 953.5,1299.3 964.3,1300.2 977.5,1301.0 994.3,1301.8 1016.3,1302.4 1046.7,1303.0 1091.3,1303.5 1162.8,1303.9 1162.8,1304.4Z" fill="#ff00ff" fill-opacity="0.6" stroke="#000" stroke-width="1.6"/>
<path d="M142.1,1304.4L142.1,1304.2 186.4,1304.0 215.7,1303.9 236.6,1303.7 252.2,1303.4 264.5,1303.2 274.3,1302.9 282.4,1302.6 289.2,1302.3 295.1,1302.0 300.1,1301.6 304.6,1301.2 308.5,1300.9 312.1,1300.5 315.3,1300.1 318.2,1299.7 320.9,1299.3 323.4,1298.9 325.7,1298.5 327.9,1298.1 329.9,1297.7 331.8,1297.3 333.7,1297.0 335.4,1296.7 337.1,1296.3 338.7,1296.0 340.2,1295.8 341.7,1295.5 343.2,1295.3 344.6,1295.1 346.0,1294.9 347.4,1294.8 348.8,1294.6 350.1,1294.6 351.5,1294.5 352.8,1294.5 354.1,1294.5 355.5,1294.6 356.8,1294.6 358.2,1294.8 359.6,1294.9 361.0,1295.1 362.4,1295.3 363.9,1295.5 365.4,1295.8 366.9,1296.0 368.5,1296.3 370.2,1296.7 371.9,1297.0 373.8,1297.3 375.7,1297.7 377.7,1298.1 379.9,1298.5 382.2,1298.9 384.7,1299.3 387.4,1299.7 390.3,1300.1 393.5,1300.5 397.1,1300.9 401.0,1301.2 405.5,1301.6 410.5,1302.0 416.4,1302.3 423.2,1302.6 431.3,1302.9 441.1,1303.2 453.4,1303.4 469.0,1303.7 489.9,1303.9 519.2,1304.0 563.5,1304.2 563.5,1304.4Z" fill="#008000" fill-opacity="0.6"/>
<path d="M605.3,1304.4L605.3,1304.2 609.7,1304.1 613.7,1304.1 617.3,1304.1 620.6,1304.1 623.6,1304.0 626.4,1304.0 629.0,1304.0 631.4,1303.9 633.7,1303.9 635.8,1303.9 637.9,1303.8 639.8,1303.8 641.6,1303.8 643.3,1303.8 645.0,1303.7 646.6,1303.7 648.1,1303.7 649.6,1303.6 651.0,1303.6 652.4,1303.6 653.7,1303.6 655.0,1303.5 656.3,1303.5 657.5,1303.5 658.7,1303.5 659.9,1303.5 661.1,1303.5 662.2,1303.4 663.4,1303.4 664.5,1303.4 665.6,1303.4 666.7,1303.4 667.8,1303.4 668.9,1303.4 670.0,1303.4 671.1,1303.4 672.2,1303.4 673.3,1303.4 674.4,1303.4 675.5,1303.4 676.6,1303.4 677.8,1303.4 678.9,1303.5 680.1,1303.5 681.3,1303.5 682.5,1303.5 683.7,1303.5 685.0,1303.5 686.3,1303.6 687.6,1303.6 689.0,1303.6 690.4,1303.6 691.9,1303.7 693.4,1303.7 695.0,1303.7 696.7,1303.8 698.4,1303.8 700.2,1303.8 702.1,1303.8 704.2,1303.9 706.3,1303.9 708.6,1303.9 711.0,1304.0 713.6,1304.0 716.4,1304.0 719.4,1304.1 722.7,1304.1 726.3,1304.1 730.3,1304.1 734.7,1304.2 734.7,1304.4Z" fill="#0000ff" fill-opacity="0.6"/>
<path d="M414.4,1304.4L414.4,1304.2 536.1,1303.9 599.6,1303.5 638.7,1303.0 665.2,1302.4 684.5,1301.8 699.2,1301.0 710.8,1300.2 720.2,1299.3 728.0,1298.3 734.6,1297.2 740.3,1296.1 745.3,1295.0 749.7,1293.8 753.6,1292.6 757.1,1291.4 760.3,1290.1 763.3,1288.9 766.0,1287.6 768.5,1286.4 770.9,1285.2 773.1,1284.0 775.2,1282.9 777.1,1281.8 779.0,1280.8 780.9,1279.8 782.6,1278.9 784.3,1278.1 785.9,1277.3 787.5,1276.7 789.1,1276.1 790.6,1275.6 792.1,1275.3 793.6,1275.0 795.1,1274.9 796.6,1274.8 798.1,1274.9 799.6,1275.0 801.1,1275.3 802.6,1275.6 804.1,1276.1 805.7,1276.7 807.3,1277.3 808.9,1278.1 810.6,1278.9 812.3,1279.8 814.2,1280.8 816.1,1281.8 818.0,1282.9 820.1,1284.0 822.3,1285.2 824.7,1286.4 827.2,1287.6 829.9,1288.9 832.9,1290.1 836.1,1291.4 839.6,1292.6 843.5,1293.8 847.9,1295.0 852.9,1296.1 858.6,1297.2 865.2,1298.3 873.0,1299.3 882.4,1300.2 894.0,1301.0 908.7,1301.8 928.0,1302.4 954.5,1303.0 993.6,1303.5 1057.1,1303.9 1162.8,1304.1 1162.8,1304.4Z" fill="#ff7f00" fill-opacity="0.6"/>
<path d="M429.3,1304.4L429.3,1304.2 568.5,1303.9 641.1,1303.5 685.7,1303.0 716.1,1302.4 738.1,1301.8 754.9,1301.0 768.1,1300.2 778.9,1299.3 787.8,1298.3 795.4,1297.2 801.9,1296.1 807.6,1295.0 812.6,1293.8 817.0,1292.6 821.1,1291.4 824.8,1290.1 828.1,1288.9 831.2,1287.6 834.1,1286.4 836.8,1285.2 839.3,1284.0 841.7,1282.9 844.0,1281.8 846.1,1280.8 848.2,1279.8 850.2,1278.9 852.1,1278.1 854.0,1277.3 855.8,1276.7 857.6,1276.1 859.4,1275.6 861.1,1275.3 862.8,1275.0 864.5,1274.9 866.2,1274.8 867.9,1274.9 869.6,1275.0 871.3,1275.3 873.0,1275.6 874.8,1276.1 876.6,1276.7 878.4,1277.3 880.3,1278.1 882.2,1278.9 884.2,1279.8 886.3,1280.8 888.4,1281.8 890.7,1282.9 893.1,1284.0 895.6,1285.2 898.3,1286.4 901.2,1287.6 904.3,1288.9 907.6,1290.1 911.3,1291.4 915.4,1292.6 919.8,1293.8 924.8,1295.0 930.5,1296.1 937.0,1297.2 944.6,1298.3 953.5,1299.3 964.3,1300.2 977.5,1301.0 994.3,1301.8 1016.3,1302.4 1046.7,1303.0 1091.3,1303.5 1162.8,1303.9 1162.8,1304.4Z" fill="#ff00ff" fill-opacity="0.6"/>
<line x1="82.5" y1="1304.4" x2="1162.8" y2="1304.4" stroke="#000" stroke-width="2.4"/>
<path d="M141.3,1374.5L141.3,1374.3 185.6,1374.1 214.9,1374.0 235.8,1373.8 251.4,1373.6 263.7,1373.3 273.5,1373.1 281.6,1372.8 288.4,1372.5 294.3,1372.2 299.3,1371.8 303.8,1371.5 307.7,1371.1 311.3,1370.7 314.5,1370.4 317.4,1370.0 320.1,1369.6 322.6,1369.2 324.9,1368.8 327.1,1368.5 329.1,1368.1 331.0,1367.7 332.9,1367.4 334.6,1367.1 336.3,1366.8 337.9,1366.5 339.4,1366.2 340.9,1366.0 342.4,1365.7 343.8,1365.5 345.2,1365.4 346.6,1365.2 348.0,1365.1 349.3,1365.1 350.7,1365.0 352.0,1365.0 353.3,1365.0 354.7,1365.1 356.0,1365.1 357.4,1365.2 358.8,1365.4 360.2,1365.5 361.6,1365.7 363.1,1366.0 364.6,1366.2 366.1,1366.5 367.7,1366.8 369.4,1367.1 371.1,1367.4 373.0,1367.7 374.9,1368.1 376.9,1368.5 379.1,1368.8 381.4,1369.2 383.9,1369.6 386.6,1370.0 389.5,1370.4 392.7,1370.7 396.3,1371.1 400.2,1371.5 404.7,1371.8 409.7,1372.2 415.6,1372.5 422.4,1372.8 430.5,1373.1 440.3,1373.3 452.6,1373.6 468.2,1373.8 489.1,1374.0 518.4,1374.1 562.7,1374.3 562.7,1374.5Z" fill="#008000" fill-opacity="0.6" stroke="#000" stroke-width="1.6"/>
<path d="M413.9,1374.5L413.9,1374.3 535.6,1374.0 599.1,1373.6 638.2,1373.2 664.7,1372.6 684.0,1372.0 698.7,1371.2 710.3,1370.4 719.7,1369.5 727.5,1368.6 734.1,1367.6 739.8,1366.5 744.8,1365.4 749.2,1364.3 753.1,1363.1 756.6,1361.9 759.8,1360.7 762.8,1359.5 765.5,1358.3 768.0,1357.1 770.4,1355.9 772.6,1354.8 774.7,1353.7 776.6,1352.6 778.5,1351.7 780.4,1350.7 782.1,1349.8 783.8,1349.0 785.4,1348.3 787.0,1347.7 788.6,1347.2 790.1,1346.7 791.6,1346.4 793.1,1346.1 794.6,1346.0 796.1,1345.9 797.6,1346.0 799.1,1346.1 800.6,1346.4 802.1,1346.7 803.6,1347.2 805.2,1347.7 806.8,1348.3 808.4,1349.0 810.1,1349.8 811.8,1350.7 813.7,1351.7 815.6,1352.6 817.5,1353.7 819.6,1354.8 821.8,1355.9 824.2,1357.1 826.7,1358.3 829.4,1359.5 832.4,1360.7 835.6,1361.9 839.1,1363.1 843.0,1364.3 847.4,1365.4 852.4,1366.5 858.1,1367.6 864.7,1368.6 872.5,1369.5 881.9,1370.4 893.5,1371.2 908.2,1372.0 927.5,1372.6 954.0,1373.2 993.1,1373.6 1056.6,1374.0 1162.8,1374.2 1162.8,1374.5Z" fill="#ff7f00" fill-opacity="0.6" stroke="#000" stroke-width="1.6"/>
<path d="M428.4,1374.5L428.4,1374.3 567.6,1374.0 640.2,1373.6 684.8,1373.1 715.2,1372.6 737.2,1371.9 754.0,1371.2 767.2,1370.4 778.0,1369.5 786.9,1368.5 794.5,1367.5 801.0,1366.4 806.7,1365.3 811.7,1364.1 816.1,1362.9 820.2,1361.7 823.9,1360.5 827.2,1359.3 830.3,1358.1 833.2,1356.9 835.9,1355.7 838.4,1354.5 840.8,1353.4 843.1,1352.3 845.2,1351.3 847.3,1350.4 849.3,1349.5 851.2,1348.7 853.1,1348.0 854.9,1347.3 856.7,1346.8 858.5,1346.3 860.2,1346.0 861.9,1345.7 863.6,1345.6 865.3,1345.5 867.0,1345.6 868.7,1345.7 870.4,1346.0 872.1,1346.3 873.9,1346.8 875.7,1347.3 877.5,1348.0 879.4,1348.7 881.3,1349.5 883.3,1350.4 885.4,1351.3 887.5,1352.3 889.8,1353.4 892.2,1354.5 894.7,1355.7 897.4,1356.9 900.3,1358.1 903.4,1359.3 906.7,1360.5 910.4,1361.7 914.5,1362.9 918.9,1364.1 923.9,1365.3 929.6,1366.4 936.1,1367.5 943.7,1368.5 952.6,1369.5 963.4,1370.4 976.6,1371.2 993.4,1371.9 1015.4,1372.6 1045.8,1373.1 1090.4,1373.6 1162.8,1374.0 1162.8,1374.5Z" fill="#ff00ff" fill-opacity="0.6" stroke="#000" stroke-width="1.6"/>
<path d="M141.3,1374.5L141.3,1374.3 185.6,1374.1 214.9,1374.0 235.8,1373.8 251.4,1373.6 263.7,1373.3 273.5,1373.1 281.6,1372.8 288.4,1372.5 294.3,1372.2 299.3,1371.8 303.8,1371.5 307.7,1371.1 311.3,1370.7 314.5,1370.4 317.4,1370.0 320.1,1369.6 322.6,1369.2 324.9,1368.8 327.1,1368.5 329.1,1368.1 331.0,1367.7 332.9,1367.4 334.6,1367.1 336.3,1366.8 337.9,1366.5 339.4,1366.2 340.9,1366.0 342.4,1365.7 343.8,1365.5 345.2,1365.4 346.6,1365.2 348.0,1365.1 349.3,1365.1 350.7,1365.0 352.0,1365.0 353.3,1365.0 354.7,1365.1 356.0,1365.1 357.4,1365.2 358.8,1365.4 360.2,1365.5 361.6,1365.7 363.1,1366.0 364.6,1366.2 366.1,1366.5 367.7,1366.8 369.4,1367.1 371.1,1367.4 373.0,1367.7 374.9,1368.1 376.9,1368.5 379.1,1368.8 381.4,1369.2 383.9,1369.6 386.6,1370.0 389.5,1370.4 392.7,1370.7 396.3,1371.1 400.2,1371.5 404.7,1371.8 409.7,1372.2 415.6,1372.5 422.4,1372.8 430.5,1373.1 440.3,1373.3 452.6,1373.6 468.2,1373.8 489.1,1374.0 518.4,1374.1 562.7,1374.3 562.7,1374.5Z" fill="#008000" fill-opacity="0.6"/>
<path d="M413.9,1374.5L413.9,1374.3 535.6,1374.0 599.1,1373.6 638.2,1373.2 664.7,1372.6 684.0,1372.0 698.7,1371.2 710.3,1370.4 719.7,1369.5 727.5,1368.6 734.1,1367.6 739.8,1366.5 744.8,1365.4 749.2,1364.3 753.1,1363.1 756.6,1361.9 759.8,1360.7 762.8,1359.5 765.5,1358.3 768.0,1357.1 770.4,1355.9 772.6,1354.8 774.7,1353.7 776.6,1352.6 778.5,1351.7 780.4,1350.7 782.1,1349.8 783.8,1349.0 785.4,1348.3 787.0,1347.7 788.6,1347.2 790.1,1346.7 791.6,1346.4 793.1,1346.1 794.6,1346.0 796.1,1345.9 797.6,1346.0 799.1,1346.1 800.6,1346.4 802.1,1346.7 803.6,1347.2 805.2,1347.7 806.8,1348.3 808.4,1349.0 810.1,1349.8 811.8,1350.7 813.7,1351.7 815.6,1352.6 817.5,1353.7 819.6,1354.8 821.8,1355.9 824.2,1357.1 826.7,1358.3 829.4,1359.5 832.4,1360.7 835.6,1361.9 839.1,1363.1 843.0,1364.3 847.4,1365.4 852.4,1366.5 858.1,1367.6 864.7,1368.6 872.5,1369.5 881.9,1370.4 893.5,1371.2 908.2,1372.0 927.5,1372.6 954.0,1373.2 993.1,1373.6 1056.6,1374.0 1162.8,1374.2 1162.8,1374.5Z" fill="#ff7f00" fill-opacity="0.6"/>
<path d="M428.4,1374.5L428.4,1374.3 567.6,1374.0 640.2,1373.6 684.8,1373.1 715.2,1372.6 737.2,1371.9 754.0,1371.2 767.2,1370.4 778.0,1369.5 786.9,1368.5 794.5,1367.5 801.0,1366.4 806.7,1365.3 811.7,1364.1 816.1,1362.9 820.2,1361.7 823.9,1360.5 827.2,1359.3 830.3,1358.1 833.2,1356.9 835.9,1355.7 838.4,1354.5 840.8,1353.4 843.1,1352.3 845.2,1351.3 847.3,1350.4 849.3,1349.5 851.2,1348.7 853.1,1348.0 854.9,1347.3 856.7,1346.8 858.5,1346.3 860.2,1346.0 861.9,1345.7 863.6,1345.6 865.3,1345.5 867.0,1345.6 868.7,1345.7 870.4,1346.0 872.1,1346.3 873.9,1346.8 875.7,1347.3 877.5,1348.0 879.4,1348.7 881.3,1349.5 883.3,1350.4 885.4,1351.3 887.5,1352.3 889.8,1353.4 892.2,1354.5 894.7,1355.7 897.4,1356.9 900.3,1358.1 903.4,1359.3 906.7,1360.5 910.4,1361.7 914.5,1362.9 918.9,1364.1 923.9,1365.3 929.6,1366.4 936.1,1367.5 943.7,1368.5 952.6,1369.5 963.4,1370.4 976.6,1371.2 993.4,1371.9 1015.4,1372.6 1045.8,1373.1 1090.4,1373.6 1162.8,1374.0 1162.8,1374.5Z" fill="#ff00ff" fill-opacity="0.6"/>
<line x1="82.5" y1="1374.5" x2="1162.8" y2="1374.5" stroke="#000" stroke-width="2.4"/>
<line x1="190.5" y1="94.1" x2="351.9" y2="443.6" stroke="#000" stroke-width="2.5"/>
<line x1="351.9" y1="443.6" x2="511.5" y2="110.5" stroke="#000" stroke-width="2.5" stroke-dasharray="7.5 12" stroke-linecap="round"/>
<line x1="635.3" y1="40.4" x2="796.1" y2="424.3" stroke="#000" stroke-width="2.5"/>
<line x1="796.1" y1="424.3" x2="954.4" y2="110.5" stroke="#000" stroke-width="2.5" stroke-dasharray="7.5 12" stroke-linecap="round"/>
<line x1="705.4" y1="99.0" x2="865.2" y2="423.8" stroke="#000" stroke-width="2.5"/>
<line x1="865.2" y1="423.8" x2="1025.5" y2="78.6" stroke="#000" stroke-width="2.5" stroke-dasharray="7.5 12" stroke-linecap="round"/>
<line x1="245.9" y1="543.4" x2="351.3" y2="903.6" stroke="#000" stroke-width="2.5"/>
<line x1="351.3" y1="903.6" x2="474" y2="559" stroke="#000" stroke-width="2.5" stroke-dasharray="7.5 12" stroke-linecap="round"/>
<line x1="435" y1="521.8" x2="670.9" y2="913.5" stroke="#000" stroke-width="2.5"/>
<line x1="670.9" y1="913.5" x2="889.5" y2="524" stroke="#000" stroke-width="2.5" stroke-dasharray="7.5 12" stroke-linecap="round"/>
<line x1="690" y1="499" x2="795.9" y2="884.1" stroke="#000" stroke-width="2.5"/>
<line x1="795.9" y1="884.1" x2="922" y2="548" stroke="#000" stroke-width="2.5" stroke-dasharray="7.5 12" stroke-linecap="round"/>
<line x1="760.5" y1="541.3" x2="865.3" y2="884.1" stroke="#000" stroke-width="2.5"/>
<line x1="865.3" y1="884.1" x2="986" y2="525.4" stroke="#000" stroke-width="2.5" stroke-dasharray="7.5 12" stroke-linecap="round"/>
<path d="M367.0,1013.0 L361.6,1083.4 L356.8,1153.7 L354.2,1224.1 L352.8,1294.5 L352.0,1365.0" fill="none" stroke="#000" stroke-width="2.2" stroke-linejoin="round"/>
<path d="M655.2,951.6 L660.2,1047.0 L665.7,1137.6 L668.0,1222.6 L670.0,1303.4 L671.0,1374.5" fill="none" stroke="#000" stroke-width="2.2" stroke-linejoin="round"/>
<path d="M813.2,994.6 L805.4,1064.2 L801.0,1134.2 L800.0,1203.8 L796.6,1274.8 L796.1,1345.9" fill="none" stroke="#000" stroke-width="2.2" stroke-linejoin="round"/>
<path d="M881.1,995.2 L875.6,1064.8 L870.0,1134.8 L869.0,1203.8 L866.2,1274.8 L865.3,1345.5" fill="none" stroke="#000" stroke-width="2.2" stroke-linejoin="round"/>
<rect x="81.0" y="6.3" width="1083.3" height="1381.2" fill="none" stroke="#000" stroke-width="3"/>
<line x1="81.0" y1="466.8" x2="1164.3" y2="466.8" stroke="#000" stroke-width="4.2"/>
<line x1="81.0" y1="927.6" x2="1164.3" y2="927.6" stroke="#000" stroke-width="4.2"/>
<line x1="122.0" y1="925.5" x2="122.0" y2="919.6" stroke="#000" stroke-width="2.8"/>
<line x1="122.0" y1="1386" x2="122.0" y2="1380" stroke="#000" stroke-width="2.8"/>
<line x1="191.5" y1="7.8" x2="191.5" y2="14.0" stroke="#000" stroke-width="2.8"/>
<line x1="191.5" y1="464.7" x2="191.5" y2="458.5" stroke="#000" stroke-width="2.8"/>
<line x1="191.5" y1="468.9" x2="191.5" y2="482.4" stroke="#000" stroke-width="2.8"/>
<line x1="191.5" y1="925.5" x2="191.5" y2="912.3" stroke="#000" stroke-width="2.8"/>
<line x1="191.5" y1="929.7" x2="191.5" y2="942.6" stroke="#000" stroke-width="2.8"/>
<line x1="191.5" y1="1386" x2="191.5" y2="1374" stroke="#000" stroke-width="2.8"/>
<line x1="261.0" y1="468.9" x2="261.0" y2="475.0" stroke="#000" stroke-width="2.8"/>
<line x1="261.0" y1="925.5" x2="261.0" y2="919.6" stroke="#000" stroke-width="2.8"/>
<line x1="261.0" y1="929.7" x2="261.0" y2="935.2" stroke="#000" stroke-width="2.8"/>
<line x1="261.0" y1="1386" x2="261.0" y2="1380" stroke="#000" stroke-width="2.8"/>
<line x1="330.5" y1="7.8" x2="330.5" y2="20.5" stroke="#000" stroke-width="2.8"/>
<line x1="330.5" y1="464.7" x2="330.5" y2="451.2" stroke="#000" stroke-width="2.8"/>
<line x1="330.5" y1="468.9" x2="330.5" y2="482.4" stroke="#000" stroke-width="2.8"/>
<line x1="330.5" y1="925.5" x2="330.5" y2="912.3" stroke="#000" stroke-width="2.8"/>
<line x1="330.5" y1="929.7" x2="330.5" y2="942.6" stroke="#000" stroke-width="2.8"/>
<line x1="330.5" y1="1386" x2="330.5" y2="1374" stroke="#000" stroke-width="2.8"/>
<line x1="400.0" y1="468.9" x2="400.0" y2="475.0" stroke="#000" stroke-width="2.8"/>
<line x1="400.0" y1="925.5" x2="400.0" y2="919.6" stroke="#000" stroke-width="2.8"/>
<line x1="400.0" y1="929.7" x2="400.0" y2="935.2" stroke="#000" stroke-width="2.8"/>
<line x1="400.0" y1="1386" x2="400.0" y2="1380" stroke="#000" stroke-width="2.8"/>
<line x1="469.5" y1="7.8" x2="469.5" y2="14.0" stroke="#000" stroke-width="2.8"/>
<line x1="469.5" y1="464.7" x2="469.5" y2="458.5" stroke="#000" stroke-width="2.8"/>
<line x1="469.5" y1="468.9" x2="469.5" y2="482.4" stroke="#000" stroke-width="2.8"/>
<line x1="469.5" y1="925.5" x2="469.5" y2="912.3" stroke="#000" stroke-width="2.8"/>
<line x1="469.5" y1="929.7" x2="469.5" y2="942.6" stroke="#000" stroke-width="2.8"/>
<line x1="469.5" y1="1386" x2="469.5" y2="1374" stroke="#000" stroke-width="2.8"/>
<line x1="539.0" y1="468.9" x2="539.0" y2="475.0" stroke="#000" stroke-width="2.8"/>
<line x1="539.0" y1="925.5" x2="539.0" y2="919.6" stroke="#000" stroke-width="2.8"/>
<line x1="539.0" y1="929.7" x2="539.0" y2="935.2" stroke="#000" stroke-width="2.8"/>
<line x1="539.0" y1="1386" x2="539.0" y2="1380" stroke="#000" stroke-width="2.8"/>
<line x1="608.5" y1="7.8" x2="608.5" y2="20.5" stroke="#000" stroke-width="2.8"/>
<line x1="608.5" y1="464.7" x2="608.5" y2="451.2" stroke="#000" stroke-width="2.8"/>
<line x1="608.5" y1="468.9" x2="608.5" y2="482.4" stroke="#000" stroke-width="2.8"/>
<line x1="608.5" y1="925.5" x2="608.5" y2="912.3" stroke="#000" stroke-width="2.8"/>
<line x1="608.5" y1="929.7" x2="608.5" y2="942.6" stroke="#000" stroke-width="2.8"/>
<line x1="608.5" y1="1386" x2="608.5" y2="1374" stroke="#000" stroke-width="2.8"/>
<line x1="678.0" y1="468.9" x2="678.0" y2="475.0" stroke="#000" stroke-width="2.8"/>
<line x1="678.0" y1="925.5" x2="678.0" y2="919.6" stroke="#000" stroke-width="2.8"/>
<line x1="678.0" y1="929.7" x2="678.0" y2="935.2" stroke="#000" stroke-width="2.8"/>
<line x1="678.0" y1="1386" x2="678.0" y2="1380" stroke="#000" stroke-width="2.8"/>
<line x1="747.5" y1="7.8" x2="747.5" y2="14.0" stroke="#000" stroke-width="2.8"/>
<line x1="747.5" y1="464.7" x2="747.5" y2="458.5" stroke="#000" stroke-width="2.8"/>
<line x1="747.5" y1="468.9" x2="747.5" y2="482.4" stroke="#000" stroke-width="2.8"/>
<line x1="747.5" y1="925.5" x2="747.5" y2="912.3" stroke="#000" stroke-width="2.8"/>
<line x1="747.5" y1="929.7" x2="747.5" y2="942.6" stroke="#000" stroke-width="2.8"/>
<line x1="747.5" y1="1386" x2="747.5" y2="1374" stroke="#000" stroke-width="2.8"/>
<line x1="817.0" y1="468.9" x2="817.0" y2="475.0" stroke="#000" stroke-width="2.8"/>
<line x1="817.0" y1="925.5" x2="817.0" y2="919.6" stroke="#000" stroke-width="2.8"/>
<line x1="817.0" y1="929.7" x2="817.0" y2="935.2" stroke="#000" stroke-width="2.8"/>
<line x1="817.0" y1="1386" x2="817.0" y2="1380" stroke="#000" stroke-width="2.8"/>
<line x1="886.5" y1="7.8" x2="886.5" y2="20.5" stroke="#000" stroke-width="2.8"/>
<line x1="886.5" y1="464.7" x2="886.5" y2="451.2" stroke="#000" stroke-width="2.8"/>
<line x1="886.5" y1="468.9" x2="886.5" y2="482.4" stroke="#000" stroke-width="2.8"/>
<line x1="886.5" y1="925.5" x2="886.5" y2="912.3" stroke="#000" stroke-width="2.8"/>
<line x1="886.5" y1="929.7" x2="886.5" y2="942.6" stroke="#000" stroke-width="2.8"/>
<line x1="886.5" y1="1386" x2="886.5" y2="1374" stroke="#000" stroke-width="2.8"/>
<line x1="956.0" y1="468.9" x2="956.0" y2="475.0" stroke="#000" stroke-width="2.8"/>
<line x1="956.0" y1="925.5" x2="956.0" y2="919.6" stroke="#000" stroke-width="2.8"/>
<line x1="956.0" y1="929.7" x2="956.0" y2="935.2" stroke="#000" stroke-width="2.8"/>
<line x1="956.0" y1="1386" x2="956.0" y2="1380" stroke="#000" stroke-width="2.8"/>
<line x1="1025.5" y1="7.8" x2="1025.5" y2="14.0" stroke="#000" stroke-width="2.8"/>
<line x1="1025.5" y1="464.7" x2="1025.5" y2="458.5" stroke="#000" stroke-width="2.8"/>
<line x1="1025.5" y1="468.9" x2="1025.5" y2="482.4" stroke="#000" stroke-width="2.8"/>
<line x1="1025.5" y1="925.5" x2="1025.5" y2="912.3" stroke="#000" stroke-width="2.8"/>
<line x1="1025.5" y1="929.7" x2="1025.5" y2="942.6" stroke="#000" stroke-width="2.8"/>
<line x1="1025.5" y1="1386" x2="1025.5" y2="1374" stroke="#000" stroke-width="2.8"/>
<line x1="1095.0" y1="468.9" x2="1095.0" y2="475.0" stroke="#000" stroke-width="2.8"/>
<line x1="1095.0" y1="925.5" x2="1095.0" y2="919.6" stroke="#000" stroke-width="2.8"/>
<line x1="1095.0" y1="929.7" x2="1095.0" y2="935.2" stroke="#000" stroke-width="2.8"/>
<line x1="1095.0" y1="1386" x2="1095.0" y2="1380" stroke="#000" stroke-width="2.8"/>
<text x="191.5" y="1427.3" font-size="34" fill="#000" text-anchor="middle" style="font-family:&quot;Liberation Sans&quot;,sans-serif" >1.73</text>
<rect x="159.10" y="1423.46" width="7.72" height="4.54" fill="#fff"/>
<rect x="170.13" y="1423.46" width="6.46" height="4.54" fill="#fff"/>
<text x="330.5" y="1427.3" font-size="34" fill="#000" text-anchor="middle" style="font-family:&quot;Liberation Sans&quot;,sans-serif" >1.74</text>
<rect x="298.10" y="1423.46" width="7.72" height="4.54" fill="#fff"/>
<rect x="309.13" y="1423.46" width="6.46" height="4.54" fill="#fff"/>
<text x="469.5" y="1427.3" font-size="34" fill="#000" text-anchor="middle" style="font-family:&quot;Liberation Sans&quot;,sans-serif" >1.75</text>
<rect x="437.10" y="1423.46" width="7.72" height="4.54" fill="#fff"/>
<rect x="448.13" y="1423.46" width="6.46" height="4.54" fill="#fff"/>
<text x="608.5" y="1427.3" font-size="34" fill="#000" text-anchor="middle" style="font-family:&quot;Liberation Sans&quot;,sans-serif" >1.76</text>
<rect x="576.10" y="1423.46" width="7.72" height="4.54" fill="#fff"/>
<rect x="587.13" y="1423.46" width="6.46" height="4.54" fill="#fff"/>
<text x="747.5" y="1427.3" font-size="34" fill="#000" text-anchor="middle" style="font-family:&quot;Liberation Sans&quot;,sans-serif" >1.77</text>
<rect x="715.10" y="1423.46" width="7.72" height="4.54" fill="#fff"/>
<rect x="726.13" y="1423.46" width="6.46" height="4.54" fill="#fff"/>
<text x="886.5" y="1427.3" font-size="34" fill="#000" text-anchor="middle" style="font-family:&quot;Liberation Sans&quot;,sans-serif" >1.78</text>
<rect x="854.10" y="1423.46" width="7.72" height="4.54" fill="#fff"/>
<rect x="865.13" y="1423.46" width="6.46" height="4.54" fill="#fff"/>
<text x="1025.5" y="1427.3" font-size="34" fill="#000" text-anchor="middle" style="font-family:&quot;Liberation Sans&quot;,sans-serif" >1.79</text>
<rect x="993.10" y="1423.46" width="7.72" height="4.54" fill="#fff"/>
<rect x="1004.13" y="1423.46" width="6.46" height="4.54" fill="#fff"/>
<text x="1164.5" y="1427.3" font-size="34" fill="#000" text-anchor="middle" style="font-family:&quot;Liberation Sans&quot;,sans-serif" >1.80</text>
<rect x="1132.10" y="1423.46" width="7.72" height="4.54" fill="#fff"/>
<rect x="1143.13" y="1423.46" width="6.46" height="4.54" fill="#fff"/>
<text x="615.7" y="1478.7" font-size="46.5" fill="#000" text-anchor="middle" style="font-family:&quot;Liberation Sans&quot;,sans-serif" >Energy (eV)</text>
<text transform="translate(49,904) rotate(-90)" font-size="46.5" style="font-family:&quot;Liberation Sans&quot;,sans-serif">PL intensity (arb. u.)</text>
<text x="87" y="41.3" font-size="35" fill="#000" text-anchor="start" style="font-family:&quot;Liberation Sans&quot;,sans-serif" >(a)</text>
<text x="88" y="501.5" font-size="35" fill="#000" text-anchor="start" style="font-family:&quot;Liberation Sans&quot;,sans-serif" >(b)</text>
<text x="84.6" y="961" font-size="35" fill="#000" text-anchor="start" style="font-family:&quot;Liberation Sans&quot;,sans-serif" >(c)</text>
<text x="1161.5" y="36.3" font-size="31" fill="#000" text-anchor="end" style="font-family:&quot;Liberation Sans&quot;,sans-serif" >B (T)</text>
<g transform="translate(1162.2,101.7) scale(1,1.05)">
<text x="0" y="0" font-size="30.3" fill="#000" text-anchor="end" style="font-family:&quot;Liberation Sans&quot;,sans-serif" >100</text>
<rect x="-49.93" y="-3.56" width="6.86" height="4.26" fill="#fff"/>
<rect x="-40.09" y="-3.56" width="5.76" height="4.26" fill="#fff"/>
</g>
<g transform="translate(1162.2,171.1) scale(1,1.05)">
<text x="0" y="0" font-size="30.3" fill="#000" text-anchor="end" style="font-family:&quot;Liberation Sans&quot;,sans-serif" >80</text>
</g>
<g transform="translate(1162.2,239.6) scale(1,1.05)">
<text x="0" y="0" font-size="30.3" fill="#000" text-anchor="end" style="font-family:&quot;Liberation Sans&quot;,sans-serif" >60</text>
</g>
<g transform="translate(1162.2,309.6) scale(1,1.05)">
<text x="0" y="0" font-size="30.3" fill="#000" text-anchor="end" style="font-family:&quot;Liberation Sans&quot;,sans-serif" >40</text>
</g>
<g transform="translate(1162.2,377.6) scale(1,1.05)">
<text x="0" y="0" font-size="30.3" fill="#000" text-anchor="end" style="font-family:&quot;Liberation Sans&quot;,sans-serif" >20</text>
</g>
<g transform="translate(1162.2,438.0) scale(1,1.05)">
<text x="0" y="0" font-size="30.3" fill="#000" text-anchor="end" style="font-family:&quot;Liberation Sans&quot;,sans-serif" >0</text>
</g>
<g transform="translate(1159.3,538.8) scale(1,1.05)">
<text x="0" y="0" font-size="30.3" fill="#000" text-anchor="end" style="font-family:&quot;Liberation Sans&quot;,sans-serif" >100</text>
<rect x="-49.93" y="-3.56" width="6.86" height="4.26" fill="#fff"/>
<rect x="-40.09" y="-3.56" width="5.76" height="4.26" fill="#fff"/>
</g>
<g transform="translate(1159.3,622.2) scale(1,1.05)">
<text x="0" y="0" font-size="30.3" fill="#000" text-anchor="end" style="font-family:&quot;Liberation Sans&quot;,sans-serif" >80</text>
</g>
<g transform="translate(1159.3,693.3) scale(1,1.05)">
<text x="0" y="0" font-size="30.3" fill="#000" text-anchor="end" style="font-family:&quot;Liberation Sans&quot;,sans-serif" >60</text>
</g>
<g transform="translate(1159.3,764.6) scale(1,1.05)">
<text x="0" y="0" font-size="30.3" fill="#000" text-anchor="end" style="font-family:&quot;Liberation Sans&quot;,sans-serif" >40</text>
</g>
<g transform="translate(1161.8,835.1) scale(1,1.05)">
<text x="0" y="0" font-size="30.3" fill="#000" text-anchor="end" style="font-family:&quot;Liberation Sans&quot;,sans-serif" >20</text>
</g>
<g transform="translate(1159.3,906.1) scale(1,1.05)">
<text x="0" y="0" font-size="30.3" fill="#000" text-anchor="end" style="font-family:&quot;Liberation Sans&quot;,sans-serif" >0</text>
</g>
<g transform="translate(1159.3,1013.9) scale(1,1.05)">
<text x="0" y="0" font-size="30.3" fill="#000" text-anchor="end" style="font-family:&quot;Liberation Sans&quot;,sans-serif" >100</text>
<rect x="-49.93" y="-3.56" width="6.86" height="4.26" fill="#fff"/>
<rect x="-40.09" y="-3.56" width="5.76" height="4.26" fill="#fff"/>
</g>
<g transform="translate(1159.3,1080.9) scale(1,1.05)">
<text x="0" y="0" font-size="30.3" fill="#000" text-anchor="end" style="font-family:&quot;Liberation Sans&quot;,sans-serif" >80</text>
</g>
<g transform="translate(1159.3,1149.1) scale(1,1.05)">
<text x="0" y="0" font-size="30.3" fill="#000" text-anchor="end" style="font-family:&quot;Liberation Sans&quot;,sans-serif" >60</text>
</g>
<g transform="translate(1159.3,1217.3) scale(1,1.05)">
<text x="0" y="0" font-size="30.3" fill="#000" text-anchor="end" style="font-family:&quot;Liberation Sans&quot;,sans-serif" >40</text>
</g>
<g transform="translate(1161.8,1288.0) scale(1,1.05)">
<text x="0" y="0" font-size="30.3" fill="#000" text-anchor="end" style="font-family:&quot;Liberation Sans&quot;,sans-serif" >20</text>
</g>
<g transform="translate(1159.3,1353.3) scale(1,1.05)">
<text x="0" y="0" font-size="30.3" fill="#000" text-anchor="end" style="font-family:&quot;Liberation Sans&quot;,sans-serif" >0</text>
</g>
<text transform="translate(92.0,227.4) scale(1.2,1)" font-size="32" style="font-family:&quot;Liberation Serif&quot;,serif">α</text>
<text y="227.4" font-size="32" style="font-family:&quot;Liberation Serif&quot;,serif"><tspan x="119.3" dy="2.5">=</tspan><tspan x="145.7" dy="-2.5">0</tspan></text>
<text x="162.1" y="215.4" font-size="23" style="font-family:&quot;Liberation Serif&quot;,serif">o</text>
<text transform="translate(91.5,684.0) scale(1.2,1)" font-size="32" style="font-family:&quot;Liberation Serif&quot;,serif">α</text>
<text y="684.0" font-size="32" style="font-family:&quot;Liberation Serif&quot;,serif"><tspan x="118.8" dy="2.5">=</tspan><tspan x="145.1" dy="-2.5">45</tspan></text>
<text x="177.1" y="672.1" font-size="23" style="font-family:&quot;Liberation Serif&quot;,serif">o</text>
<text transform="translate(92.1,1143.5) scale(1.2,1)" font-size="32" style="font-family:&quot;Liberation Serif&quot;,serif">α</text>
<text y="1143.5" font-size="32" style="font-family:&quot;Liberation Serif&quot;,serif"><tspan x="119.4" dy="2.5">=</tspan><tspan x="146.7" dy="-2.5">90</tspan></text>
<text x="178.1" y="1131.5" font-size="23" style="font-family:&quot;Liberation Serif&quot;,serif">o</text>
<line x1="408.9" y1="40.5" x2="476.3" y2="40.5" stroke="#000" stroke-width="3" stroke-linecap="round"/>
<line x1="408.9" y1="75" x2="471" y2="75" stroke="#000" stroke-width="3" stroke-linecap="round" stroke-dasharray="10.5 15.5"/>
<text transform="translate(482.6,47.3) scale(1.07,0.96)" font-size="36" style="font-family:&quot;Liberation Serif&quot;,serif">σ</text>
<text x="503.3" y="31.2" font-size="24" style="font-family:&quot;Liberation Serif&quot;,serif">+</text>
<text transform="translate(482.6,84.6) scale(1.07,0.96)" font-size="36" style="font-family:&quot;Liberation Serif&quot;,serif">σ</text>
<text x="503.6" y="69.5" font-size="24" style="font-family:&quot;Liberation Serif&quot;,serif">-</text>
<text transform="translate(321.3,69.7) scale(1,1.05)" font-size="31" fill="#008000" style="font-family:&quot;Liberation Sans&quot;,sans-serif">XX</text>
<text transform="translate(750,69.9) scale(1,1.05)" font-size="31" fill="#ff7f00" style="font-family:&quot;Liberation Sans&quot;,sans-serif">XX<tspan font-size="21" dx="-0.8" dy="8">d</tspan></text>
<text transform="translate(870,78) scale(1,1.05)" font-size="31" fill="#ff00ff" style="font-family:&quot;Liberation Sans&quot;,sans-serif">XX'<tspan font-size="21" dx="-2" dy="8">d</tspan></text>
<text transform="translate(314,523.3) scale(1,1.05)" font-size="31" fill="#008000" style="font-family:&quot;Liberation Sans&quot;,sans-serif">XX</text>
<g transform="translate(559.7,513.6) scale(1,1.05)"><text font-size="31" fill="#0000ff" style="font-family:&quot;Liberation Sans&quot;,sans-serif">X<tspan font-size="21" dy="8">d</tspan><tspan x="31.5" dy="-8" font-size="30.3">(x10)</tspan></text>
<rect x="57.35" y="-3.56" width="6.86" height="4.26" fill="#fff"/>
<rect x="67.19" y="-3.56" width="5.76" height="4.26" fill="#fff"/>
</g>
<text transform="translate(767.5,514.4) scale(1,1.05)" font-size="31" fill="#ff7f00" style="font-family:&quot;Liberation Sans&quot;,sans-serif">XX<tspan font-size="21" dx="-0.8" dy="8">d</tspan></text>
<text transform="translate(906.6,514.4) scale(1,1.05)" font-size="31" fill="#ff00ff" style="font-family:&quot;Liberation Sans&quot;,sans-serif">XX'<tspan font-size="21" dx="-2" dy="8">d</tspan></text>
<text transform="translate(349.5,991.4) scale(1,1.05)" font-size="31" fill="#008000" style="font-family:&quot;Liberation Sans&quot;,sans-serif">XX</text>
<g transform="translate(521,975.3) scale(1,1.05)"><text font-size="31" fill="#0000ff" style="font-family:&quot;Liberation Sans&quot;,sans-serif">X<tspan font-size="21" dy="8">d</tspan><tspan x="30.5" dy="-8" font-size="30.3">(x10)</tspan></text>
<rect x="56.35" y="-3.56" width="6.86" height="4.26" fill="#fff"/>
<rect x="66.19" y="-3.56" width="5.76" height="4.26" fill="#fff"/>
</g>
<text transform="translate(786.4,980.7) scale(1,1.05)" font-size="31" fill="#ff7f00" style="font-family:&quot;Liberation Sans&quot;,sans-serif">XX<tspan font-size="21" dx="-0.8" dy="8">d</tspan></text>
<text transform="translate(873.6,980.7) scale(1,1.05)" font-size="31" fill="#ff00ff" style="font-family:&quot;Liberation Sans&quot;,sans-serif">XX'<tspan font-size="21" dx="-2" dy="8">d</tspan></text>
</svg>
</body></html>
